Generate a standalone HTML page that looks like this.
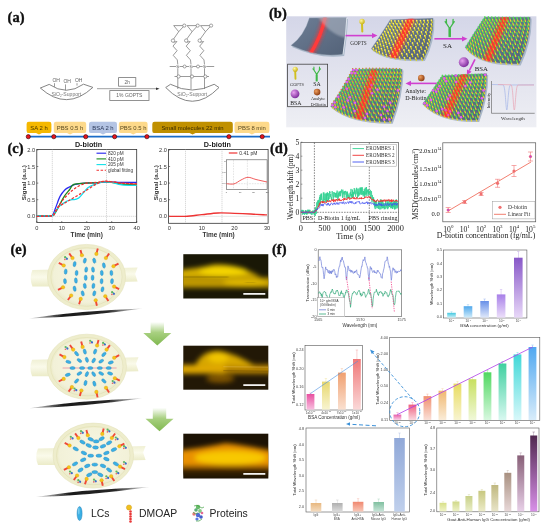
<!DOCTYPE html>
<html><head><meta charset="utf-8"><style>html,body{margin:0;padding:0;background:#fff;width:550px;height:532px;overflow:hidden}svg{display:block;filter:blur(0.4px)}</style></head>
<body><svg width="550" height="532" viewBox="0 0 550 532"><defs>
<linearGradient id="slate" x1="0" y1="0" x2="1" y2="1"><stop offset="0" stop-color="#6e7e96"/><stop offset="1" stop-color="#536278"/></linearGradient>
<linearGradient id="bgb" x1="0" y1="0" x2="0" y2="1"><stop offset="0" stop-color="#d4d6e8"/><stop offset="0.6" stop-color="#e4e5ef"/><stop offset="1" stop-color="#eeeff4"/></linearGradient>
<radialGradient id="ballp" cx="0.35" cy="0.35" r="0.7"><stop offset="0" stop-color="#e8a0f0"/><stop offset="1" stop-color="#7a2a9a"/></radialGradient>
<radialGradient id="ballo" cx="0.35" cy="0.35" r="0.7"><stop offset="0" stop-color="#f0a060"/><stop offset="1" stop-color="#8a3a10"/></radialGradient>
<radialGradient id="bub" cx="0.5" cy="0.45" r="0.6"><stop offset="0" stop-color="#f8f7e4"/><stop offset="0.8" stop-color="#f2f1d8"/><stop offset="1" stop-color="#e4e3c0"/></radialGradient>
<linearGradient id="stem" x1="0" y1="0" x2="0" y2="1"><stop offset="0" stop-color="#f0f0d4"/><stop offset="0.45" stop-color="#fafaea"/><stop offset="1" stop-color="#ebebc8"/></linearGradient>
<linearGradient id="garr" x1="0" y1="0" x2="0" y2="1"><stop offset="0" stop-color="#ffffff"/><stop offset="0.45" stop-color="#a8d080"/><stop offset="1" stop-color="#80b850"/></linearGradient>
<radialGradient id="bally" cx="0.35" cy="0.35" r="0.7"><stop offset="0" stop-color="#fff8a0"/><stop offset="1" stop-color="#c8b010"/></radialGradient>
<filter id="blur1b" x="-50%" y="-50%" width="200%" height="200%"><feGaussianBlur stdDeviation="1"/></filter>
<filter id="blur05" x="-20%" y="-200%" width="140%" height="500%"><feGaussianBlur stdDeviation="0.5"/></filter>
<filter id="blurM" x="-50%" y="-50%" width="200%" height="200%"><feGaussianBlur stdDeviation="2.6"/></filter>
<filter id="blur05b" x="-10%" y="-100%" width="120%" height="300%"><feGaussianBlur stdDeviation="0.55"/></filter>
<linearGradient id="shad" x1="0" y1="0" x2="1" y2="0"><stop offset="0" stop-color="#222" stop-opacity="0.15"/><stop offset="0.3" stop-color="#111" stop-opacity="0.95"/><stop offset="0.7" stop-color="#111" stop-opacity="0.9"/><stop offset="1" stop-color="#444" stop-opacity="0.2"/></linearGradient>
<filter id="blur05c" x="-50%" y="-20%" width="200%" height="140%"><feGaussianBlur stdDeviation="0.7"/></filter>
<filter id="blur1" x="-20%" y="-200%" width="140%" height="500%"><feGaussianBlur stdDeviation="0.8"/></filter>
<filter id="blur2" x="-30%" y="-30%" width="160%" height="160%"><feGaussianBlur stdDeviation="1.5"/></filter>
<filter id="blur3" x="-30%" y="-50%" width="160%" height="200%"><feGaussianBlur stdDeviation="2.5"/></filter>
</defs><rect width="550" height="532" fill="#fff"/><text x="7.6" y="21.6" font-size="14.5" font-family="Liberation Serif" text-anchor="start" font-weight="bold" fill="#111" stroke="#111" stroke-width="0.35">(a)</text>
<path d="M40.3,88 Q66.6,111.6 92.9,87.4 L83.5,84.2 Q66.4,96.2 49.2,84.4 Z" fill="#fff" stroke="#777" stroke-width="0.9"/>
<text x="66.3" y="95.6" font-size="5.1" font-family="Liberation Sans" text-anchor="middle" font-weight="normal" fill="#777" >SiO<tspan font-size="3.2" dy="1">2</tspan><tspan dy="-1">-Support</tspan></text>
<line x1="54.5" y1="83.2" x2="54.5" y2="86.8" stroke="#707070" stroke-width="0.7" fill="none"/>
<line x1="65.5" y1="84.4" x2="65.5" y2="90.3" stroke="#707070" stroke-width="0.7" fill="none"/>
<line x1="77" y1="83.2" x2="77" y2="85.6" stroke="#707070" stroke-width="0.7" fill="none"/>
<text x="56.2" y="82.2" font-size="5" font-family="Liberation Sans" text-anchor="middle" font-weight="normal" fill="#666" >OH</text>
<text x="67.2" y="83.4" font-size="5" font-family="Liberation Sans" text-anchor="middle" font-weight="normal" fill="#666" >OH</text>
<text x="78.7" y="82.4" font-size="5" font-family="Liberation Sans" text-anchor="middle" font-weight="normal" fill="#666" >OH</text>
<line x1="97" y1="88.7" x2="157.5" y2="88.7" stroke="#888" stroke-width="0.8"/>
<path d="M156,87.4 L159.6,88.7 L156,90 Z" fill="#333"/>
<rect x="118.6" y="77.6" width="17.2" height="8.6" fill="#fff" stroke="#777" stroke-width="0.8"/>
<text x="127.2" y="83.8" font-size="4.8" font-family="Liberation Sans" text-anchor="middle" font-weight="normal" fill="#666" >2h</text>
<rect x="109.8" y="90.6" width="39.2" height="9.8" fill="#fff" stroke="#777" stroke-width="0.8"/>
<text x="129.4" y="97.4" font-size="5" font-family="Liberation Sans" text-anchor="middle" font-weight="normal" fill="#666" >1% GOPTS</text>
<path d="M165.7,87.5 Q192.3,115 219,87.5 L214.2,84.3 Q192.3,95.7 170.5,84.3 Z" fill="#fff" stroke="#777" stroke-width="0.9"/>
<text x="192.2" y="96" font-size="5.1" font-family="Liberation Sans" text-anchor="middle" font-weight="normal" fill="#777" >SiO<tspan font-size="3.2" dy="1">2</tspan><tspan dy="-1">-Support</tspan></text>
<line x1="177.8" y1="66.5" x2="177.8" y2="89" stroke="#707070" stroke-width="0.7" fill="none"/>
<line x1="191" y1="66.5" x2="191" y2="89" stroke="#707070" stroke-width="0.7" fill="none"/>
<line x1="204.5" y1="66.5" x2="204.5" y2="89" stroke="#707070" stroke-width="0.7" fill="none"/>
<line x1="169.7" y1="66.5" x2="214.2" y2="66.5" stroke="#707070" stroke-width="0.7" fill="none"/>
<line x1="174.5" y1="76.5" x2="209" y2="76.5" stroke="#707070" stroke-width="0.7" fill="none"/>
<circle cx="178.6" cy="76.5" r="1.6" fill="#fff" stroke="#666" stroke-width="0.6"/>
<circle cx="192" cy="76.5" r="1.6" fill="#fff" stroke="#666" stroke-width="0.6"/>
<circle cx="205.3" cy="76.5" r="1.6" fill="#fff" stroke="#666" stroke-width="0.6"/>
<circle cx="184.6" cy="66.5" r="1.5" fill="#fff" stroke="#666" stroke-width="0.6"/>
<circle cx="198" cy="66.5" r="1.5" fill="#fff" stroke="#666" stroke-width="0.6"/>
<rect x="176.0" y="64.6" width="3.6" height="3.6" fill="#fff"/>
<text x="177.8" y="68" font-size="3.6" font-family="Liberation Sans" text-anchor="middle" font-weight="normal" fill="#555" >Si</text>
<rect x="189.2" y="64.6" width="3.6" height="3.6" fill="#fff"/>
<text x="191" y="68" font-size="3.6" font-family="Liberation Sans" text-anchor="middle" font-weight="normal" fill="#555" >Si</text>
<rect x="202.7" y="64.6" width="3.6" height="3.6" fill="#fff"/>
<text x="204.5" y="68" font-size="3.6" font-family="Liberation Sans" text-anchor="middle" font-weight="normal" fill="#555" >Si</text>
<path d="M177.8,64.5 L177.3,59.9 L173.2,55.3 L177.1,50.7 L173.0,46.1 L176.9,41.5 L173.5,42.2" stroke="#707070" stroke-width="0.7" fill="none"/>
<circle cx="173.0" cy="40.6" r="1.7" fill="#fff" stroke="#666" stroke-width="0.6"/>
<path d="M173.6,39 L178.7,31.7" stroke="#707070" stroke-width="0.7" fill="none"/>
<path d="M173.7,25.6 L184.29999999999998,25.6 L178.7,31.7 Z" stroke="#707070" stroke-width="0.7" fill="none"/>
<circle cx="184.29999999999998" cy="25.6" r="1.6" fill="#fff" stroke="#666" stroke-width="0.6"/>
<path d="M191.0,64.5 L190.5,59.9 L186.4,55.3 L190.3,50.7 L186.2,46.1 L190.1,41.5 L186.7,42.2" stroke="#707070" stroke-width="0.7" fill="none"/>
<circle cx="186.2" cy="40.6" r="1.7" fill="#fff" stroke="#666" stroke-width="0.6"/>
<path d="M186.79999999999998,39 L192.1,31.7" stroke="#707070" stroke-width="0.7" fill="none"/>
<path d="M187.1,25.6 L197.7,25.6 L192.1,31.7 Z" stroke="#707070" stroke-width="0.7" fill="none"/>
<circle cx="197.7" cy="25.6" r="1.6" fill="#fff" stroke="#666" stroke-width="0.6"/>
<path d="M204.5,64.5 L204.0,59.9 L199.9,55.3 L203.8,50.7 L199.7,46.1 L203.6,41.5 L200.2,42.2" stroke="#707070" stroke-width="0.7" fill="none"/>
<circle cx="199.7" cy="40.6" r="1.7" fill="#fff" stroke="#666" stroke-width="0.6"/>
<path d="M200.29999999999998,39 L205.5,31.7" stroke="#707070" stroke-width="0.7" fill="none"/>
<path d="M200.5,25.6 L211.1,25.6 L205.5,31.7 Z" stroke="#707070" stroke-width="0.7" fill="none"/>
<circle cx="211.1" cy="25.6" r="1.6" fill="#fff" stroke="#666" stroke-width="0.6"/>
<rect x="26.6" y="121.8" width="24.8" height="11.3" rx="2.2" fill="#f5b800"/>
<path d="M35.5,132.8 L39.0,134.6 L42.5,132.8 Z" fill="#f5b800"/>
<text x="39.0" y="129.8" font-size="5.9" font-family="Liberation Sans" text-anchor="middle" font-weight="normal" fill="#4a3800" >SA 2 h</text>
<rect x="53.8" y="121.8" width="32.4" height="11.3" rx="2.2" fill="#fdd98a"/>
<path d="M66.5,132.8 L70.0,134.6 L73.5,132.8 Z" fill="#fdd98a"/>
<text x="70.0" y="129.8" font-size="5.9" font-family="Liberation Sans" text-anchor="middle" font-weight="normal" fill="#5a4a20" >PBS 0.5 h</text>
<rect x="89" y="121.8" width="28.0" height="11.3" rx="2.2" fill="#b4c4e4"/>
<path d="M99.5,132.8 L103.0,134.6 L106.5,132.8 Z" fill="#b4c4e4"/>
<text x="103.0" y="129.8" font-size="5.9" font-family="Liberation Sans" text-anchor="middle" font-weight="normal" fill="#2a3858" >BSA 2 h</text>
<rect x="118.8" y="121.8" width="28.8" height="11.3" rx="2.2" fill="#fdd98a"/>
<path d="M129.7,132.8 L133.2,134.6 L136.7,132.8 Z" fill="#fdd98a"/>
<text x="133.2" y="129.8" font-size="5.9" font-family="Liberation Sans" text-anchor="middle" font-weight="normal" fill="#5a4a20" >PBS 0.5 h</text>
<rect x="152.3" y="121.8" width="80.5" height="11.3" rx="2.2" fill="#c09000"/>
<path d="M189.05,132.8 L192.55,134.6 L196.05,132.8 Z" fill="#c09000"/>
<text x="192.55" y="129.8" font-size="5.9" font-family="Liberation Sans" text-anchor="middle" font-weight="normal" fill="#3a2c00" >Small molecules 22 min</text>
<rect x="234.5" y="121.8" width="34.9" height="11.3" rx="2.2" fill="#fdd98a"/>
<path d="M248.45,132.8 L251.95,134.6 L255.45,132.8 Z" fill="#fdd98a"/>
<text x="251.95" y="129.8" font-size="5.9" font-family="Liberation Sans" text-anchor="middle" font-weight="normal" fill="#5a4a20" >PBS 8 min</text>
<line x1="27" y1="136.7" x2="270" y2="136.7" stroke="#1a6cc8" stroke-width="1.8"/>
<circle cx="28.3" cy="136.7" r="2.1" fill="#e8141e" stroke="#2a0000" stroke-width="0.6"/>
<circle cx="53.8" cy="136.7" r="2.1" fill="#e8141e" stroke="#2a0000" stroke-width="0.6"/>
<circle cx="85.7" cy="136.7" r="2.1" fill="#e8141e" stroke="#2a0000" stroke-width="0.6"/>
<circle cx="114.6" cy="136.7" r="2.1" fill="#e8141e" stroke="#2a0000" stroke-width="0.6"/>
<circle cx="146.9" cy="136.7" r="2.1" fill="#e8141e" stroke="#2a0000" stroke-width="0.6"/>
<circle cx="228.9" cy="136.7" r="2.1" fill="#e8141e" stroke="#2a0000" stroke-width="0.6"/>
<circle cx="262.2" cy="136.7" r="2.1" fill="#e8141e" stroke="#2a0000" stroke-width="0.6"/>
<text x="7.5" y="153.1" font-size="14.5" font-family="Liberation Serif" text-anchor="start" font-weight="bold" fill="#111" stroke="#111" stroke-width="0.35">(c)</text>
<rect x="36.8" y="149.4" width="99.89999999999999" height="73.1" fill="#fff" stroke="#333" stroke-width="0.8"/>
<line x1="36.8" y1="216.3" x2="38.3" y2="216.3" stroke="#333" stroke-width="0.6"/>
<text x="35.0" y="218.3" font-size="5.6" font-family="Liberation Sans" text-anchor="end" font-weight="normal" fill="#333" >0.0</text>
<line x1="36.8" y1="199.70000000000002" x2="38.3" y2="199.70000000000002" stroke="#333" stroke-width="0.6"/>
<text x="35.0" y="201.70000000000002" font-size="5.6" font-family="Liberation Sans" text-anchor="end" font-weight="normal" fill="#333" >0.5</text>
<line x1="36.8" y1="183.10000000000002" x2="38.3" y2="183.10000000000002" stroke="#333" stroke-width="0.6"/>
<text x="35.0" y="185.10000000000002" font-size="5.6" font-family="Liberation Sans" text-anchor="end" font-weight="normal" fill="#333" >1.0</text>
<line x1="36.8" y1="166.5" x2="38.3" y2="166.5" stroke="#333" stroke-width="0.6"/>
<text x="35.0" y="168.5" font-size="5.6" font-family="Liberation Sans" text-anchor="end" font-weight="normal" fill="#333" >1.5</text>
<line x1="36.8" y1="149.9" x2="38.3" y2="149.9" stroke="#333" stroke-width="0.6"/>
<text x="35.0" y="151.9" font-size="5.6" font-family="Liberation Sans" text-anchor="end" font-weight="normal" fill="#333" >2.0</text>
<line x1="36.8" y1="222.5" x2="36.8" y2="221.0" stroke="#333" stroke-width="0.6"/>
<text x="36.8" y="229.8" font-size="5.6" font-family="Liberation Sans" text-anchor="middle" font-weight="normal" fill="#333" >0</text>
<line x1="61.77499999999999" y1="222.5" x2="61.77499999999999" y2="221.0" stroke="#333" stroke-width="0.6"/>
<text x="61.77499999999999" y="229.8" font-size="5.6" font-family="Liberation Sans" text-anchor="middle" font-weight="normal" fill="#333" >10</text>
<line x1="86.75" y1="222.5" x2="86.75" y2="221.0" stroke="#333" stroke-width="0.6"/>
<text x="86.75" y="229.8" font-size="5.6" font-family="Liberation Sans" text-anchor="middle" font-weight="normal" fill="#333" >20</text>
<line x1="111.72499999999998" y1="222.5" x2="111.72499999999998" y2="221.0" stroke="#333" stroke-width="0.6"/>
<text x="111.72499999999998" y="229.8" font-size="5.6" font-family="Liberation Sans" text-anchor="middle" font-weight="normal" fill="#333" >30</text>
<line x1="136.7" y1="222.5" x2="136.7" y2="221.0" stroke="#333" stroke-width="0.6"/>
<text x="136.7" y="229.8" font-size="5.6" font-family="Liberation Sans" text-anchor="middle" font-weight="normal" fill="#333" >40</text>
<text x="86.7" y="236.6" font-size="6.4" font-family="Liberation Sans" text-anchor="middle" font-weight="bold" fill="#333" >Time (min)</text>
<text x="0" y="0" font-size="6.2" font-family="Liberation Sans" text-anchor="middle" font-weight="bold" fill="#333" transform="translate(26.2,182.6) rotate(-90)">Signal (a.u.)</text>
<text x="88.5" y="147.3" font-size="7.2" font-family="Liberation Sans" text-anchor="middle" font-weight="bold" fill="#222" >D-biotin</text>
<line x1="36.8" y1="216.3" x2="136.7" y2="216.3" stroke="#999" stroke-width="0.6" stroke-dasharray="0.8,1.2"/>
<line x1="52.3" y1="149.4" x2="52.3" y2="222.5" stroke="#999" stroke-width="0.6" stroke-dasharray="0.8,1.2"/>
<line x1="106.5" y1="149.4" x2="106.5" y2="222.5" stroke="#999" stroke-width="0.6" stroke-dasharray="0.8,1.2"/>
<path d="M36.80,215.64 C38.05,215.75 41.75,216.30 44.29,216.30 C46.83,216.30 50.16,217.02 52.03,215.64 C53.91,214.25 54.20,211.21 55.53,208.00 C56.86,204.79 58.44,199.42 60.03,196.38 C61.61,193.34 63.48,191.29 65.02,189.74 C66.56,188.19 67.56,187.97 69.27,187.08 C70.97,186.20 72.56,185.09 75.26,184.43 C77.97,183.76 81.92,183.38 85.50,183.10 C89.08,182.82 93.20,182.99 96.74,182.77 C100.28,182.55 102.57,181.83 106.73,181.77 C110.89,181.72 116.72,182.33 121.71,182.44 C126.71,182.55 134.20,182.44 136.70,182.44" fill="none" stroke="#2a2af0" stroke-width="1.25" />
<path d="M36.80,215.64 C39.34,215.64 48.91,216.19 52.03,215.64 C55.16,215.08 54.20,214.25 55.53,212.32 C56.86,210.38 58.57,206.67 60.03,204.02 C61.48,201.36 62.69,198.76 64.27,196.38 C65.85,194.00 67.94,191.73 69.52,189.74 C71.10,187.75 71.31,185.53 73.76,184.43 C76.22,183.32 80.42,183.38 84.25,183.10 C88.08,182.82 92.99,182.99 96.74,182.77 C100.49,182.55 102.57,181.55 106.73,181.77 C110.89,181.99 116.72,183.60 121.71,184.10 C126.71,184.59 134.20,184.65 136.70,184.76" fill="none" stroke="#1a8a1a" stroke-width="1.25" />
<path d="M36.80,215.64 C39.34,215.64 48.91,216.36 52.03,215.64 C55.16,214.92 54.32,212.87 55.53,211.32 C56.74,209.77 57.45,208.00 59.28,206.34 C61.11,204.68 64.44,202.47 66.52,201.36 C68.60,200.25 69.81,200.20 71.76,199.70 C73.72,199.20 75.51,200.42 78.26,198.37 C81.01,196.32 85.17,189.85 88.25,187.42 C91.33,184.98 94.08,184.70 96.74,183.76 C99.40,182.82 101.73,181.99 104.23,181.77 C106.73,181.55 108.81,181.94 111.72,182.44 C114.64,182.93 117.55,184.26 121.71,184.76 C125.88,185.26 134.20,185.31 136.70,185.42" fill="none" stroke="#10e0f0" stroke-width="1.25" />
<path d="M36.80,216.30 C39.34,216.19 49.00,216.36 52.03,215.64 C55.07,214.92 53.41,214.36 55.03,211.98 C56.66,209.60 58.90,204.96 61.77,201.36 C64.65,197.76 68.56,193.34 72.26,190.40 C75.97,187.47 79.92,185.09 84.00,183.76 C88.08,182.44 92.95,182.82 96.74,182.44 C100.53,182.05 102.57,181.33 106.73,181.44 C110.89,181.55 116.72,182.66 121.71,183.10 C126.71,183.54 134.20,183.93 136.70,184.10" fill="none" stroke="#f03030" stroke-width="1.25" stroke-dasharray="2.6,1.6"/>
<path d="M36.80,216.30 C39.34,216.19 49.00,216.36 52.03,215.64 C55.07,214.92 53.82,213.53 55.03,211.98 C56.24,210.43 57.36,208.00 59.28,206.34 C61.19,204.68 64.02,203.52 66.52,202.02 C69.02,200.53 71.35,199.09 74.26,197.38 C77.18,195.66 80.21,194.00 84.00,191.73 C87.79,189.46 93.37,185.53 96.99,183.76 C100.61,181.99 101.61,181.22 105.73,181.11 C109.85,181.00 116.55,182.66 121.71,183.10 C126.88,183.54 134.20,183.65 136.70,183.76" fill="none" stroke="#f03030" stroke-width="1.25" stroke-dasharray="2.6,1.6"/>
<line x1="96.5" y1="153.2" x2="106" y2="153.2" stroke="#2222ee" stroke-width="1.1" />
<text x="108" y="154.89999999999998" font-size="4.7" font-family="Liberation Sans" text-anchor="start" font-weight="normal" fill="#333" >820 pM</text>
<line x1="96.5" y1="158.89999999999998" x2="106" y2="158.89999999999998" stroke="#1a8a1a" stroke-width="1.1" />
<text x="108" y="160.59999999999997" font-size="4.7" font-family="Liberation Sans" text-anchor="start" font-weight="normal" fill="#333" >410 pM</text>
<line x1="96.5" y1="164.6" x2="106" y2="164.6" stroke="#10e0e8" stroke-width="1.1" />
<text x="108" y="166.29999999999998" font-size="4.7" font-family="Liberation Sans" text-anchor="start" font-weight="normal" fill="#333" >205 pM</text>
<line x1="96.5" y1="170.29999999999998" x2="106" y2="170.29999999999998" stroke="#ee3333" stroke-width="1.1" stroke-dasharray="2.5,1.6"/>
<text x="108" y="171.99999999999997" font-size="4.7" font-family="Liberation Sans" text-anchor="start" font-weight="normal" fill="#333" >global fitting</text>
<rect x="168.6" y="149.4" width="99.50000000000003" height="73.9" fill="#fff" stroke="#333" stroke-width="0.8"/>
<line x1="168.6" y1="216.3" x2="170.1" y2="216.3" stroke="#333" stroke-width="0.6"/>
<text x="166.79999999999998" y="218.3" font-size="5.6" font-family="Liberation Sans" text-anchor="end" font-weight="normal" fill="#333" >0.0</text>
<line x1="168.6" y1="199.70000000000002" x2="170.1" y2="199.70000000000002" stroke="#333" stroke-width="0.6"/>
<text x="166.79999999999998" y="201.70000000000002" font-size="5.6" font-family="Liberation Sans" text-anchor="end" font-weight="normal" fill="#333" >0.5</text>
<line x1="168.6" y1="183.10000000000002" x2="170.1" y2="183.10000000000002" stroke="#333" stroke-width="0.6"/>
<text x="166.79999999999998" y="185.10000000000002" font-size="5.6" font-family="Liberation Sans" text-anchor="end" font-weight="normal" fill="#333" >1.0</text>
<line x1="168.6" y1="166.5" x2="170.1" y2="166.5" stroke="#333" stroke-width="0.6"/>
<text x="166.79999999999998" y="168.5" font-size="5.6" font-family="Liberation Sans" text-anchor="end" font-weight="normal" fill="#333" >1.5</text>
<line x1="168.6" y1="149.9" x2="170.1" y2="149.9" stroke="#333" stroke-width="0.6"/>
<text x="166.79999999999998" y="151.9" font-size="5.6" font-family="Liberation Sans" text-anchor="end" font-weight="normal" fill="#333" >2.0</text>
<text x="169.2" y="229.8" font-size="5.6" font-family="Liberation Sans" text-anchor="middle" font-weight="normal" fill="#333" >0</text>
<text x="201.79999999999998" y="229.8" font-size="5.6" font-family="Liberation Sans" text-anchor="middle" font-weight="normal" fill="#333" >10</text>
<text x="234.39999999999998" y="229.8" font-size="5.6" font-family="Liberation Sans" text-anchor="middle" font-weight="normal" fill="#333" >20</text>
<text x="267.0" y="229.8" font-size="5.6" font-family="Liberation Sans" text-anchor="middle" font-weight="normal" fill="#333" >30</text>
<text x="218.6" y="236.6" font-size="6.4" font-family="Liberation Sans" text-anchor="middle" font-weight="bold" fill="#333" >Time (min)</text>
<text x="0" y="0" font-size="6.2" font-family="Liberation Sans" text-anchor="middle" font-weight="bold" fill="#333" transform="translate(158.4,182.6) rotate(-90)">Signal (a.u.)</text>
<text x="217.4" y="147.3" font-size="7.2" font-family="Liberation Sans" text-anchor="middle" font-weight="bold" fill="#222" >D-biotin</text>
<line x1="168.6" y1="216.3" x2="268.1" y2="216.3" stroke="#999" stroke-width="0.6" stroke-dasharray="0.8,1.2"/>
<line x1="185.5" y1="149.4" x2="185.5" y2="223.3" stroke="#999" stroke-width="0.6" stroke-dasharray="0.8,1.2"/>
<line x1="222" y1="149.4" x2="222" y2="223.3" stroke="#999" stroke-width="0.6" stroke-dasharray="0.8,1.2"/>
<path d="M169.20,216.30 C171.92,216.30 180.07,216.58 185.50,216.30 C190.93,216.02 196.37,215.19 201.80,214.64 C207.23,214.09 212.67,213.20 218.10,212.98 C223.53,212.76 228.97,213.15 234.40,213.31 C239.83,213.48 245.27,213.70 250.70,213.98 C256.13,214.25 264.28,214.81 267.00,214.97" fill="none" stroke="#ee3333" stroke-width="1.3"/>
<line x1="228.8" y1="153" x2="237.4" y2="153" stroke="#ee3333" stroke-width="1.2"/>
<text x="239.3" y="154.8" font-size="5" font-family="Liberation Sans" text-anchor="start" font-weight="normal" fill="#333" >0.41 pM</text>
<rect x="226.5" y="159.8" width="40.6" height="29.8" fill="#fff" stroke="#555" stroke-width="0.6"/>
<line x1="233.5" y1="160" x2="233.5" y2="189.6" stroke="#aaa" stroke-width="0.5" stroke-dasharray="0.6,1"/>
<line x1="247.4" y1="160" x2="247.4" y2="189.6" stroke="#aaa" stroke-width="0.5" stroke-dasharray="0.6,1"/>
<text x="226.5" y="192.6" font-size="2.4" font-family="Liberation Sans" text-anchor="middle" font-weight="normal" fill="#444" >0</text>
<text x="240.0" y="192.6" font-size="2.4" font-family="Liberation Sans" text-anchor="middle" font-weight="normal" fill="#444" >10</text>
<text x="253.5" y="192.6" font-size="2.4" font-family="Liberation Sans" text-anchor="middle" font-weight="normal" fill="#444" >20</text>
<text x="267.0" y="192.6" font-size="2.4" font-family="Liberation Sans" text-anchor="middle" font-weight="normal" fill="#444" >30</text>
<line x1="226.5" y1="183.7" x2="267" y2="183.7" stroke="#aaa" stroke-width="0.5" stroke-dasharray="0.6,1"/>
<path d="M226.50,183.70 C227.75,183.73 231.58,184.52 234.00,183.90 C236.42,183.28 238.67,181.10 241.00,180.00 C243.33,178.90 245.50,177.38 248.00,177.30 C250.50,177.22 252.83,178.72 256.00,179.50 C259.17,180.28 265.17,181.58 267.00,182.00" fill="none" stroke="#ee3333" stroke-width="0.8"/>
<text x="225.5" y="161.5" font-size="2.4" font-family="Liberation Sans" text-anchor="end" font-weight="normal" fill="#444" >2</text>
<text x="225.5" y="172.5" font-size="2.4" font-family="Liberation Sans" text-anchor="end" font-weight="normal" fill="#444" >1.5</text>
<text x="225.5" y="184" font-size="2.4" font-family="Liberation Sans" text-anchor="end" font-weight="normal" fill="#444" >0.0</text>
<text x="269" y="17.8" font-size="14.5" font-family="Liberation Serif" text-anchor="start" font-weight="bold" fill="#111" stroke="#111" stroke-width="0.35">(b)</text>
<rect x="286.2" y="16.3" width="250.2" height="111" fill="url(#bgb)"/>
<path d="M309.3,17.8 Q328,17.5 346.8,17.6 Q346,36 343,54.5 Q318,58 290.8,45.5 Q304,36 309.3,17.8 Z" fill="#a8b6c8" transform="translate(1.2,1.4)"/>
<path d="M309.3,17.8 Q328,17.5 346.8,17.6 Q346,36 343,54.5 Q318,58 290.8,45.5 Q304,36 309.3,17.8 Z" fill="url(#slate)"/>
<clipPath id="cp1"><path d="M309.3,17.8 Q328,17.5 346.8,17.6 Q346,36 343,54.5 Q318,58 290.8,45.5 Q304,36 309.3,17.8 Z"/></clipPath>
<g clip-path="url(#cp1)">
<path d="M325.3,16 Q322,36 309,56" fill="none" stroke="#ff3030" stroke-width="7" opacity="0.55" filter="url(#blur2)"/><path d="M325.3,16 Q322,36 309,56" fill="none" stroke="#ff3a3a" stroke-width="3.4" filter="url(#blur05c)"/>
<path d="M316,14 L350,14 L348,38 Q330,36 316,14 Z" fill="#b4bcc8" opacity="0.55" filter="url(#blur1b)"/>
</g>
<path d="M309.3,17.8 Q328,17.5 346.8,17.6 Q346,36 343,54.5 Q318,58 290.8,45.5 Q304,36 309.3,17.8 Z" fill="none" stroke="#c0cad8" stroke-width="0.5" opacity="0.7"/>
<path d="M346.8,17.6 Q346,36 343,54.5" fill="none" stroke="#e8ecf4" stroke-width="0.9" opacity="0.9"/>
<path d="M362,23.5 L362.3,31.5" stroke="#d0c020" stroke-width="2.0" stroke-linecap="round"/>
<circle cx="362" cy="21.5" r="2.7" fill="url(#bally)"/>
<line x1="345.5" y1="35.6" x2="372.0" y2="35.6" stroke="#d040d0" stroke-width="1.6"/>
<path d="M377.5,35.6 L372.0,38.2 L372.0,33.0 Z" fill="#d040d0"/>
<text x="358.5" y="45.2" font-size="5.2" font-family="Liberation Serif" text-anchor="middle" font-weight="normal" fill="#333" >GOPTS</text>
<path d="M390.2,19.5 Q412,19 433.2,18.1 Q434,40 423.7,59.7 Q385,61 371.1,48.8 Q382,33 390.2,19.5 Z" fill="#a8b6c8" transform="translate(1.2,1.4)"/>
<path d="M390.2,19.5 Q412,19 433.2,18.1 Q434,40 423.7,59.7 Q385,61 371.1,48.8 Q382,33 390.2,19.5 Z" fill="url(#slate)"/>
<clipPath id="cp2"><path d="M390.2,19.5 Q412,19 433.2,18.1 Q434,40 423.7,59.7 Q385,61 371.1,48.8 Q382,33 390.2,19.5 Z"/></clipPath>
<g clip-path="url(#cp2)">
<line x1="411.4" y1="17" x2="391" y2="62" stroke="#ff3030" stroke-width="9" opacity="0.7" filter="url(#blur2)"/>
<line x1="411.4" y1="17" x2="391" y2="62" stroke="#ff3838" stroke-width="4.5" opacity="0.9" filter="url(#blur05c)"/>
</g>
<path d="M390.2,19.5 Q412,19 433.2,18.1 Q434,40 423.7,59.7 Q385,61 371.1,48.8 Q382,33 390.2,19.5 Z" fill="none" stroke="#c0cad8" stroke-width="0.5" opacity="0.7"/>
<line x1="391.3" y1="20.7" x2="392.3" y2="23.7" stroke="#e0d818" stroke-width="1.1"/>
<circle cx="391.3" cy="20.7" r="0.85" fill="#fff060"/>
<line x1="389.7" y1="23.3" x2="390.7" y2="26.3" stroke="#e0d818" stroke-width="1.1"/>
<circle cx="389.7" cy="23.3" r="0.85" fill="#fff060"/>
<line x1="388.1" y1="26.0" x2="389.1" y2="29.0" stroke="#e0d818" stroke-width="1.1"/>
<circle cx="388.1" cy="26.0" r="0.85" fill="#fff060"/>
<line x1="386.4" y1="28.7" x2="387.4" y2="31.7" stroke="#e0d818" stroke-width="1.1"/>
<circle cx="386.4" cy="28.7" r="0.85" fill="#fff060"/>
<line x1="384.7" y1="31.4" x2="385.7" y2="34.4" stroke="#e0d818" stroke-width="1.1"/>
<circle cx="384.7" cy="31.4" r="0.85" fill="#fff060"/>
<line x1="382.9" y1="34.1" x2="383.9" y2="37.1" stroke="#e0d818" stroke-width="1.1"/>
<circle cx="382.9" cy="34.1" r="0.85" fill="#fff060"/>
<line x1="381.1" y1="36.9" x2="382.1" y2="39.9" stroke="#e0d818" stroke-width="1.1"/>
<circle cx="381.1" cy="36.9" r="0.85" fill="#fff060"/>
<line x1="379.2" y1="39.7" x2="380.2" y2="42.7" stroke="#e0d818" stroke-width="1.1"/>
<circle cx="379.2" cy="39.7" r="0.85" fill="#fff060"/>
<line x1="377.3" y1="42.5" x2="378.3" y2="45.5" stroke="#e0d818" stroke-width="1.1"/>
<circle cx="377.3" cy="42.5" r="0.85" fill="#fff060"/>
<line x1="375.3" y1="45.4" x2="376.3" y2="48.4" stroke="#e0d818" stroke-width="1.1"/>
<circle cx="375.3" cy="45.4" r="0.85" fill="#fff060"/>
<line x1="373.3" y1="48.3" x2="374.3" y2="51.3" stroke="#e0d818" stroke-width="1.1"/>
<circle cx="373.3" cy="48.3" r="0.85" fill="#fff060"/>
<line x1="394.9" y1="20.8" x2="395.9" y2="23.8" stroke="#e0d818" stroke-width="1.1"/>
<circle cx="394.9" cy="20.8" r="0.85" fill="#fff060"/>
<line x1="393.3" y1="23.6" x2="394.3" y2="26.6" stroke="#e0d818" stroke-width="1.1"/>
<circle cx="393.3" cy="23.6" r="0.85" fill="#fff060"/>
<line x1="391.6" y1="26.4" x2="392.6" y2="29.4" stroke="#e0d818" stroke-width="1.1"/>
<circle cx="391.6" cy="26.4" r="0.85" fill="#fff060"/>
<line x1="389.9" y1="29.3" x2="390.9" y2="32.3" stroke="#e0d818" stroke-width="1.1"/>
<circle cx="389.9" cy="29.3" r="0.85" fill="#fff060"/>
<line x1="388.1" y1="32.2" x2="389.1" y2="35.2" stroke="#e0d818" stroke-width="1.1"/>
<circle cx="388.1" cy="32.2" r="0.85" fill="#fff060"/>
<line x1="386.2" y1="35.1" x2="387.2" y2="38.1" stroke="#e0d818" stroke-width="1.1"/>
<circle cx="386.2" cy="35.1" r="0.85" fill="#fff060"/>
<line x1="384.3" y1="38.0" x2="385.3" y2="41.0" stroke="#e0d818" stroke-width="1.1"/>
<circle cx="384.3" cy="38.0" r="0.85" fill="#fff060"/>
<line x1="382.4" y1="41.0" x2="383.4" y2="44.0" stroke="#e0d818" stroke-width="1.1"/>
<circle cx="382.4" cy="41.0" r="0.85" fill="#fff060"/>
<line x1="380.3" y1="44.0" x2="381.3" y2="47.0" stroke="#e0d818" stroke-width="1.1"/>
<circle cx="380.3" cy="44.0" r="0.85" fill="#fff060"/>
<line x1="378.2" y1="47.0" x2="379.2" y2="50.0" stroke="#e0d818" stroke-width="1.1"/>
<circle cx="378.2" cy="47.0" r="0.85" fill="#fff060"/>
<line x1="376.1" y1="50.1" x2="377.1" y2="53.1" stroke="#e0d818" stroke-width="1.1"/>
<circle cx="376.1" cy="50.1" r="0.85" fill="#fff060"/>
<line x1="398.5" y1="20.8" x2="399.5" y2="23.8" stroke="#e0d818" stroke-width="1.1"/>
<circle cx="398.5" cy="20.8" r="0.85" fill="#fff060"/>
<line x1="396.9" y1="23.8" x2="397.9" y2="26.8" stroke="#e0d818" stroke-width="1.1"/>
<circle cx="396.9" cy="23.8" r="0.85" fill="#fff060"/>
<line x1="395.2" y1="26.8" x2="396.2" y2="29.8" stroke="#e0d818" stroke-width="1.1"/>
<circle cx="395.2" cy="26.8" r="0.85" fill="#fff060"/>
<line x1="393.4" y1="29.8" x2="394.4" y2="32.8" stroke="#e0d818" stroke-width="1.1"/>
<circle cx="393.4" cy="29.8" r="0.85" fill="#fff060"/>
<line x1="391.6" y1="32.9" x2="392.6" y2="35.9" stroke="#e0d818" stroke-width="1.1"/>
<circle cx="391.6" cy="32.9" r="0.85" fill="#fff060"/>
<line x1="389.7" y1="35.9" x2="390.7" y2="38.9" stroke="#e0d818" stroke-width="1.1"/>
<circle cx="389.7" cy="35.9" r="0.85" fill="#fff060"/>
<line x1="387.8" y1="39.0" x2="388.8" y2="42.0" stroke="#e0d818" stroke-width="1.1"/>
<circle cx="387.8" cy="39.0" r="0.85" fill="#fff060"/>
<line x1="385.7" y1="42.2" x2="386.7" y2="45.2" stroke="#e0d818" stroke-width="1.1"/>
<circle cx="385.7" cy="42.2" r="0.85" fill="#fff060"/>
<line x1="383.6" y1="45.3" x2="384.6" y2="48.3" stroke="#e0d818" stroke-width="1.1"/>
<circle cx="383.6" cy="45.3" r="0.85" fill="#fff060"/>
<line x1="381.4" y1="48.5" x2="382.4" y2="51.5" stroke="#e0d818" stroke-width="1.1"/>
<circle cx="381.4" cy="48.5" r="0.85" fill="#fff060"/>
<line x1="379.1" y1="51.7" x2="380.1" y2="54.7" stroke="#e0d818" stroke-width="1.1"/>
<circle cx="379.1" cy="51.7" r="0.85" fill="#fff060"/>
<line x1="402.1" y1="20.7" x2="403.1" y2="23.7" stroke="#e0d818" stroke-width="1.1"/>
<circle cx="402.1" cy="20.7" r="0.85" fill="#fff060"/>
<line x1="400.5" y1="23.9" x2="401.5" y2="26.9" stroke="#e0d818" stroke-width="1.1"/>
<circle cx="400.5" cy="23.9" r="0.85" fill="#fff060"/>
<line x1="398.9" y1="27.1" x2="399.9" y2="30.1" stroke="#e0d818" stroke-width="1.1"/>
<circle cx="398.9" cy="27.1" r="0.85" fill="#fff060"/>
<line x1="397.1" y1="30.3" x2="398.1" y2="33.3" stroke="#e0d818" stroke-width="1.1"/>
<circle cx="397.1" cy="30.3" r="0.85" fill="#fff060"/>
<line x1="395.3" y1="33.5" x2="396.3" y2="36.5" stroke="#e0d818" stroke-width="1.1"/>
<circle cx="395.3" cy="33.5" r="0.85" fill="#fff060"/>
<line x1="393.4" y1="36.7" x2="394.4" y2="39.7" stroke="#e0d818" stroke-width="1.1"/>
<circle cx="393.4" cy="36.7" r="0.85" fill="#fff060"/>
<line x1="391.4" y1="40.0" x2="392.4" y2="43.0" stroke="#e0d818" stroke-width="1.1"/>
<circle cx="391.4" cy="40.0" r="0.85" fill="#fff060"/>
<line x1="389.3" y1="43.2" x2="390.3" y2="46.2" stroke="#e0d818" stroke-width="1.1"/>
<circle cx="389.3" cy="43.2" r="0.85" fill="#fff060"/>
<line x1="387.1" y1="46.5" x2="388.1" y2="49.5" stroke="#e0d818" stroke-width="1.1"/>
<circle cx="387.1" cy="46.5" r="0.85" fill="#fff060"/>
<line x1="384.9" y1="49.8" x2="385.9" y2="52.8" stroke="#e0d818" stroke-width="1.1"/>
<circle cx="384.9" cy="49.8" r="0.85" fill="#fff060"/>
<line x1="382.5" y1="53.1" x2="383.5" y2="56.1" stroke="#e0d818" stroke-width="1.1"/>
<circle cx="382.5" cy="53.1" r="0.85" fill="#fff060"/>
<line x1="405.7" y1="20.7" x2="406.7" y2="23.7" stroke="#e0d818" stroke-width="1.1"/>
<circle cx="405.7" cy="20.7" r="0.85" fill="#fff060"/>
<line x1="404.2" y1="24.0" x2="405.2" y2="27.0" stroke="#e0d818" stroke-width="1.1"/>
<circle cx="404.2" cy="24.0" r="0.85" fill="#fff060"/>
<line x1="402.6" y1="27.4" x2="403.6" y2="30.4" stroke="#e0d818" stroke-width="1.1"/>
<circle cx="402.6" cy="27.4" r="0.85" fill="#fff060"/>
<line x1="400.9" y1="30.7" x2="401.9" y2="33.7" stroke="#e0d818" stroke-width="1.1"/>
<circle cx="400.9" cy="30.7" r="0.85" fill="#fff060"/>
<line x1="399.1" y1="34.1" x2="400.1" y2="37.1" stroke="#e0d818" stroke-width="1.1"/>
<circle cx="399.1" cy="34.1" r="0.85" fill="#fff060"/>
<line x1="397.2" y1="37.4" x2="398.2" y2="40.4" stroke="#e0d818" stroke-width="1.1"/>
<circle cx="397.2" cy="37.4" r="0.85" fill="#fff060"/>
<line x1="395.2" y1="40.8" x2="396.2" y2="43.8" stroke="#e0d818" stroke-width="1.1"/>
<circle cx="395.2" cy="40.8" r="0.85" fill="#fff060"/>
<line x1="393.1" y1="44.2" x2="394.1" y2="47.2" stroke="#e0d818" stroke-width="1.1"/>
<circle cx="393.1" cy="44.2" r="0.85" fill="#fff060"/>
<line x1="390.9" y1="47.5" x2="391.9" y2="50.5" stroke="#e0d818" stroke-width="1.1"/>
<circle cx="390.9" cy="47.5" r="0.85" fill="#fff060"/>
<line x1="388.6" y1="50.9" x2="389.6" y2="53.9" stroke="#e0d818" stroke-width="1.1"/>
<circle cx="388.6" cy="50.9" r="0.85" fill="#fff060"/>
<line x1="386.2" y1="54.3" x2="387.2" y2="57.3" stroke="#e0d818" stroke-width="1.1"/>
<circle cx="386.2" cy="54.3" r="0.85" fill="#fff060"/>
<line x1="409.4" y1="20.7" x2="410.4" y2="23.7" stroke="#e0d818" stroke-width="1.1"/>
<circle cx="409.4" cy="20.7" r="0.85" fill="#fff060"/>
<line x1="408.0" y1="24.1" x2="409.0" y2="27.1" stroke="#e0d818" stroke-width="1.1"/>
<circle cx="408.0" cy="24.1" r="0.85" fill="#fff060"/>
<line x1="406.4" y1="27.6" x2="407.4" y2="30.6" stroke="#e0d818" stroke-width="1.1"/>
<circle cx="406.4" cy="27.6" r="0.85" fill="#fff060"/>
<line x1="404.8" y1="31.1" x2="405.8" y2="34.1" stroke="#e0d818" stroke-width="1.1"/>
<circle cx="404.8" cy="31.1" r="0.85" fill="#fff060"/>
<line x1="403.0" y1="34.5" x2="404.0" y2="37.5" stroke="#e0d818" stroke-width="1.1"/>
<circle cx="403.0" cy="34.5" r="0.85" fill="#fff060"/>
<line x1="401.2" y1="38.0" x2="402.2" y2="41.0" stroke="#e0d818" stroke-width="1.1"/>
<circle cx="401.2" cy="38.0" r="0.85" fill="#fff060"/>
<line x1="399.2" y1="41.5" x2="400.2" y2="44.5" stroke="#e0d818" stroke-width="1.1"/>
<circle cx="399.2" cy="41.5" r="0.85" fill="#fff060"/>
<line x1="397.2" y1="44.9" x2="398.2" y2="47.9" stroke="#e0d818" stroke-width="1.1"/>
<circle cx="397.2" cy="44.9" r="0.85" fill="#fff060"/>
<line x1="395.0" y1="48.4" x2="396.0" y2="51.4" stroke="#e0d818" stroke-width="1.1"/>
<circle cx="395.0" cy="48.4" r="0.85" fill="#fff060"/>
<line x1="392.7" y1="51.9" x2="393.7" y2="54.9" stroke="#e0d818" stroke-width="1.1"/>
<circle cx="392.7" cy="51.9" r="0.85" fill="#fff060"/>
<line x1="390.3" y1="55.4" x2="391.3" y2="58.4" stroke="#e0d818" stroke-width="1.1"/>
<circle cx="390.3" cy="55.4" r="0.85" fill="#fff060"/>
<line x1="413.0" y1="20.6" x2="414.0" y2="23.6" stroke="#e0d818" stroke-width="1.1"/>
<circle cx="413.0" cy="20.6" r="0.85" fill="#fff060"/>
<line x1="411.7" y1="24.2" x2="412.7" y2="27.2" stroke="#e0d818" stroke-width="1.1"/>
<circle cx="411.7" cy="24.2" r="0.85" fill="#fff060"/>
<line x1="410.3" y1="27.8" x2="411.3" y2="30.8" stroke="#e0d818" stroke-width="1.1"/>
<circle cx="410.3" cy="27.8" r="0.85" fill="#fff060"/>
<line x1="408.8" y1="31.3" x2="409.8" y2="34.3" stroke="#e0d818" stroke-width="1.1"/>
<circle cx="408.8" cy="31.3" r="0.85" fill="#fff060"/>
<line x1="407.1" y1="34.9" x2="408.1" y2="37.9" stroke="#e0d818" stroke-width="1.1"/>
<circle cx="407.1" cy="34.9" r="0.85" fill="#fff060"/>
<line x1="405.4" y1="38.5" x2="406.4" y2="41.5" stroke="#e0d818" stroke-width="1.1"/>
<circle cx="405.4" cy="38.5" r="0.85" fill="#fff060"/>
<line x1="403.5" y1="42.0" x2="404.5" y2="45.0" stroke="#e0d818" stroke-width="1.1"/>
<circle cx="403.5" cy="42.0" r="0.85" fill="#fff060"/>
<line x1="401.4" y1="45.6" x2="402.4" y2="48.6" stroke="#e0d818" stroke-width="1.1"/>
<circle cx="401.4" cy="45.6" r="0.85" fill="#fff060"/>
<line x1="399.3" y1="49.2" x2="400.3" y2="52.2" stroke="#e0d818" stroke-width="1.1"/>
<circle cx="399.3" cy="49.2" r="0.85" fill="#fff060"/>
<line x1="397.0" y1="52.7" x2="398.0" y2="55.7" stroke="#e0d818" stroke-width="1.1"/>
<circle cx="397.0" cy="52.7" r="0.85" fill="#fff060"/>
<line x1="394.7" y1="56.3" x2="395.7" y2="59.3" stroke="#e0d818" stroke-width="1.1"/>
<circle cx="394.7" cy="56.3" r="0.85" fill="#fff060"/>
<line x1="416.7" y1="20.6" x2="417.7" y2="23.6" stroke="#e0d818" stroke-width="1.1"/>
<circle cx="416.7" cy="20.6" r="0.85" fill="#fff060"/>
<line x1="415.6" y1="24.2" x2="416.6" y2="27.2" stroke="#e0d818" stroke-width="1.1"/>
<circle cx="415.6" cy="24.2" r="0.85" fill="#fff060"/>
<line x1="414.3" y1="27.9" x2="415.3" y2="30.9" stroke="#e0d818" stroke-width="1.1"/>
<circle cx="414.3" cy="27.9" r="0.85" fill="#fff060"/>
<line x1="412.9" y1="31.6" x2="413.9" y2="34.6" stroke="#e0d818" stroke-width="1.1"/>
<circle cx="412.9" cy="31.6" r="0.85" fill="#fff060"/>
<line x1="411.3" y1="35.2" x2="412.3" y2="38.2" stroke="#e0d818" stroke-width="1.1"/>
<circle cx="411.3" cy="35.2" r="0.85" fill="#fff060"/>
<line x1="409.7" y1="38.9" x2="410.7" y2="41.9" stroke="#e0d818" stroke-width="1.1"/>
<circle cx="409.7" cy="38.9" r="0.85" fill="#fff060"/>
<line x1="407.9" y1="42.5" x2="408.9" y2="45.5" stroke="#e0d818" stroke-width="1.1"/>
<circle cx="407.9" cy="42.5" r="0.85" fill="#fff060"/>
<line x1="405.9" y1="46.1" x2="406.9" y2="49.1" stroke="#e0d818" stroke-width="1.1"/>
<circle cx="405.9" cy="46.1" r="0.85" fill="#fff060"/>
<line x1="403.9" y1="49.8" x2="404.9" y2="52.8" stroke="#e0d818" stroke-width="1.1"/>
<circle cx="403.9" cy="49.8" r="0.85" fill="#fff060"/>
<line x1="401.7" y1="53.4" x2="402.7" y2="56.4" stroke="#e0d818" stroke-width="1.1"/>
<circle cx="401.7" cy="53.4" r="0.85" fill="#fff060"/>
<line x1="399.4" y1="57.0" x2="400.4" y2="60.0" stroke="#e0d818" stroke-width="1.1"/>
<circle cx="399.4" cy="57.0" r="0.85" fill="#fff060"/>
<line x1="420.4" y1="20.5" x2="421.4" y2="23.5" stroke="#e0d818" stroke-width="1.1"/>
<circle cx="420.4" cy="20.5" r="0.85" fill="#fff060"/>
<line x1="419.4" y1="24.2" x2="420.4" y2="27.2" stroke="#e0d818" stroke-width="1.1"/>
<circle cx="419.4" cy="24.2" r="0.85" fill="#fff060"/>
<line x1="418.3" y1="28.0" x2="419.3" y2="31.0" stroke="#e0d818" stroke-width="1.1"/>
<circle cx="418.3" cy="28.0" r="0.85" fill="#fff060"/>
<line x1="417.1" y1="31.7" x2="418.1" y2="34.7" stroke="#e0d818" stroke-width="1.1"/>
<circle cx="417.1" cy="31.7" r="0.85" fill="#fff060"/>
<line x1="415.7" y1="35.5" x2="416.7" y2="38.5" stroke="#e0d818" stroke-width="1.1"/>
<circle cx="415.7" cy="35.5" r="0.85" fill="#fff060"/>
<line x1="414.2" y1="39.2" x2="415.2" y2="42.2" stroke="#e0d818" stroke-width="1.1"/>
<circle cx="414.2" cy="39.2" r="0.85" fill="#fff060"/>
<line x1="412.5" y1="42.9" x2="413.5" y2="45.9" stroke="#e0d818" stroke-width="1.1"/>
<circle cx="412.5" cy="42.9" r="0.85" fill="#fff060"/>
<line x1="410.7" y1="46.5" x2="411.7" y2="49.5" stroke="#e0d818" stroke-width="1.1"/>
<circle cx="410.7" cy="46.5" r="0.85" fill="#fff060"/>
<line x1="408.7" y1="50.2" x2="409.7" y2="53.2" stroke="#e0d818" stroke-width="1.1"/>
<circle cx="408.7" cy="50.2" r="0.85" fill="#fff060"/>
<line x1="406.6" y1="53.9" x2="407.6" y2="56.9" stroke="#e0d818" stroke-width="1.1"/>
<circle cx="406.6" cy="53.9" r="0.85" fill="#fff060"/>
<line x1="404.4" y1="57.5" x2="405.4" y2="60.5" stroke="#e0d818" stroke-width="1.1"/>
<circle cx="404.4" cy="57.5" r="0.85" fill="#fff060"/>
<line x1="424.0" y1="20.4" x2="425.0" y2="23.4" stroke="#e0d818" stroke-width="1.1"/>
<circle cx="424.0" cy="20.4" r="0.85" fill="#fff060"/>
<line x1="423.3" y1="24.2" x2="424.3" y2="27.2" stroke="#e0d818" stroke-width="1.1"/>
<circle cx="423.3" cy="24.2" r="0.85" fill="#fff060"/>
<line x1="422.4" y1="28.0" x2="423.4" y2="31.0" stroke="#e0d818" stroke-width="1.1"/>
<circle cx="422.4" cy="28.0" r="0.85" fill="#fff060"/>
<line x1="421.4" y1="31.8" x2="422.4" y2="34.8" stroke="#e0d818" stroke-width="1.1"/>
<circle cx="421.4" cy="31.8" r="0.85" fill="#fff060"/>
<line x1="420.2" y1="35.6" x2="421.2" y2="38.6" stroke="#e0d818" stroke-width="1.1"/>
<circle cx="420.2" cy="35.6" r="0.85" fill="#fff060"/>
<line x1="418.8" y1="39.4" x2="419.8" y2="42.4" stroke="#e0d818" stroke-width="1.1"/>
<circle cx="418.8" cy="39.4" r="0.85" fill="#fff060"/>
<line x1="417.3" y1="43.1" x2="418.3" y2="46.1" stroke="#e0d818" stroke-width="1.1"/>
<circle cx="417.3" cy="43.1" r="0.85" fill="#fff060"/>
<line x1="415.7" y1="46.8" x2="416.7" y2="49.8" stroke="#e0d818" stroke-width="1.1"/>
<circle cx="415.7" cy="46.8" r="0.85" fill="#fff060"/>
<line x1="413.9" y1="50.5" x2="414.9" y2="53.5" stroke="#e0d818" stroke-width="1.1"/>
<circle cx="413.9" cy="50.5" r="0.85" fill="#fff060"/>
<line x1="411.9" y1="54.2" x2="412.9" y2="57.2" stroke="#e0d818" stroke-width="1.1"/>
<circle cx="411.9" cy="54.2" r="0.85" fill="#fff060"/>
<line x1="409.8" y1="57.8" x2="410.8" y2="60.8" stroke="#e0d818" stroke-width="1.1"/>
<circle cx="409.8" cy="57.8" r="0.85" fill="#fff060"/>
<line x1="427.7" y1="20.3" x2="428.7" y2="23.3" stroke="#e0d818" stroke-width="1.1"/>
<circle cx="427.7" cy="20.3" r="0.85" fill="#fff060"/>
<line x1="427.2" y1="24.2" x2="428.2" y2="27.2" stroke="#e0d818" stroke-width="1.1"/>
<circle cx="427.2" cy="24.2" r="0.85" fill="#fff060"/>
<line x1="426.6" y1="28.0" x2="427.6" y2="31.0" stroke="#e0d818" stroke-width="1.1"/>
<circle cx="426.6" cy="28.0" r="0.85" fill="#fff060"/>
<line x1="425.8" y1="31.9" x2="426.8" y2="34.9" stroke="#e0d818" stroke-width="1.1"/>
<circle cx="425.8" cy="31.9" r="0.85" fill="#fff060"/>
<line x1="424.8" y1="35.7" x2="425.8" y2="38.7" stroke="#e0d818" stroke-width="1.1"/>
<circle cx="424.8" cy="35.7" r="0.85" fill="#fff060"/>
<line x1="423.7" y1="39.5" x2="424.7" y2="42.5" stroke="#e0d818" stroke-width="1.1"/>
<circle cx="423.7" cy="39.5" r="0.85" fill="#fff060"/>
<line x1="422.4" y1="43.2" x2="423.4" y2="46.2" stroke="#e0d818" stroke-width="1.1"/>
<circle cx="422.4" cy="43.2" r="0.85" fill="#fff060"/>
<line x1="420.9" y1="47.0" x2="421.9" y2="50.0" stroke="#e0d818" stroke-width="1.1"/>
<circle cx="420.9" cy="47.0" r="0.85" fill="#fff060"/>
<line x1="419.2" y1="50.7" x2="420.2" y2="53.7" stroke="#e0d818" stroke-width="1.1"/>
<circle cx="419.2" cy="50.7" r="0.85" fill="#fff060"/>
<line x1="417.4" y1="54.3" x2="418.4" y2="57.3" stroke="#e0d818" stroke-width="1.1"/>
<circle cx="417.4" cy="54.3" r="0.85" fill="#fff060"/>
<line x1="415.5" y1="58.0" x2="416.5" y2="61.0" stroke="#e0d818" stroke-width="1.1"/>
<circle cx="415.5" cy="58.0" r="0.85" fill="#fff060"/>
<line x1="431.4" y1="20.2" x2="432.4" y2="23.2" stroke="#e0d818" stroke-width="1.1"/>
<circle cx="431.4" cy="20.2" r="0.85" fill="#fff060"/>
<line x1="431.2" y1="24.1" x2="432.2" y2="27.1" stroke="#e0d818" stroke-width="1.1"/>
<circle cx="431.2" cy="24.1" r="0.85" fill="#fff060"/>
<line x1="430.8" y1="28.0" x2="431.8" y2="31.0" stroke="#e0d818" stroke-width="1.1"/>
<circle cx="430.8" cy="28.0" r="0.85" fill="#fff060"/>
<line x1="430.3" y1="31.9" x2="431.3" y2="34.9" stroke="#e0d818" stroke-width="1.1"/>
<circle cx="430.3" cy="31.9" r="0.85" fill="#fff060"/>
<line x1="429.6" y1="35.7" x2="430.6" y2="38.7" stroke="#e0d818" stroke-width="1.1"/>
<circle cx="429.6" cy="35.7" r="0.85" fill="#fff060"/>
<line x1="428.7" y1="39.5" x2="429.7" y2="42.5" stroke="#e0d818" stroke-width="1.1"/>
<circle cx="428.7" cy="39.5" r="0.85" fill="#fff060"/>
<line x1="427.6" y1="43.2" x2="428.6" y2="46.2" stroke="#e0d818" stroke-width="1.1"/>
<circle cx="427.6" cy="43.2" r="0.85" fill="#fff060"/>
<line x1="426.3" y1="47.0" x2="427.3" y2="50.0" stroke="#e0d818" stroke-width="1.1"/>
<circle cx="426.3" cy="47.0" r="0.85" fill="#fff060"/>
<line x1="424.9" y1="50.7" x2="425.9" y2="53.7" stroke="#e0d818" stroke-width="1.1"/>
<circle cx="424.9" cy="50.7" r="0.85" fill="#fff060"/>
<line x1="423.3" y1="54.3" x2="424.3" y2="57.3" stroke="#e0d818" stroke-width="1.1"/>
<circle cx="423.3" cy="54.3" r="0.85" fill="#fff060"/>
<line x1="421.5" y1="58.0" x2="422.5" y2="61.0" stroke="#e0d818" stroke-width="1.1"/>
<circle cx="421.5" cy="58.0" r="0.85" fill="#fff060"/>
<g clip-path="url(#cp2)"><line x1="411.4" y1="17" x2="391" y2="62" stroke="#ff3020" stroke-width="5" opacity="0.45" filter="url(#blur1b)"/></g>
<path d="M449.09999999999997,28.5 L449.09999999999997,36.5 M450.3,28.5 L450.3,36.5 M449.7,28.5 L446.5,23.5 L446.3,19.5 M449.7,28.5 L452.9,23.5 L453.09999999999997,19.5 M446.5,23.5 L445.09999999999997,21.7 M452.9,23.5 L454.3,21.7" stroke="#40b848" stroke-width="1.3" fill="none" stroke-linecap="round"/>
<line x1="434.4" y1="38.8" x2="462.0" y2="38.8" stroke="#d040d0" stroke-width="1.6"/>
<path d="M467.5,38.8 L462.0,41.4 L462.0,36.2 Z" fill="#d040d0"/>
<text x="447.5" y="47.6" font-size="7" font-family="Liberation Serif" text-anchor="middle" font-weight="normal" fill="#222" >SA</text>
<path d="M484.5,17 Q507,17 530.4,17 Q531,40 519.5,64 Q478,65 465,47.5 Q475,31 484.5,17 Z" fill="#a8b6c8" transform="translate(1.2,1.4)"/>
<path d="M484.5,17 Q507,17 530.4,17 Q531,40 519.5,64 Q478,65 465,47.5 Q475,31 484.5,17 Z" fill="url(#slate)"/>
<clipPath id="cp3"><path d="M484.5,17 Q507,17 530.4,17 Q531,40 519.5,64 Q478,65 465,47.5 Q475,31 484.5,17 Z"/></clipPath>
<g clip-path="url(#cp3)">
<line x1="506" y1="15" x2="485" y2="66" stroke="#ff3030" stroke-width="9" opacity="0.7" filter="url(#blur2)"/>
<line x1="506" y1="15" x2="485" y2="66" stroke="#ff3838" stroke-width="4.5" opacity="0.9" filter="url(#blur05c)"/>
</g>
<path d="M484.5,17 Q507,17 530.4,17 Q531,40 519.5,64 Q478,65 465,47.5 Q475,31 484.5,17 Z" fill="none" stroke="#c0cad8" stroke-width="0.5" opacity="0.7"/>
<line x1="485.4" y1="18.7" x2="486.3" y2="21.2" stroke="#f0e020" stroke-width="1.1"/>
<line x1="484.6" y1="16.2" x2="485.4" y2="18.8" stroke="#50e050" stroke-width="1.3"/>
<line x1="483.8" y1="21.2" x2="484.7" y2="23.7" stroke="#f0e020" stroke-width="1.1"/>
<line x1="483.0" y1="18.7" x2="483.8" y2="21.3" stroke="#50e050" stroke-width="1.3"/>
<line x1="482.2" y1="23.7" x2="483.1" y2="26.2" stroke="#f0e020" stroke-width="1.1"/>
<line x1="481.4" y1="21.2" x2="482.2" y2="23.8" stroke="#50e050" stroke-width="1.3"/>
<line x1="480.5" y1="26.3" x2="481.4" y2="28.8" stroke="#f0e020" stroke-width="1.1"/>
<line x1="479.7" y1="23.8" x2="480.5" y2="26.4" stroke="#50e050" stroke-width="1.3"/>
<line x1="478.9" y1="28.9" x2="479.8" y2="31.4" stroke="#f0e020" stroke-width="1.1"/>
<line x1="478.1" y1="26.4" x2="478.9" y2="29.0" stroke="#50e050" stroke-width="1.3"/>
<line x1="477.2" y1="31.5" x2="478.1" y2="34.0" stroke="#f0e020" stroke-width="1.1"/>
<line x1="476.4" y1="29.0" x2="477.2" y2="31.6" stroke="#50e050" stroke-width="1.3"/>
<line x1="475.5" y1="34.1" x2="476.4" y2="36.6" stroke="#f0e020" stroke-width="1.1"/>
<line x1="474.7" y1="31.6" x2="475.5" y2="34.2" stroke="#50e050" stroke-width="1.3"/>
<line x1="473.8" y1="36.8" x2="474.7" y2="39.3" stroke="#f0e020" stroke-width="1.1"/>
<line x1="473.0" y1="34.3" x2="473.8" y2="36.9" stroke="#50e050" stroke-width="1.3"/>
<line x1="472.1" y1="39.5" x2="473.0" y2="42.0" stroke="#f0e020" stroke-width="1.1"/>
<line x1="471.3" y1="37.0" x2="472.1" y2="39.6" stroke="#50e050" stroke-width="1.3"/>
<line x1="470.4" y1="42.3" x2="471.3" y2="44.8" stroke="#f0e020" stroke-width="1.1"/>
<line x1="469.6" y1="39.8" x2="470.4" y2="42.4" stroke="#50e050" stroke-width="1.3"/>
<line x1="468.7" y1="45.1" x2="469.6" y2="47.6" stroke="#f0e020" stroke-width="1.1"/>
<line x1="467.9" y1="42.6" x2="468.7" y2="45.2" stroke="#50e050" stroke-width="1.3"/>
<line x1="466.9" y1="47.9" x2="467.8" y2="50.4" stroke="#f0e020" stroke-width="1.1"/>
<line x1="466.1" y1="45.4" x2="466.9" y2="48.0" stroke="#50e050" stroke-width="1.3"/>
<line x1="488.9" y1="18.8" x2="489.8" y2="21.3" stroke="#f0e020" stroke-width="1.1"/>
<line x1="488.1" y1="16.3" x2="488.9" y2="18.9" stroke="#50e050" stroke-width="1.3"/>
<line x1="487.2" y1="21.5" x2="488.1" y2="24.0" stroke="#f0e020" stroke-width="1.1"/>
<line x1="486.4" y1="19.0" x2="487.2" y2="21.6" stroke="#50e050" stroke-width="1.3"/>
<line x1="485.6" y1="24.3" x2="486.5" y2="26.8" stroke="#f0e020" stroke-width="1.1"/>
<line x1="484.8" y1="21.8" x2="485.6" y2="24.4" stroke="#50e050" stroke-width="1.3"/>
<line x1="483.9" y1="27.0" x2="484.8" y2="29.5" stroke="#f0e020" stroke-width="1.1"/>
<line x1="483.1" y1="24.5" x2="483.9" y2="27.1" stroke="#50e050" stroke-width="1.3"/>
<line x1="482.1" y1="29.8" x2="483.0" y2="32.3" stroke="#f0e020" stroke-width="1.1"/>
<line x1="481.3" y1="27.3" x2="482.1" y2="29.9" stroke="#50e050" stroke-width="1.3"/>
<line x1="480.4" y1="32.6" x2="481.3" y2="35.1" stroke="#f0e020" stroke-width="1.1"/>
<line x1="479.6" y1="30.1" x2="480.4" y2="32.7" stroke="#50e050" stroke-width="1.3"/>
<line x1="478.6" y1="35.5" x2="479.5" y2="38.0" stroke="#f0e020" stroke-width="1.1"/>
<line x1="477.8" y1="33.0" x2="478.6" y2="35.6" stroke="#50e050" stroke-width="1.3"/>
<line x1="476.8" y1="38.4" x2="477.7" y2="40.9" stroke="#f0e020" stroke-width="1.1"/>
<line x1="476.0" y1="35.9" x2="476.8" y2="38.5" stroke="#50e050" stroke-width="1.3"/>
<line x1="475.0" y1="41.3" x2="475.9" y2="43.8" stroke="#f0e020" stroke-width="1.1"/>
<line x1="474.2" y1="38.8" x2="475.0" y2="41.4" stroke="#50e050" stroke-width="1.3"/>
<line x1="473.1" y1="44.3" x2="474.0" y2="46.8" stroke="#f0e020" stroke-width="1.1"/>
<line x1="472.3" y1="41.8" x2="473.1" y2="44.4" stroke="#50e050" stroke-width="1.3"/>
<line x1="471.2" y1="47.3" x2="472.1" y2="49.8" stroke="#f0e020" stroke-width="1.1"/>
<line x1="470.4" y1="44.8" x2="471.2" y2="47.4" stroke="#50e050" stroke-width="1.3"/>
<line x1="469.3" y1="50.3" x2="470.2" y2="52.8" stroke="#f0e020" stroke-width="1.1"/>
<line x1="468.5" y1="47.8" x2="469.3" y2="50.4" stroke="#50e050" stroke-width="1.3"/>
<line x1="492.4" y1="18.9" x2="493.3" y2="21.4" stroke="#f0e020" stroke-width="1.1"/>
<line x1="491.6" y1="16.4" x2="492.4" y2="19.0" stroke="#50e050" stroke-width="1.3"/>
<line x1="490.7" y1="21.8" x2="491.6" y2="24.3" stroke="#f0e020" stroke-width="1.1"/>
<line x1="489.9" y1="19.3" x2="490.7" y2="21.9" stroke="#50e050" stroke-width="1.3"/>
<line x1="489.0" y1="24.7" x2="489.9" y2="27.2" stroke="#f0e020" stroke-width="1.1"/>
<line x1="488.2" y1="22.2" x2="489.0" y2="24.8" stroke="#50e050" stroke-width="1.3"/>
<line x1="487.3" y1="27.7" x2="488.2" y2="30.2" stroke="#f0e020" stroke-width="1.1"/>
<line x1="486.5" y1="25.2" x2="487.3" y2="27.8" stroke="#50e050" stroke-width="1.3"/>
<line x1="485.5" y1="30.7" x2="486.4" y2="33.2" stroke="#f0e020" stroke-width="1.1"/>
<line x1="484.7" y1="28.2" x2="485.5" y2="30.8" stroke="#50e050" stroke-width="1.3"/>
<line x1="483.7" y1="33.7" x2="484.6" y2="36.2" stroke="#f0e020" stroke-width="1.1"/>
<line x1="482.9" y1="31.2" x2="483.7" y2="33.8" stroke="#50e050" stroke-width="1.3"/>
<line x1="481.9" y1="36.7" x2="482.8" y2="39.2" stroke="#f0e020" stroke-width="1.1"/>
<line x1="481.1" y1="34.2" x2="481.9" y2="36.8" stroke="#50e050" stroke-width="1.3"/>
<line x1="480.0" y1="39.8" x2="480.9" y2="42.3" stroke="#f0e020" stroke-width="1.1"/>
<line x1="479.2" y1="37.3" x2="480.0" y2="39.9" stroke="#50e050" stroke-width="1.3"/>
<line x1="478.1" y1="42.9" x2="479.0" y2="45.4" stroke="#f0e020" stroke-width="1.1"/>
<line x1="477.3" y1="40.4" x2="478.1" y2="43.0" stroke="#50e050" stroke-width="1.3"/>
<line x1="476.1" y1="46.1" x2="477.0" y2="48.6" stroke="#f0e020" stroke-width="1.1"/>
<line x1="475.3" y1="43.6" x2="476.1" y2="46.2" stroke="#50e050" stroke-width="1.3"/>
<line x1="474.1" y1="49.2" x2="475.0" y2="51.7" stroke="#f0e020" stroke-width="1.1"/>
<line x1="473.3" y1="46.7" x2="474.1" y2="49.3" stroke="#50e050" stroke-width="1.3"/>
<line x1="472.1" y1="52.4" x2="473.0" y2="54.9" stroke="#f0e020" stroke-width="1.1"/>
<line x1="471.3" y1="49.9" x2="472.1" y2="52.5" stroke="#50e050" stroke-width="1.3"/>
<line x1="495.9" y1="19.0" x2="496.8" y2="21.5" stroke="#f0e020" stroke-width="1.1"/>
<line x1="495.1" y1="16.5" x2="495.9" y2="19.1" stroke="#50e050" stroke-width="1.3"/>
<line x1="494.3" y1="22.1" x2="495.2" y2="24.6" stroke="#f0e020" stroke-width="1.1"/>
<line x1="493.5" y1="19.6" x2="494.3" y2="22.2" stroke="#50e050" stroke-width="1.3"/>
<line x1="492.6" y1="25.2" x2="493.5" y2="27.7" stroke="#f0e020" stroke-width="1.1"/>
<line x1="491.8" y1="22.7" x2="492.6" y2="25.3" stroke="#50e050" stroke-width="1.3"/>
<line x1="490.8" y1="28.3" x2="491.7" y2="30.8" stroke="#f0e020" stroke-width="1.1"/>
<line x1="490.0" y1="25.8" x2="490.8" y2="28.4" stroke="#50e050" stroke-width="1.3"/>
<line x1="489.0" y1="31.5" x2="489.9" y2="34.0" stroke="#f0e020" stroke-width="1.1"/>
<line x1="488.2" y1="29.0" x2="489.0" y2="31.6" stroke="#50e050" stroke-width="1.3"/>
<line x1="487.2" y1="34.7" x2="488.1" y2="37.2" stroke="#f0e020" stroke-width="1.1"/>
<line x1="486.4" y1="32.2" x2="487.2" y2="34.8" stroke="#50e050" stroke-width="1.3"/>
<line x1="485.3" y1="37.9" x2="486.2" y2="40.4" stroke="#f0e020" stroke-width="1.1"/>
<line x1="484.5" y1="35.4" x2="485.3" y2="38.0" stroke="#50e050" stroke-width="1.3"/>
<line x1="483.4" y1="41.1" x2="484.3" y2="43.6" stroke="#f0e020" stroke-width="1.1"/>
<line x1="482.6" y1="38.6" x2="483.4" y2="41.2" stroke="#50e050" stroke-width="1.3"/>
<line x1="481.4" y1="44.4" x2="482.3" y2="46.9" stroke="#f0e020" stroke-width="1.1"/>
<line x1="480.6" y1="41.9" x2="481.4" y2="44.5" stroke="#50e050" stroke-width="1.3"/>
<line x1="479.4" y1="47.7" x2="480.3" y2="50.2" stroke="#f0e020" stroke-width="1.1"/>
<line x1="478.6" y1="45.2" x2="479.4" y2="47.8" stroke="#50e050" stroke-width="1.3"/>
<line x1="477.3" y1="51.0" x2="478.2" y2="53.5" stroke="#f0e020" stroke-width="1.1"/>
<line x1="476.5" y1="48.5" x2="477.3" y2="51.1" stroke="#50e050" stroke-width="1.3"/>
<line x1="475.2" y1="54.4" x2="476.1" y2="56.9" stroke="#f0e020" stroke-width="1.1"/>
<line x1="474.4" y1="51.9" x2="475.2" y2="54.5" stroke="#50e050" stroke-width="1.3"/>
<line x1="499.4" y1="19.1" x2="500.3" y2="21.6" stroke="#f0e020" stroke-width="1.1"/>
<line x1="498.6" y1="16.6" x2="499.4" y2="19.2" stroke="#50e050" stroke-width="1.3"/>
<line x1="497.8" y1="22.3" x2="498.7" y2="24.8" stroke="#f0e020" stroke-width="1.1"/>
<line x1="497.0" y1="19.8" x2="497.8" y2="22.4" stroke="#50e050" stroke-width="1.3"/>
<line x1="496.2" y1="25.6" x2="497.1" y2="28.1" stroke="#f0e020" stroke-width="1.1"/>
<line x1="495.4" y1="23.1" x2="496.2" y2="25.7" stroke="#50e050" stroke-width="1.3"/>
<line x1="494.5" y1="28.9" x2="495.4" y2="31.4" stroke="#f0e020" stroke-width="1.1"/>
<line x1="493.7" y1="26.4" x2="494.5" y2="29.0" stroke="#50e050" stroke-width="1.3"/>
<line x1="492.7" y1="32.2" x2="493.6" y2="34.7" stroke="#f0e020" stroke-width="1.1"/>
<line x1="491.9" y1="29.7" x2="492.7" y2="32.3" stroke="#50e050" stroke-width="1.3"/>
<line x1="490.9" y1="35.5" x2="491.8" y2="38.0" stroke="#f0e020" stroke-width="1.1"/>
<line x1="490.1" y1="33.0" x2="490.9" y2="35.6" stroke="#50e050" stroke-width="1.3"/>
<line x1="489.0" y1="38.9" x2="489.9" y2="41.4" stroke="#f0e020" stroke-width="1.1"/>
<line x1="488.2" y1="36.4" x2="489.0" y2="39.0" stroke="#50e050" stroke-width="1.3"/>
<line x1="487.0" y1="42.3" x2="487.9" y2="44.8" stroke="#f0e020" stroke-width="1.1"/>
<line x1="486.2" y1="39.8" x2="487.0" y2="42.4" stroke="#50e050" stroke-width="1.3"/>
<line x1="485.0" y1="45.7" x2="485.9" y2="48.2" stroke="#f0e020" stroke-width="1.1"/>
<line x1="484.2" y1="43.2" x2="485.0" y2="45.8" stroke="#50e050" stroke-width="1.3"/>
<line x1="482.9" y1="49.2" x2="483.8" y2="51.7" stroke="#f0e020" stroke-width="1.1"/>
<line x1="482.1" y1="46.7" x2="482.9" y2="49.3" stroke="#50e050" stroke-width="1.3"/>
<line x1="480.8" y1="52.6" x2="481.7" y2="55.1" stroke="#f0e020" stroke-width="1.1"/>
<line x1="480.0" y1="50.1" x2="480.8" y2="52.7" stroke="#50e050" stroke-width="1.3"/>
<line x1="478.5" y1="56.1" x2="479.4" y2="58.6" stroke="#f0e020" stroke-width="1.1"/>
<line x1="477.7" y1="53.6" x2="478.5" y2="56.2" stroke="#50e050" stroke-width="1.3"/>
<line x1="503.0" y1="19.2" x2="503.9" y2="21.7" stroke="#f0e020" stroke-width="1.1"/>
<line x1="502.2" y1="16.7" x2="503.0" y2="19.3" stroke="#50e050" stroke-width="1.3"/>
<line x1="501.5" y1="22.5" x2="502.4" y2="25.0" stroke="#f0e020" stroke-width="1.1"/>
<line x1="500.7" y1="20.0" x2="501.5" y2="22.6" stroke="#50e050" stroke-width="1.3"/>
<line x1="499.9" y1="25.9" x2="500.8" y2="28.4" stroke="#f0e020" stroke-width="1.1"/>
<line x1="499.1" y1="23.4" x2="499.9" y2="26.0" stroke="#50e050" stroke-width="1.3"/>
<line x1="498.2" y1="29.4" x2="499.1" y2="31.9" stroke="#f0e020" stroke-width="1.1"/>
<line x1="497.4" y1="26.9" x2="498.2" y2="29.5" stroke="#50e050" stroke-width="1.3"/>
<line x1="496.5" y1="32.8" x2="497.4" y2="35.3" stroke="#f0e020" stroke-width="1.1"/>
<line x1="495.7" y1="30.3" x2="496.5" y2="32.9" stroke="#50e050" stroke-width="1.3"/>
<line x1="494.7" y1="36.3" x2="495.6" y2="38.8" stroke="#f0e020" stroke-width="1.1"/>
<line x1="493.9" y1="33.8" x2="494.7" y2="36.4" stroke="#50e050" stroke-width="1.3"/>
<line x1="492.8" y1="39.8" x2="493.7" y2="42.3" stroke="#f0e020" stroke-width="1.1"/>
<line x1="492.0" y1="37.3" x2="492.8" y2="39.9" stroke="#50e050" stroke-width="1.3"/>
<line x1="490.8" y1="43.3" x2="491.7" y2="45.8" stroke="#f0e020" stroke-width="1.1"/>
<line x1="490.0" y1="40.8" x2="490.8" y2="43.4" stroke="#50e050" stroke-width="1.3"/>
<line x1="488.8" y1="46.9" x2="489.7" y2="49.4" stroke="#f0e020" stroke-width="1.1"/>
<line x1="488.0" y1="44.4" x2="488.8" y2="47.0" stroke="#50e050" stroke-width="1.3"/>
<line x1="486.7" y1="50.4" x2="487.6" y2="52.9" stroke="#f0e020" stroke-width="1.1"/>
<line x1="485.9" y1="47.9" x2="486.7" y2="50.5" stroke="#50e050" stroke-width="1.3"/>
<line x1="484.5" y1="54.0" x2="485.4" y2="56.5" stroke="#f0e020" stroke-width="1.1"/>
<line x1="483.7" y1="51.5" x2="484.5" y2="54.1" stroke="#50e050" stroke-width="1.3"/>
<line x1="482.3" y1="57.7" x2="483.2" y2="60.2" stroke="#f0e020" stroke-width="1.1"/>
<line x1="481.5" y1="55.2" x2="482.3" y2="57.8" stroke="#50e050" stroke-width="1.3"/>
<line x1="506.6" y1="19.2" x2="507.5" y2="21.7" stroke="#f0e020" stroke-width="1.1"/>
<line x1="505.8" y1="16.7" x2="506.6" y2="19.3" stroke="#50e050" stroke-width="1.3"/>
<line x1="505.2" y1="22.7" x2="506.1" y2="25.2" stroke="#f0e020" stroke-width="1.1"/>
<line x1="504.4" y1="20.2" x2="505.2" y2="22.8" stroke="#50e050" stroke-width="1.3"/>
<line x1="503.7" y1="26.2" x2="504.6" y2="28.7" stroke="#f0e020" stroke-width="1.1"/>
<line x1="502.9" y1="23.7" x2="503.7" y2="26.3" stroke="#50e050" stroke-width="1.3"/>
<line x1="502.1" y1="29.8" x2="503.0" y2="32.3" stroke="#f0e020" stroke-width="1.1"/>
<line x1="501.3" y1="27.3" x2="502.1" y2="29.9" stroke="#50e050" stroke-width="1.3"/>
<line x1="500.4" y1="33.4" x2="501.3" y2="35.9" stroke="#f0e020" stroke-width="1.1"/>
<line x1="499.6" y1="30.9" x2="500.4" y2="33.5" stroke="#50e050" stroke-width="1.3"/>
<line x1="498.7" y1="36.9" x2="499.6" y2="39.4" stroke="#f0e020" stroke-width="1.1"/>
<line x1="497.9" y1="34.4" x2="498.7" y2="37.0" stroke="#50e050" stroke-width="1.3"/>
<line x1="496.8" y1="40.6" x2="497.7" y2="43.1" stroke="#f0e020" stroke-width="1.1"/>
<line x1="496.0" y1="38.1" x2="496.8" y2="40.7" stroke="#50e050" stroke-width="1.3"/>
<line x1="494.9" y1="44.2" x2="495.8" y2="46.7" stroke="#f0e020" stroke-width="1.1"/>
<line x1="494.1" y1="41.7" x2="494.9" y2="44.3" stroke="#50e050" stroke-width="1.3"/>
<line x1="492.9" y1="47.9" x2="493.8" y2="50.4" stroke="#f0e020" stroke-width="1.1"/>
<line x1="492.1" y1="45.4" x2="492.9" y2="48.0" stroke="#50e050" stroke-width="1.3"/>
<line x1="490.8" y1="51.5" x2="491.7" y2="54.0" stroke="#f0e020" stroke-width="1.1"/>
<line x1="490.0" y1="49.0" x2="490.8" y2="51.6" stroke="#50e050" stroke-width="1.3"/>
<line x1="488.6" y1="55.3" x2="489.5" y2="57.8" stroke="#f0e020" stroke-width="1.1"/>
<line x1="487.8" y1="52.8" x2="488.6" y2="55.4" stroke="#50e050" stroke-width="1.3"/>
<line x1="486.3" y1="59.0" x2="487.2" y2="61.5" stroke="#f0e020" stroke-width="1.1"/>
<line x1="485.5" y1="56.5" x2="486.3" y2="59.1" stroke="#50e050" stroke-width="1.3"/>
<line x1="510.2" y1="19.3" x2="511.1" y2="21.8" stroke="#f0e020" stroke-width="1.1"/>
<line x1="509.4" y1="16.8" x2="510.2" y2="19.4" stroke="#50e050" stroke-width="1.3"/>
<line x1="508.9" y1="22.9" x2="509.8" y2="25.4" stroke="#f0e020" stroke-width="1.1"/>
<line x1="508.1" y1="20.4" x2="508.9" y2="23.0" stroke="#50e050" stroke-width="1.3"/>
<line x1="507.5" y1="26.5" x2="508.4" y2="29.0" stroke="#f0e020" stroke-width="1.1"/>
<line x1="506.7" y1="24.0" x2="507.5" y2="26.6" stroke="#50e050" stroke-width="1.3"/>
<line x1="506.0" y1="30.2" x2="506.9" y2="32.7" stroke="#f0e020" stroke-width="1.1"/>
<line x1="505.2" y1="27.7" x2="506.0" y2="30.3" stroke="#50e050" stroke-width="1.3"/>
<line x1="504.5" y1="33.8" x2="505.4" y2="36.3" stroke="#f0e020" stroke-width="1.1"/>
<line x1="503.7" y1="31.3" x2="504.5" y2="33.9" stroke="#50e050" stroke-width="1.3"/>
<line x1="502.8" y1="37.5" x2="503.7" y2="40.0" stroke="#f0e020" stroke-width="1.1"/>
<line x1="502.0" y1="35.0" x2="502.8" y2="37.6" stroke="#50e050" stroke-width="1.3"/>
<line x1="501.0" y1="41.2" x2="501.9" y2="43.7" stroke="#f0e020" stroke-width="1.1"/>
<line x1="500.2" y1="38.7" x2="501.0" y2="41.3" stroke="#50e050" stroke-width="1.3"/>
<line x1="499.1" y1="45.0" x2="500.0" y2="47.5" stroke="#f0e020" stroke-width="1.1"/>
<line x1="498.3" y1="42.5" x2="499.1" y2="45.1" stroke="#50e050" stroke-width="1.3"/>
<line x1="497.2" y1="48.7" x2="498.1" y2="51.2" stroke="#f0e020" stroke-width="1.1"/>
<line x1="496.4" y1="46.2" x2="497.2" y2="48.8" stroke="#50e050" stroke-width="1.3"/>
<line x1="495.1" y1="52.5" x2="496.0" y2="55.0" stroke="#f0e020" stroke-width="1.1"/>
<line x1="494.3" y1="50.0" x2="495.1" y2="52.6" stroke="#50e050" stroke-width="1.3"/>
<line x1="492.9" y1="56.3" x2="493.8" y2="58.8" stroke="#f0e020" stroke-width="1.1"/>
<line x1="492.1" y1="53.8" x2="492.9" y2="56.4" stroke="#50e050" stroke-width="1.3"/>
<line x1="490.7" y1="60.1" x2="491.6" y2="62.6" stroke="#f0e020" stroke-width="1.1"/>
<line x1="489.9" y1="57.6" x2="490.7" y2="60.2" stroke="#50e050" stroke-width="1.3"/>
<line x1="513.8" y1="19.3" x2="514.7" y2="21.8" stroke="#f0e020" stroke-width="1.1"/>
<line x1="513.0" y1="16.8" x2="513.8" y2="19.4" stroke="#50e050" stroke-width="1.3"/>
<line x1="512.7" y1="23.0" x2="513.6" y2="25.5" stroke="#f0e020" stroke-width="1.1"/>
<line x1="511.9" y1="20.5" x2="512.7" y2="23.1" stroke="#50e050" stroke-width="1.3"/>
<line x1="511.4" y1="26.7" x2="512.3" y2="29.2" stroke="#f0e020" stroke-width="1.1"/>
<line x1="510.6" y1="24.2" x2="511.4" y2="26.8" stroke="#50e050" stroke-width="1.3"/>
<line x1="510.1" y1="30.4" x2="511.0" y2="32.9" stroke="#f0e020" stroke-width="1.1"/>
<line x1="509.3" y1="27.9" x2="510.1" y2="30.5" stroke="#50e050" stroke-width="1.3"/>
<line x1="508.7" y1="34.2" x2="509.6" y2="36.7" stroke="#f0e020" stroke-width="1.1"/>
<line x1="507.9" y1="31.7" x2="508.7" y2="34.3" stroke="#50e050" stroke-width="1.3"/>
<line x1="507.1" y1="38.0" x2="508.0" y2="40.5" stroke="#f0e020" stroke-width="1.1"/>
<line x1="506.3" y1="35.5" x2="507.1" y2="38.1" stroke="#50e050" stroke-width="1.3"/>
<line x1="505.4" y1="41.8" x2="506.3" y2="44.3" stroke="#f0e020" stroke-width="1.1"/>
<line x1="504.6" y1="39.3" x2="505.4" y2="41.9" stroke="#50e050" stroke-width="1.3"/>
<line x1="503.6" y1="45.6" x2="504.5" y2="48.1" stroke="#f0e020" stroke-width="1.1"/>
<line x1="502.8" y1="43.1" x2="503.6" y2="45.7" stroke="#50e050" stroke-width="1.3"/>
<line x1="501.7" y1="49.4" x2="502.6" y2="51.9" stroke="#f0e020" stroke-width="1.1"/>
<line x1="500.9" y1="46.9" x2="501.7" y2="49.5" stroke="#50e050" stroke-width="1.3"/>
<line x1="499.7" y1="53.3" x2="500.6" y2="55.8" stroke="#f0e020" stroke-width="1.1"/>
<line x1="498.9" y1="50.8" x2="499.7" y2="53.4" stroke="#50e050" stroke-width="1.3"/>
<line x1="497.6" y1="57.1" x2="498.5" y2="59.6" stroke="#f0e020" stroke-width="1.1"/>
<line x1="496.8" y1="54.6" x2="497.6" y2="57.2" stroke="#50e050" stroke-width="1.3"/>
<line x1="495.3" y1="61.0" x2="496.2" y2="63.5" stroke="#f0e020" stroke-width="1.1"/>
<line x1="494.5" y1="58.5" x2="495.3" y2="61.1" stroke="#50e050" stroke-width="1.3"/>
<line x1="517.4" y1="19.4" x2="518.3" y2="21.9" stroke="#f0e020" stroke-width="1.1"/>
<line x1="516.6" y1="16.9" x2="517.4" y2="19.5" stroke="#50e050" stroke-width="1.3"/>
<line x1="516.5" y1="23.1" x2="517.4" y2="25.6" stroke="#f0e020" stroke-width="1.1"/>
<line x1="515.7" y1="20.6" x2="516.5" y2="23.2" stroke="#50e050" stroke-width="1.3"/>
<line x1="515.5" y1="26.9" x2="516.4" y2="29.4" stroke="#f0e020" stroke-width="1.1"/>
<line x1="514.7" y1="24.4" x2="515.5" y2="27.0" stroke="#50e050" stroke-width="1.3"/>
<line x1="514.3" y1="30.7" x2="515.2" y2="33.2" stroke="#f0e020" stroke-width="1.1"/>
<line x1="513.5" y1="28.2" x2="514.3" y2="30.8" stroke="#50e050" stroke-width="1.3"/>
<line x1="513.0" y1="34.5" x2="513.9" y2="37.0" stroke="#f0e020" stroke-width="1.1"/>
<line x1="512.2" y1="32.0" x2="513.0" y2="34.6" stroke="#50e050" stroke-width="1.3"/>
<line x1="511.5" y1="38.3" x2="512.4" y2="40.8" stroke="#f0e020" stroke-width="1.1"/>
<line x1="510.7" y1="35.8" x2="511.5" y2="38.4" stroke="#50e050" stroke-width="1.3"/>
<line x1="510.0" y1="42.2" x2="510.9" y2="44.7" stroke="#f0e020" stroke-width="1.1"/>
<line x1="509.2" y1="39.7" x2="510.0" y2="42.3" stroke="#50e050" stroke-width="1.3"/>
<line x1="508.3" y1="46.0" x2="509.2" y2="48.5" stroke="#f0e020" stroke-width="1.1"/>
<line x1="507.5" y1="43.5" x2="508.3" y2="46.1" stroke="#50e050" stroke-width="1.3"/>
<line x1="506.5" y1="49.9" x2="507.4" y2="52.4" stroke="#f0e020" stroke-width="1.1"/>
<line x1="505.7" y1="47.4" x2="506.5" y2="50.0" stroke="#50e050" stroke-width="1.3"/>
<line x1="504.6" y1="53.8" x2="505.5" y2="56.3" stroke="#f0e020" stroke-width="1.1"/>
<line x1="503.8" y1="51.3" x2="504.6" y2="53.9" stroke="#50e050" stroke-width="1.3"/>
<line x1="502.5" y1="57.8" x2="503.4" y2="60.3" stroke="#f0e020" stroke-width="1.1"/>
<line x1="501.7" y1="55.3" x2="502.5" y2="57.9" stroke="#50e050" stroke-width="1.3"/>
<line x1="500.4" y1="61.7" x2="501.3" y2="64.2" stroke="#f0e020" stroke-width="1.1"/>
<line x1="499.6" y1="59.2" x2="500.4" y2="61.8" stroke="#50e050" stroke-width="1.3"/>
<line x1="521.1" y1="19.4" x2="522.0" y2="21.9" stroke="#f0e020" stroke-width="1.1"/>
<line x1="520.3" y1="16.9" x2="521.1" y2="19.5" stroke="#50e050" stroke-width="1.3"/>
<line x1="520.4" y1="23.2" x2="521.3" y2="25.7" stroke="#f0e020" stroke-width="1.1"/>
<line x1="519.6" y1="20.7" x2="520.4" y2="23.3" stroke="#50e050" stroke-width="1.3"/>
<line x1="519.6" y1="27.0" x2="520.5" y2="29.5" stroke="#f0e020" stroke-width="1.1"/>
<line x1="518.8" y1="24.5" x2="519.6" y2="27.1" stroke="#50e050" stroke-width="1.3"/>
<line x1="518.6" y1="30.9" x2="519.5" y2="33.4" stroke="#f0e020" stroke-width="1.1"/>
<line x1="517.8" y1="28.4" x2="518.6" y2="31.0" stroke="#50e050" stroke-width="1.3"/>
<line x1="517.4" y1="34.7" x2="518.3" y2="37.2" stroke="#f0e020" stroke-width="1.1"/>
<line x1="516.6" y1="32.2" x2="517.4" y2="34.8" stroke="#50e050" stroke-width="1.3"/>
<line x1="516.2" y1="38.6" x2="517.1" y2="41.1" stroke="#f0e020" stroke-width="1.1"/>
<line x1="515.4" y1="36.1" x2="516.2" y2="38.7" stroke="#50e050" stroke-width="1.3"/>
<line x1="514.8" y1="42.5" x2="515.7" y2="45.0" stroke="#f0e020" stroke-width="1.1"/>
<line x1="514.0" y1="40.0" x2="514.8" y2="42.6" stroke="#50e050" stroke-width="1.3"/>
<line x1="513.2" y1="46.4" x2="514.1" y2="48.9" stroke="#f0e020" stroke-width="1.1"/>
<line x1="512.4" y1="43.9" x2="513.2" y2="46.5" stroke="#50e050" stroke-width="1.3"/>
<line x1="511.5" y1="50.3" x2="512.4" y2="52.8" stroke="#f0e020" stroke-width="1.1"/>
<line x1="510.7" y1="47.8" x2="511.5" y2="50.4" stroke="#50e050" stroke-width="1.3"/>
<line x1="509.7" y1="54.3" x2="510.6" y2="56.8" stroke="#f0e020" stroke-width="1.1"/>
<line x1="508.9" y1="51.8" x2="509.7" y2="54.4" stroke="#50e050" stroke-width="1.3"/>
<line x1="507.8" y1="58.2" x2="508.7" y2="60.7" stroke="#f0e020" stroke-width="1.1"/>
<line x1="507.0" y1="55.7" x2="507.8" y2="58.3" stroke="#50e050" stroke-width="1.3"/>
<line x1="505.7" y1="62.2" x2="506.6" y2="64.7" stroke="#f0e020" stroke-width="1.1"/>
<line x1="504.9" y1="59.7" x2="505.7" y2="62.3" stroke="#50e050" stroke-width="1.3"/>
<line x1="524.8" y1="19.4" x2="525.7" y2="21.9" stroke="#f0e020" stroke-width="1.1"/>
<line x1="524.0" y1="16.9" x2="524.8" y2="19.5" stroke="#50e050" stroke-width="1.3"/>
<line x1="524.4" y1="23.2" x2="525.3" y2="25.7" stroke="#f0e020" stroke-width="1.1"/>
<line x1="523.6" y1="20.7" x2="524.4" y2="23.3" stroke="#50e050" stroke-width="1.3"/>
<line x1="523.7" y1="27.1" x2="524.6" y2="29.6" stroke="#f0e020" stroke-width="1.1"/>
<line x1="522.9" y1="24.6" x2="523.7" y2="27.2" stroke="#50e050" stroke-width="1.3"/>
<line x1="522.9" y1="31.0" x2="523.8" y2="33.5" stroke="#f0e020" stroke-width="1.1"/>
<line x1="522.1" y1="28.5" x2="522.9" y2="31.1" stroke="#50e050" stroke-width="1.3"/>
<line x1="522.0" y1="34.8" x2="522.9" y2="37.3" stroke="#f0e020" stroke-width="1.1"/>
<line x1="521.2" y1="32.3" x2="522.0" y2="34.9" stroke="#50e050" stroke-width="1.3"/>
<line x1="520.9" y1="38.7" x2="521.8" y2="41.2" stroke="#f0e020" stroke-width="1.1"/>
<line x1="520.1" y1="36.2" x2="520.9" y2="38.8" stroke="#50e050" stroke-width="1.3"/>
<line x1="519.7" y1="42.7" x2="520.6" y2="45.2" stroke="#f0e020" stroke-width="1.1"/>
<line x1="518.9" y1="40.2" x2="519.7" y2="42.8" stroke="#50e050" stroke-width="1.3"/>
<line x1="518.3" y1="46.6" x2="519.2" y2="49.1" stroke="#f0e020" stroke-width="1.1"/>
<line x1="517.5" y1="44.1" x2="518.3" y2="46.7" stroke="#50e050" stroke-width="1.3"/>
<line x1="516.8" y1="50.5" x2="517.7" y2="53.0" stroke="#f0e020" stroke-width="1.1"/>
<line x1="516.0" y1="48.0" x2="516.8" y2="50.6" stroke="#50e050" stroke-width="1.3"/>
<line x1="515.1" y1="54.5" x2="516.0" y2="57.0" stroke="#f0e020" stroke-width="1.1"/>
<line x1="514.3" y1="52.0" x2="515.1" y2="54.6" stroke="#50e050" stroke-width="1.3"/>
<line x1="513.3" y1="58.5" x2="514.2" y2="61.0" stroke="#f0e020" stroke-width="1.1"/>
<line x1="512.5" y1="56.0" x2="513.3" y2="58.6" stroke="#50e050" stroke-width="1.3"/>
<line x1="511.3" y1="62.5" x2="512.2" y2="65.0" stroke="#f0e020" stroke-width="1.1"/>
<line x1="510.5" y1="60.0" x2="511.3" y2="62.6" stroke="#50e050" stroke-width="1.3"/>
<line x1="528.6" y1="19.4" x2="529.5" y2="21.9" stroke="#f0e020" stroke-width="1.1"/>
<line x1="527.8" y1="16.9" x2="528.6" y2="19.5" stroke="#50e050" stroke-width="1.3"/>
<line x1="528.3" y1="23.3" x2="529.2" y2="25.8" stroke="#f0e020" stroke-width="1.1"/>
<line x1="527.5" y1="20.8" x2="528.3" y2="23.4" stroke="#50e050" stroke-width="1.3"/>
<line x1="528.0" y1="27.1" x2="528.9" y2="29.6" stroke="#f0e020" stroke-width="1.1"/>
<line x1="527.2" y1="24.6" x2="528.0" y2="27.2" stroke="#50e050" stroke-width="1.3"/>
<line x1="527.4" y1="31.0" x2="528.3" y2="33.5" stroke="#f0e020" stroke-width="1.1"/>
<line x1="526.6" y1="28.5" x2="527.4" y2="31.1" stroke="#50e050" stroke-width="1.3"/>
<line x1="526.7" y1="34.9" x2="527.6" y2="37.4" stroke="#f0e020" stroke-width="1.1"/>
<line x1="525.9" y1="32.4" x2="526.7" y2="35.0" stroke="#50e050" stroke-width="1.3"/>
<line x1="525.9" y1="38.8" x2="526.8" y2="41.3" stroke="#f0e020" stroke-width="1.1"/>
<line x1="525.1" y1="36.3" x2="525.9" y2="38.9" stroke="#50e050" stroke-width="1.3"/>
<line x1="524.9" y1="42.7" x2="525.8" y2="45.2" stroke="#f0e020" stroke-width="1.1"/>
<line x1="524.1" y1="40.2" x2="524.9" y2="42.8" stroke="#50e050" stroke-width="1.3"/>
<line x1="523.7" y1="46.7" x2="524.6" y2="49.2" stroke="#f0e020" stroke-width="1.1"/>
<line x1="522.9" y1="44.2" x2="523.7" y2="46.8" stroke="#50e050" stroke-width="1.3"/>
<line x1="522.3" y1="50.6" x2="523.2" y2="53.1" stroke="#f0e020" stroke-width="1.1"/>
<line x1="521.5" y1="48.1" x2="522.3" y2="50.7" stroke="#50e050" stroke-width="1.3"/>
<line x1="520.8" y1="54.6" x2="521.7" y2="57.1" stroke="#f0e020" stroke-width="1.1"/>
<line x1="520.0" y1="52.1" x2="520.8" y2="54.7" stroke="#50e050" stroke-width="1.3"/>
<line x1="519.2" y1="58.6" x2="520.1" y2="61.1" stroke="#f0e020" stroke-width="1.1"/>
<line x1="518.4" y1="56.1" x2="519.2" y2="58.7" stroke="#50e050" stroke-width="1.3"/>
<line x1="517.3" y1="62.5" x2="518.2" y2="65.0" stroke="#f0e020" stroke-width="1.1"/>
<line x1="516.5" y1="60.0" x2="517.3" y2="62.6" stroke="#50e050" stroke-width="1.3"/>
<g clip-path="url(#cp3)"><line x1="506" y1="15" x2="485" y2="66" stroke="#ff3020" stroke-width="5" opacity="0.45" filter="url(#blur1b)"/></g>
<circle cx="463.8" cy="62.3" r="5" fill="url(#ballp)"/>
<line x1="475" y1="59.3" x2="469.3" y2="70.6" stroke="#d040d0" stroke-width="1.6"/>
<path d="M466.8,75.5 L467.0,69.4 L471.6,71.8 Z" fill="#d040d0"/>
<text x="481.3" y="70.6" font-size="6.8" font-family="Liberation Serif" text-anchor="middle" font-weight="normal" fill="#222" >BSA</text>
<rect x="287.6" y="64.2" width="40" height="42.5" fill="none" stroke="#444" stroke-width="0.8"/>
<path d="M295.2,71.10000000000001 L295.485,78.7" stroke="#d0c020" stroke-width="1.9" stroke-linecap="round"/>
<circle cx="295.2" cy="69.2" r="2.565" fill="url(#bally)"/>
<text x="297" y="86" font-size="4.4" font-family="Liberation Serif" text-anchor="middle" font-weight="normal" fill="#333" >GOPTS</text>
<path d="M316.20799999999997,74.38 L316.20799999999997,80.94 M317.192,74.38 L317.192,80.94 M316.7,74.38 L314.07599999999996,70.28 L313.912,67 M316.7,74.38 L319.324,70.28 L319.488,67 M314.07599999999996,70.28 L312.928,68.804 M319.324,70.28 L320.472,68.804" stroke="#40b848" stroke-width="1.066" fill="none" stroke-linecap="round"/>
<text x="317" y="86" font-size="5.8" font-family="Liberation Serif" text-anchor="middle" font-weight="normal" fill="#222" >SA</text>
<circle cx="295" cy="93.8" r="4.4" fill="url(#ballp)"/>
<text x="295.8" y="104.5" font-size="5.8" font-family="Liberation Serif" text-anchor="middle" font-weight="normal" fill="#222" >BSA</text>
<circle cx="317.1" cy="92.1" r="3.3" fill="url(#ballo)"/>
<text x="318.3" y="100.4" font-size="4.2" font-family="Liberation Serif" text-anchor="middle" font-weight="normal" fill="#222" >Analyte:</text>
<text x="318.3" y="105.6" font-size="4.2" font-family="Liberation Serif" text-anchor="middle" font-weight="normal" fill="#222" >D-Biotin</text>
<path d="M352.5,69.5 Q378,68 402.3,69 Q402,95 391.5,122.3 Q350,123 330.4,106.5 Q343,88.5 352.5,69.5 Z" fill="#a8b6c8" transform="translate(1.2,1.4)"/>
<path d="M352.5,69.5 Q378,68 402.3,69 Q402,95 391.5,122.3 Q350,123 330.4,106.5 Q343,88.5 352.5,69.5 Z" fill="url(#slate)"/>
<clipPath id="cp4"><path d="M352.5,69.5 Q378,68 402.3,69 Q402,95 391.5,122.3 Q350,123 330.4,106.5 Q343,88.5 352.5,69.5 Z"/></clipPath>
<g clip-path="url(#cp4)">
<line x1="374.5" y1="70" x2="357.5" y2="121" stroke="#ff3030" stroke-width="9" opacity="0.7" filter="url(#blur2)"/>
<line x1="374.5" y1="70" x2="357.5" y2="121" stroke="#ff3838" stroke-width="4.5" opacity="0.9" filter="url(#blur05c)"/>
</g>
<path d="M352.5,69.5 Q378,68 402.3,69 Q402,95 391.5,122.3 Q350,123 330.4,106.5 Q343,88.5 352.5,69.5 Z" fill="none" stroke="#c0cad8" stroke-width="0.5" opacity="0.7"/>
<line x1="353.5" y1="71.4" x2="354.4" y2="73.9" stroke="#f0e020" stroke-width="1.1"/>
<line x1="352.7" y1="68.9" x2="353.5" y2="71.5" stroke="#50e050" stroke-width="1.3"/>
<circle cx="352.6" cy="68.6" r="0.7" fill="#d08030"/>
<circle cx="353.3" cy="70.1" r="1.3" fill="#e858f0"/>
<line x1="351.9" y1="74.4" x2="352.8" y2="76.9" stroke="#f0e020" stroke-width="1.1"/>
<line x1="351.1" y1="71.9" x2="351.9" y2="74.5" stroke="#50e050" stroke-width="1.3"/>
<circle cx="351.0" cy="71.6" r="0.7" fill="#d08030"/>
<circle cx="351.7" cy="73.1" r="1.3" fill="#e858f0"/>
<line x1="350.4" y1="77.4" x2="351.3" y2="79.9" stroke="#f0e020" stroke-width="1.1"/>
<line x1="349.6" y1="74.9" x2="350.4" y2="77.5" stroke="#50e050" stroke-width="1.3"/>
<circle cx="349.5" cy="74.6" r="0.7" fill="#d08030"/>
<line x1="348.8" y1="80.4" x2="349.7" y2="82.9" stroke="#f0e020" stroke-width="1.1"/>
<line x1="348.0" y1="77.9" x2="348.8" y2="80.5" stroke="#50e050" stroke-width="1.3"/>
<circle cx="347.9" cy="77.6" r="0.7" fill="#d08030"/>
<circle cx="348.6" cy="79.1" r="1.3" fill="#e858f0"/>
<line x1="347.2" y1="83.3" x2="348.1" y2="85.8" stroke="#f0e020" stroke-width="1.1"/>
<line x1="346.4" y1="80.8" x2="347.2" y2="83.4" stroke="#50e050" stroke-width="1.3"/>
<circle cx="346.3" cy="80.5" r="0.7" fill="#d08030"/>
<circle cx="347.0" cy="82.0" r="1.3" fill="#e858f0"/>
<line x1="345.5" y1="86.3" x2="346.4" y2="88.8" stroke="#f0e020" stroke-width="1.1"/>
<line x1="344.7" y1="83.8" x2="345.5" y2="86.4" stroke="#50e050" stroke-width="1.3"/>
<circle cx="344.6" cy="83.5" r="0.7" fill="#d08030"/>
<line x1="343.8" y1="89.2" x2="344.7" y2="91.7" stroke="#f0e020" stroke-width="1.1"/>
<line x1="343.0" y1="86.7" x2="343.8" y2="89.3" stroke="#50e050" stroke-width="1.3"/>
<circle cx="342.9" cy="86.4" r="0.7" fill="#d08030"/>
<line x1="342.1" y1="92.2" x2="343.0" y2="94.7" stroke="#f0e020" stroke-width="1.1"/>
<line x1="341.3" y1="89.7" x2="342.1" y2="92.3" stroke="#50e050" stroke-width="1.3"/>
<circle cx="341.2" cy="89.4" r="0.7" fill="#d08030"/>
<line x1="340.3" y1="95.1" x2="341.2" y2="97.6" stroke="#f0e020" stroke-width="1.1"/>
<line x1="339.5" y1="92.6" x2="340.3" y2="95.2" stroke="#50e050" stroke-width="1.3"/>
<circle cx="339.4" cy="92.3" r="0.7" fill="#d08030"/>
<line x1="338.4" y1="98.0" x2="339.3" y2="100.5" stroke="#f0e020" stroke-width="1.1"/>
<line x1="337.6" y1="95.5" x2="338.4" y2="98.1" stroke="#50e050" stroke-width="1.3"/>
<circle cx="337.5" cy="95.2" r="0.7" fill="#d08030"/>
<circle cx="338.2" cy="96.7" r="1.3" fill="#e858f0"/>
<line x1="336.6" y1="100.9" x2="337.5" y2="103.4" stroke="#f0e020" stroke-width="1.1"/>
<line x1="335.8" y1="98.4" x2="336.6" y2="101.0" stroke="#50e050" stroke-width="1.3"/>
<circle cx="335.7" cy="98.1" r="0.7" fill="#d08030"/>
<line x1="334.7" y1="103.8" x2="335.6" y2="106.3" stroke="#f0e020" stroke-width="1.1"/>
<line x1="333.9" y1="101.3" x2="334.7" y2="103.9" stroke="#50e050" stroke-width="1.3"/>
<circle cx="333.8" cy="101.0" r="0.7" fill="#d08030"/>
<circle cx="334.5" cy="102.5" r="1.3" fill="#e858f0"/>
<line x1="332.7" y1="106.6" x2="333.6" y2="109.1" stroke="#f0e020" stroke-width="1.1"/>
<line x1="331.9" y1="104.1" x2="332.7" y2="106.7" stroke="#50e050" stroke-width="1.3"/>
<circle cx="331.8" cy="103.8" r="0.7" fill="#d08030"/>
<circle cx="332.5" cy="105.3" r="1.3" fill="#e858f0"/>
<line x1="356.8" y1="71.3" x2="357.7" y2="73.8" stroke="#f0e020" stroke-width="1.1"/>
<line x1="356.0" y1="68.8" x2="356.8" y2="71.4" stroke="#50e050" stroke-width="1.3"/>
<circle cx="355.9" cy="68.5" r="0.7" fill="#d08030"/>
<circle cx="356.6" cy="70.0" r="1.3" fill="#e858f0"/>
<line x1="355.3" y1="74.5" x2="356.2" y2="77.0" stroke="#f0e020" stroke-width="1.1"/>
<line x1="354.5" y1="72.0" x2="355.3" y2="74.6" stroke="#50e050" stroke-width="1.3"/>
<circle cx="354.4" cy="71.7" r="0.7" fill="#d08030"/>
<circle cx="355.1" cy="73.2" r="1.3" fill="#e858f0"/>
<line x1="353.7" y1="77.6" x2="354.6" y2="80.1" stroke="#f0e020" stroke-width="1.1"/>
<line x1="352.9" y1="75.1" x2="353.7" y2="77.7" stroke="#50e050" stroke-width="1.3"/>
<circle cx="352.8" cy="74.8" r="0.7" fill="#d08030"/>
<line x1="352.1" y1="80.8" x2="353.0" y2="83.3" stroke="#f0e020" stroke-width="1.1"/>
<line x1="351.3" y1="78.3" x2="352.1" y2="80.9" stroke="#50e050" stroke-width="1.3"/>
<circle cx="351.2" cy="78.0" r="0.7" fill="#d08030"/>
<line x1="350.5" y1="83.9" x2="351.4" y2="86.4" stroke="#f0e020" stroke-width="1.1"/>
<line x1="349.7" y1="81.4" x2="350.5" y2="84.0" stroke="#50e050" stroke-width="1.3"/>
<circle cx="349.6" cy="81.1" r="0.7" fill="#d08030"/>
<line x1="348.8" y1="87.0" x2="349.7" y2="89.5" stroke="#f0e020" stroke-width="1.1"/>
<line x1="348.0" y1="84.5" x2="348.8" y2="87.1" stroke="#50e050" stroke-width="1.3"/>
<circle cx="347.9" cy="84.2" r="0.7" fill="#d08030"/>
<line x1="347.0" y1="90.1" x2="347.9" y2="92.6" stroke="#f0e020" stroke-width="1.1"/>
<line x1="346.2" y1="87.6" x2="347.0" y2="90.2" stroke="#50e050" stroke-width="1.3"/>
<circle cx="346.1" cy="87.3" r="0.7" fill="#d08030"/>
<circle cx="346.8" cy="88.8" r="1.3" fill="#e858f0"/>
<line x1="345.2" y1="93.2" x2="346.1" y2="95.7" stroke="#f0e020" stroke-width="1.1"/>
<line x1="344.4" y1="90.7" x2="345.2" y2="93.3" stroke="#50e050" stroke-width="1.3"/>
<circle cx="344.3" cy="90.4" r="0.7" fill="#d08030"/>
<line x1="343.4" y1="96.3" x2="344.3" y2="98.8" stroke="#f0e020" stroke-width="1.1"/>
<line x1="342.6" y1="93.8" x2="343.4" y2="96.4" stroke="#50e050" stroke-width="1.3"/>
<circle cx="342.5" cy="93.5" r="0.7" fill="#d08030"/>
<line x1="341.5" y1="99.4" x2="342.4" y2="101.9" stroke="#f0e020" stroke-width="1.1"/>
<line x1="340.7" y1="96.9" x2="341.5" y2="99.5" stroke="#50e050" stroke-width="1.3"/>
<circle cx="340.6" cy="96.6" r="0.7" fill="#d08030"/>
<line x1="339.6" y1="102.5" x2="340.5" y2="105.0" stroke="#f0e020" stroke-width="1.1"/>
<line x1="338.8" y1="100.0" x2="339.6" y2="102.6" stroke="#50e050" stroke-width="1.3"/>
<circle cx="338.7" cy="99.7" r="0.7" fill="#d08030"/>
<line x1="337.6" y1="105.5" x2="338.5" y2="108.0" stroke="#f0e020" stroke-width="1.1"/>
<line x1="336.8" y1="103.0" x2="337.6" y2="105.6" stroke="#50e050" stroke-width="1.3"/>
<circle cx="336.7" cy="102.7" r="0.7" fill="#d08030"/>
<line x1="335.6" y1="108.6" x2="336.5" y2="111.1" stroke="#f0e020" stroke-width="1.1"/>
<line x1="334.8" y1="106.1" x2="335.6" y2="108.7" stroke="#50e050" stroke-width="1.3"/>
<circle cx="334.7" cy="105.8" r="0.7" fill="#d08030"/>
<circle cx="335.4" cy="107.3" r="1.3" fill="#e858f0"/>
<line x1="360.2" y1="71.2" x2="361.1" y2="73.7" stroke="#f0e020" stroke-width="1.1"/>
<line x1="359.4" y1="68.7" x2="360.2" y2="71.3" stroke="#50e050" stroke-width="1.3"/>
<circle cx="359.3" cy="68.4" r="0.7" fill="#d08030"/>
<line x1="358.7" y1="74.5" x2="359.6" y2="77.0" stroke="#f0e020" stroke-width="1.1"/>
<line x1="357.9" y1="72.0" x2="358.7" y2="74.6" stroke="#50e050" stroke-width="1.3"/>
<circle cx="357.8" cy="71.7" r="0.7" fill="#d08030"/>
<line x1="357.1" y1="77.8" x2="358.0" y2="80.3" stroke="#f0e020" stroke-width="1.1"/>
<line x1="356.3" y1="75.3" x2="357.1" y2="77.9" stroke="#50e050" stroke-width="1.3"/>
<circle cx="356.2" cy="75.0" r="0.7" fill="#d08030"/>
<line x1="355.5" y1="81.1" x2="356.4" y2="83.6" stroke="#f0e020" stroke-width="1.1"/>
<line x1="354.7" y1="78.6" x2="355.5" y2="81.2" stroke="#50e050" stroke-width="1.3"/>
<circle cx="354.6" cy="78.3" r="0.7" fill="#d08030"/>
<line x1="353.8" y1="84.4" x2="354.7" y2="86.9" stroke="#f0e020" stroke-width="1.1"/>
<line x1="353.0" y1="81.9" x2="353.8" y2="84.5" stroke="#50e050" stroke-width="1.3"/>
<circle cx="352.9" cy="81.6" r="0.7" fill="#d08030"/>
<line x1="352.1" y1="87.7" x2="353.0" y2="90.2" stroke="#f0e020" stroke-width="1.1"/>
<line x1="351.3" y1="85.2" x2="352.1" y2="87.8" stroke="#50e050" stroke-width="1.3"/>
<circle cx="351.2" cy="84.9" r="0.7" fill="#d08030"/>
<line x1="350.3" y1="91.0" x2="351.2" y2="93.5" stroke="#f0e020" stroke-width="1.1"/>
<line x1="349.5" y1="88.5" x2="350.3" y2="91.1" stroke="#50e050" stroke-width="1.3"/>
<circle cx="349.4" cy="88.2" r="0.7" fill="#d08030"/>
<line x1="348.5" y1="94.2" x2="349.4" y2="96.7" stroke="#f0e020" stroke-width="1.1"/>
<line x1="347.7" y1="91.7" x2="348.5" y2="94.3" stroke="#50e050" stroke-width="1.3"/>
<circle cx="347.6" cy="91.4" r="0.7" fill="#d08030"/>
<line x1="346.6" y1="97.5" x2="347.5" y2="100.0" stroke="#f0e020" stroke-width="1.1"/>
<line x1="345.8" y1="95.0" x2="346.6" y2="97.6" stroke="#50e050" stroke-width="1.3"/>
<circle cx="345.7" cy="94.7" r="0.7" fill="#d08030"/>
<line x1="344.7" y1="100.7" x2="345.6" y2="103.2" stroke="#f0e020" stroke-width="1.1"/>
<line x1="343.9" y1="98.2" x2="344.7" y2="100.8" stroke="#50e050" stroke-width="1.3"/>
<circle cx="343.8" cy="97.9" r="0.7" fill="#d08030"/>
<line x1="342.7" y1="104.0" x2="343.6" y2="106.5" stroke="#f0e020" stroke-width="1.1"/>
<line x1="341.9" y1="101.5" x2="342.7" y2="104.1" stroke="#50e050" stroke-width="1.3"/>
<circle cx="341.8" cy="101.2" r="0.7" fill="#d08030"/>
<line x1="340.7" y1="107.2" x2="341.6" y2="109.7" stroke="#f0e020" stroke-width="1.1"/>
<line x1="339.9" y1="104.7" x2="340.7" y2="107.3" stroke="#50e050" stroke-width="1.3"/>
<circle cx="339.8" cy="104.4" r="0.7" fill="#d08030"/>
<line x1="338.6" y1="110.4" x2="339.5" y2="112.9" stroke="#f0e020" stroke-width="1.1"/>
<line x1="337.8" y1="107.9" x2="338.6" y2="110.5" stroke="#50e050" stroke-width="1.3"/>
<circle cx="337.7" cy="107.6" r="0.7" fill="#d08030"/>
<line x1="363.6" y1="71.2" x2="364.5" y2="73.7" stroke="#f0e020" stroke-width="1.1"/>
<line x1="362.8" y1="68.7" x2="363.6" y2="71.3" stroke="#50e050" stroke-width="1.3"/>
<circle cx="362.7" cy="68.4" r="0.7" fill="#d08030"/>
<line x1="362.1" y1="74.6" x2="363.0" y2="77.1" stroke="#f0e020" stroke-width="1.1"/>
<line x1="361.3" y1="72.1" x2="362.1" y2="74.7" stroke="#50e050" stroke-width="1.3"/>
<circle cx="361.2" cy="71.8" r="0.7" fill="#d08030"/>
<line x1="360.5" y1="78.0" x2="361.4" y2="80.5" stroke="#f0e020" stroke-width="1.1"/>
<line x1="359.7" y1="75.5" x2="360.5" y2="78.1" stroke="#50e050" stroke-width="1.3"/>
<circle cx="359.6" cy="75.2" r="0.7" fill="#d08030"/>
<line x1="358.9" y1="81.5" x2="359.8" y2="84.0" stroke="#f0e020" stroke-width="1.1"/>
<line x1="358.1" y1="79.0" x2="358.9" y2="81.6" stroke="#50e050" stroke-width="1.3"/>
<circle cx="358.0" cy="78.7" r="0.7" fill="#d08030"/>
<line x1="357.2" y1="84.9" x2="358.1" y2="87.4" stroke="#f0e020" stroke-width="1.1"/>
<line x1="356.4" y1="82.4" x2="357.2" y2="85.0" stroke="#50e050" stroke-width="1.3"/>
<circle cx="356.3" cy="82.1" r="0.7" fill="#d08030"/>
<line x1="355.5" y1="88.3" x2="356.4" y2="90.8" stroke="#f0e020" stroke-width="1.1"/>
<line x1="354.7" y1="85.8" x2="355.5" y2="88.4" stroke="#50e050" stroke-width="1.3"/>
<circle cx="354.6" cy="85.5" r="0.7" fill="#d08030"/>
<line x1="353.7" y1="91.7" x2="354.6" y2="94.2" stroke="#f0e020" stroke-width="1.1"/>
<line x1="352.9" y1="89.2" x2="353.7" y2="91.8" stroke="#50e050" stroke-width="1.3"/>
<circle cx="352.8" cy="88.9" r="0.7" fill="#d08030"/>
<line x1="351.9" y1="95.1" x2="352.8" y2="97.6" stroke="#f0e020" stroke-width="1.1"/>
<line x1="351.1" y1="92.6" x2="351.9" y2="95.2" stroke="#50e050" stroke-width="1.3"/>
<circle cx="351.0" cy="92.3" r="0.7" fill="#d08030"/>
<line x1="350.0" y1="98.5" x2="350.9" y2="101.0" stroke="#f0e020" stroke-width="1.1"/>
<line x1="349.2" y1="96.0" x2="350.0" y2="98.6" stroke="#50e050" stroke-width="1.3"/>
<circle cx="349.1" cy="95.7" r="0.7" fill="#d08030"/>
<circle cx="349.8" cy="97.2" r="1.3" fill="#e858f0"/>
<line x1="348.0" y1="101.9" x2="348.9" y2="104.4" stroke="#f0e020" stroke-width="1.1"/>
<line x1="347.2" y1="99.4" x2="348.0" y2="102.0" stroke="#50e050" stroke-width="1.3"/>
<circle cx="347.1" cy="99.1" r="0.7" fill="#d08030"/>
<circle cx="347.8" cy="100.6" r="1.3" fill="#e858f0"/>
<line x1="346.0" y1="105.3" x2="346.9" y2="107.8" stroke="#f0e020" stroke-width="1.1"/>
<line x1="345.2" y1="102.8" x2="346.0" y2="105.4" stroke="#50e050" stroke-width="1.3"/>
<circle cx="345.1" cy="102.5" r="0.7" fill="#d08030"/>
<line x1="343.9" y1="108.7" x2="344.8" y2="111.2" stroke="#f0e020" stroke-width="1.1"/>
<line x1="343.1" y1="106.2" x2="343.9" y2="108.8" stroke="#50e050" stroke-width="1.3"/>
<circle cx="343.0" cy="105.9" r="0.7" fill="#d08030"/>
<circle cx="343.7" cy="107.4" r="1.3" fill="#e858f0"/>
<line x1="341.8" y1="112.1" x2="342.7" y2="114.6" stroke="#f0e020" stroke-width="1.1"/>
<line x1="341.0" y1="109.6" x2="341.8" y2="112.2" stroke="#50e050" stroke-width="1.3"/>
<circle cx="340.9" cy="109.3" r="0.7" fill="#d08030"/>
<line x1="367.0" y1="71.1" x2="367.9" y2="73.6" stroke="#f0e020" stroke-width="1.1"/>
<line x1="366.2" y1="68.6" x2="367.0" y2="71.2" stroke="#50e050" stroke-width="1.3"/>
<circle cx="366.1" cy="68.3" r="0.7" fill="#d08030"/>
<line x1="365.5" y1="74.7" x2="366.4" y2="77.2" stroke="#f0e020" stroke-width="1.1"/>
<line x1="364.7" y1="72.2" x2="365.5" y2="74.8" stroke="#50e050" stroke-width="1.3"/>
<circle cx="364.6" cy="71.9" r="0.7" fill="#d08030"/>
<line x1="364.0" y1="78.2" x2="364.9" y2="80.7" stroke="#f0e020" stroke-width="1.1"/>
<line x1="363.2" y1="75.7" x2="364.0" y2="78.3" stroke="#50e050" stroke-width="1.3"/>
<circle cx="363.1" cy="75.4" r="0.7" fill="#d08030"/>
<line x1="362.4" y1="81.8" x2="363.3" y2="84.3" stroke="#f0e020" stroke-width="1.1"/>
<line x1="361.6" y1="79.3" x2="362.4" y2="81.9" stroke="#50e050" stroke-width="1.3"/>
<circle cx="361.5" cy="79.0" r="0.7" fill="#d08030"/>
<line x1="360.7" y1="85.3" x2="361.6" y2="87.8" stroke="#f0e020" stroke-width="1.1"/>
<line x1="359.9" y1="82.8" x2="360.7" y2="85.4" stroke="#50e050" stroke-width="1.3"/>
<circle cx="359.8" cy="82.5" r="0.7" fill="#d08030"/>
<line x1="359.0" y1="88.9" x2="359.9" y2="91.4" stroke="#f0e020" stroke-width="1.1"/>
<line x1="358.2" y1="86.4" x2="359.0" y2="89.0" stroke="#50e050" stroke-width="1.3"/>
<circle cx="358.1" cy="86.1" r="0.7" fill="#d08030"/>
<line x1="357.2" y1="92.4" x2="358.1" y2="94.9" stroke="#f0e020" stroke-width="1.1"/>
<line x1="356.4" y1="89.9" x2="357.2" y2="92.5" stroke="#50e050" stroke-width="1.3"/>
<circle cx="356.3" cy="89.6" r="0.7" fill="#d08030"/>
<line x1="355.4" y1="96.0" x2="356.3" y2="98.5" stroke="#f0e020" stroke-width="1.1"/>
<line x1="354.6" y1="93.5" x2="355.4" y2="96.1" stroke="#50e050" stroke-width="1.3"/>
<circle cx="354.5" cy="93.2" r="0.7" fill="#d08030"/>
<line x1="353.5" y1="99.5" x2="354.4" y2="102.0" stroke="#f0e020" stroke-width="1.1"/>
<line x1="352.7" y1="97.0" x2="353.5" y2="99.6" stroke="#50e050" stroke-width="1.3"/>
<circle cx="352.6" cy="96.7" r="0.7" fill="#d08030"/>
<line x1="351.5" y1="103.0" x2="352.4" y2="105.5" stroke="#f0e020" stroke-width="1.1"/>
<line x1="350.7" y1="100.5" x2="351.5" y2="103.1" stroke="#50e050" stroke-width="1.3"/>
<circle cx="350.6" cy="100.2" r="0.7" fill="#d08030"/>
<line x1="349.5" y1="106.5" x2="350.4" y2="109.0" stroke="#f0e020" stroke-width="1.1"/>
<line x1="348.7" y1="104.0" x2="349.5" y2="106.6" stroke="#50e050" stroke-width="1.3"/>
<circle cx="348.6" cy="103.7" r="0.7" fill="#d08030"/>
<line x1="347.4" y1="110.1" x2="348.3" y2="112.6" stroke="#f0e020" stroke-width="1.1"/>
<line x1="346.6" y1="107.6" x2="347.4" y2="110.2" stroke="#50e050" stroke-width="1.3"/>
<circle cx="346.5" cy="107.3" r="0.7" fill="#d08030"/>
<line x1="345.2" y1="113.6" x2="346.1" y2="116.1" stroke="#f0e020" stroke-width="1.1"/>
<line x1="344.4" y1="111.1" x2="345.2" y2="113.7" stroke="#50e050" stroke-width="1.3"/>
<circle cx="344.3" cy="110.8" r="0.7" fill="#d08030"/>
<line x1="370.4" y1="71.1" x2="371.3" y2="73.6" stroke="#f0e020" stroke-width="1.1"/>
<line x1="369.6" y1="68.6" x2="370.4" y2="71.2" stroke="#50e050" stroke-width="1.3"/>
<circle cx="369.5" cy="68.3" r="0.7" fill="#d08030"/>
<line x1="368.9" y1="74.7" x2="369.8" y2="77.2" stroke="#f0e020" stroke-width="1.1"/>
<line x1="368.1" y1="72.2" x2="368.9" y2="74.8" stroke="#50e050" stroke-width="1.3"/>
<circle cx="368.0" cy="71.9" r="0.7" fill="#d08030"/>
<line x1="367.4" y1="78.4" x2="368.3" y2="80.9" stroke="#f0e020" stroke-width="1.1"/>
<line x1="366.6" y1="75.9" x2="367.4" y2="78.5" stroke="#50e050" stroke-width="1.3"/>
<circle cx="366.5" cy="75.6" r="0.7" fill="#d08030"/>
<line x1="365.9" y1="82.1" x2="366.8" y2="84.6" stroke="#f0e020" stroke-width="1.1"/>
<line x1="365.1" y1="79.6" x2="365.9" y2="82.2" stroke="#50e050" stroke-width="1.3"/>
<circle cx="365.0" cy="79.3" r="0.7" fill="#d08030"/>
<line x1="364.3" y1="85.7" x2="365.2" y2="88.2" stroke="#f0e020" stroke-width="1.1"/>
<line x1="363.5" y1="83.2" x2="364.3" y2="85.8" stroke="#50e050" stroke-width="1.3"/>
<circle cx="363.4" cy="82.9" r="0.7" fill="#d08030"/>
<line x1="362.6" y1="89.4" x2="363.5" y2="91.9" stroke="#f0e020" stroke-width="1.1"/>
<line x1="361.8" y1="86.9" x2="362.6" y2="89.5" stroke="#50e050" stroke-width="1.3"/>
<circle cx="361.7" cy="86.6" r="0.7" fill="#d08030"/>
<line x1="360.8" y1="93.1" x2="361.7" y2="95.6" stroke="#f0e020" stroke-width="1.1"/>
<line x1="360.0" y1="90.6" x2="360.8" y2="93.2" stroke="#50e050" stroke-width="1.3"/>
<circle cx="359.9" cy="90.3" r="0.7" fill="#d08030"/>
<line x1="359.0" y1="96.7" x2="359.9" y2="99.2" stroke="#f0e020" stroke-width="1.1"/>
<line x1="358.2" y1="94.2" x2="359.0" y2="96.8" stroke="#50e050" stroke-width="1.3"/>
<circle cx="358.1" cy="93.9" r="0.7" fill="#d08030"/>
<line x1="357.1" y1="100.4" x2="358.0" y2="102.9" stroke="#f0e020" stroke-width="1.1"/>
<line x1="356.3" y1="97.9" x2="357.1" y2="100.5" stroke="#50e050" stroke-width="1.3"/>
<circle cx="356.2" cy="97.6" r="0.7" fill="#d08030"/>
<line x1="355.1" y1="104.0" x2="356.0" y2="106.5" stroke="#f0e020" stroke-width="1.1"/>
<line x1="354.3" y1="101.5" x2="355.1" y2="104.1" stroke="#50e050" stroke-width="1.3"/>
<circle cx="354.2" cy="101.2" r="0.7" fill="#d08030"/>
<circle cx="354.9" cy="102.7" r="1.3" fill="#e858f0"/>
<line x1="353.1" y1="107.7" x2="354.0" y2="110.2" stroke="#f0e020" stroke-width="1.1"/>
<line x1="352.3" y1="105.2" x2="353.1" y2="107.8" stroke="#50e050" stroke-width="1.3"/>
<circle cx="352.2" cy="104.9" r="0.7" fill="#d08030"/>
<line x1="351.0" y1="111.3" x2="351.9" y2="113.8" stroke="#f0e020" stroke-width="1.1"/>
<line x1="350.2" y1="108.8" x2="351.0" y2="111.4" stroke="#50e050" stroke-width="1.3"/>
<circle cx="350.1" cy="108.5" r="0.7" fill="#d08030"/>
<line x1="348.8" y1="115.0" x2="349.7" y2="117.5" stroke="#f0e020" stroke-width="1.1"/>
<line x1="348.0" y1="112.5" x2="348.8" y2="115.1" stroke="#50e050" stroke-width="1.3"/>
<circle cx="347.9" cy="112.2" r="0.7" fill="#d08030"/>
<line x1="373.7" y1="71.1" x2="374.6" y2="73.6" stroke="#f0e020" stroke-width="1.1"/>
<line x1="372.9" y1="68.6" x2="373.7" y2="71.2" stroke="#50e050" stroke-width="1.3"/>
<circle cx="372.8" cy="68.3" r="0.7" fill="#d08030"/>
<line x1="372.4" y1="74.8" x2="373.3" y2="77.3" stroke="#f0e020" stroke-width="1.1"/>
<line x1="371.6" y1="72.3" x2="372.4" y2="74.9" stroke="#50e050" stroke-width="1.3"/>
<circle cx="371.5" cy="72.0" r="0.7" fill="#d08030"/>
<line x1="370.9" y1="78.6" x2="371.8" y2="81.1" stroke="#f0e020" stroke-width="1.1"/>
<line x1="370.1" y1="76.1" x2="370.9" y2="78.7" stroke="#50e050" stroke-width="1.3"/>
<circle cx="370.0" cy="75.8" r="0.7" fill="#d08030"/>
<circle cx="370.7" cy="77.3" r="1.3" fill="#e858f0"/>
<line x1="369.4" y1="82.3" x2="370.3" y2="84.8" stroke="#f0e020" stroke-width="1.1"/>
<line x1="368.6" y1="79.8" x2="369.4" y2="82.4" stroke="#50e050" stroke-width="1.3"/>
<circle cx="368.5" cy="79.5" r="0.7" fill="#d08030"/>
<line x1="367.9" y1="86.1" x2="368.8" y2="88.6" stroke="#f0e020" stroke-width="1.1"/>
<line x1="367.1" y1="83.6" x2="367.9" y2="86.2" stroke="#50e050" stroke-width="1.3"/>
<circle cx="367.0" cy="83.3" r="0.7" fill="#d08030"/>
<line x1="366.2" y1="89.9" x2="367.1" y2="92.4" stroke="#f0e020" stroke-width="1.1"/>
<line x1="365.4" y1="87.4" x2="366.2" y2="90.0" stroke="#50e050" stroke-width="1.3"/>
<circle cx="365.3" cy="87.1" r="0.7" fill="#d08030"/>
<line x1="364.5" y1="93.6" x2="365.4" y2="96.1" stroke="#f0e020" stroke-width="1.1"/>
<line x1="363.7" y1="91.1" x2="364.5" y2="93.7" stroke="#50e050" stroke-width="1.3"/>
<circle cx="363.6" cy="90.8" r="0.7" fill="#d08030"/>
<line x1="362.7" y1="97.4" x2="363.6" y2="99.9" stroke="#f0e020" stroke-width="1.1"/>
<line x1="361.9" y1="94.9" x2="362.7" y2="97.5" stroke="#50e050" stroke-width="1.3"/>
<circle cx="361.8" cy="94.6" r="0.7" fill="#d08030"/>
<line x1="360.8" y1="101.1" x2="361.7" y2="103.6" stroke="#f0e020" stroke-width="1.1"/>
<line x1="360.0" y1="98.6" x2="360.8" y2="101.2" stroke="#50e050" stroke-width="1.3"/>
<circle cx="359.9" cy="98.3" r="0.7" fill="#d08030"/>
<line x1="358.9" y1="104.9" x2="359.8" y2="107.4" stroke="#f0e020" stroke-width="1.1"/>
<line x1="358.1" y1="102.4" x2="358.9" y2="105.0" stroke="#50e050" stroke-width="1.3"/>
<circle cx="358.0" cy="102.1" r="0.7" fill="#d08030"/>
<line x1="356.9" y1="108.7" x2="357.8" y2="111.2" stroke="#f0e020" stroke-width="1.1"/>
<line x1="356.1" y1="106.2" x2="356.9" y2="108.8" stroke="#50e050" stroke-width="1.3"/>
<circle cx="356.0" cy="105.9" r="0.7" fill="#d08030"/>
<line x1="354.8" y1="112.4" x2="355.7" y2="114.9" stroke="#f0e020" stroke-width="1.1"/>
<line x1="354.0" y1="109.9" x2="354.8" y2="112.5" stroke="#50e050" stroke-width="1.3"/>
<circle cx="353.9" cy="109.6" r="0.7" fill="#d08030"/>
<circle cx="354.6" cy="111.1" r="1.3" fill="#e858f0"/>
<line x1="352.6" y1="116.2" x2="353.5" y2="118.7" stroke="#f0e020" stroke-width="1.1"/>
<line x1="351.8" y1="113.7" x2="352.6" y2="116.3" stroke="#50e050" stroke-width="1.3"/>
<circle cx="351.7" cy="113.4" r="0.7" fill="#d08030"/>
<line x1="377.1" y1="71.0" x2="378.0" y2="73.5" stroke="#f0e020" stroke-width="1.1"/>
<line x1="376.3" y1="68.5" x2="377.1" y2="71.1" stroke="#50e050" stroke-width="1.3"/>
<circle cx="376.2" cy="68.2" r="0.7" fill="#d08030"/>
<line x1="375.8" y1="74.9" x2="376.7" y2="77.4" stroke="#f0e020" stroke-width="1.1"/>
<line x1="375.0" y1="72.4" x2="375.8" y2="75.0" stroke="#50e050" stroke-width="1.3"/>
<circle cx="374.9" cy="72.1" r="0.7" fill="#d08030"/>
<line x1="374.5" y1="78.7" x2="375.4" y2="81.2" stroke="#f0e020" stroke-width="1.1"/>
<line x1="373.7" y1="76.2" x2="374.5" y2="78.8" stroke="#50e050" stroke-width="1.3"/>
<circle cx="373.6" cy="75.9" r="0.7" fill="#d08030"/>
<line x1="373.0" y1="82.6" x2="373.9" y2="85.1" stroke="#f0e020" stroke-width="1.1"/>
<line x1="372.2" y1="80.1" x2="373.0" y2="82.7" stroke="#50e050" stroke-width="1.3"/>
<circle cx="372.1" cy="79.8" r="0.7" fill="#d08030"/>
<line x1="371.5" y1="86.4" x2="372.4" y2="88.9" stroke="#f0e020" stroke-width="1.1"/>
<line x1="370.7" y1="83.9" x2="371.5" y2="86.5" stroke="#50e050" stroke-width="1.3"/>
<circle cx="370.6" cy="83.6" r="0.7" fill="#d08030"/>
<circle cx="371.3" cy="85.1" r="1.3" fill="#e858f0"/>
<line x1="369.9" y1="90.3" x2="370.8" y2="92.8" stroke="#f0e020" stroke-width="1.1"/>
<line x1="369.1" y1="87.8" x2="369.9" y2="90.4" stroke="#50e050" stroke-width="1.3"/>
<circle cx="369.0" cy="87.5" r="0.7" fill="#d08030"/>
<circle cx="369.7" cy="89.0" r="1.3" fill="#e858f0"/>
<line x1="368.3" y1="94.1" x2="369.2" y2="96.6" stroke="#f0e020" stroke-width="1.1"/>
<line x1="367.5" y1="91.6" x2="368.3" y2="94.2" stroke="#50e050" stroke-width="1.3"/>
<circle cx="367.4" cy="91.3" r="0.7" fill="#d08030"/>
<line x1="366.5" y1="98.0" x2="367.4" y2="100.5" stroke="#f0e020" stroke-width="1.1"/>
<line x1="365.7" y1="95.5" x2="366.5" y2="98.1" stroke="#50e050" stroke-width="1.3"/>
<circle cx="365.6" cy="95.2" r="0.7" fill="#d08030"/>
<line x1="364.7" y1="101.8" x2="365.6" y2="104.3" stroke="#f0e020" stroke-width="1.1"/>
<line x1="363.9" y1="99.3" x2="364.7" y2="101.9" stroke="#50e050" stroke-width="1.3"/>
<circle cx="363.8" cy="99.0" r="0.7" fill="#d08030"/>
<line x1="362.8" y1="105.7" x2="363.7" y2="108.2" stroke="#f0e020" stroke-width="1.1"/>
<line x1="362.0" y1="103.2" x2="362.8" y2="105.8" stroke="#50e050" stroke-width="1.3"/>
<circle cx="361.9" cy="102.9" r="0.7" fill="#d08030"/>
<line x1="360.8" y1="109.5" x2="361.7" y2="112.0" stroke="#f0e020" stroke-width="1.1"/>
<line x1="360.0" y1="107.0" x2="360.8" y2="109.6" stroke="#50e050" stroke-width="1.3"/>
<circle cx="359.9" cy="106.7" r="0.7" fill="#d08030"/>
<line x1="358.7" y1="113.4" x2="359.6" y2="115.9" stroke="#f0e020" stroke-width="1.1"/>
<line x1="357.9" y1="110.9" x2="358.7" y2="113.5" stroke="#50e050" stroke-width="1.3"/>
<circle cx="357.8" cy="110.6" r="0.7" fill="#d08030"/>
<line x1="356.6" y1="117.3" x2="357.5" y2="119.8" stroke="#f0e020" stroke-width="1.1"/>
<line x1="355.8" y1="114.8" x2="356.6" y2="117.4" stroke="#50e050" stroke-width="1.3"/>
<circle cx="355.7" cy="114.5" r="0.7" fill="#d08030"/>
<line x1="380.5" y1="71.1" x2="381.4" y2="73.6" stroke="#f0e020" stroke-width="1.1"/>
<line x1="379.7" y1="68.6" x2="380.5" y2="71.2" stroke="#50e050" stroke-width="1.3"/>
<circle cx="379.6" cy="68.3" r="0.7" fill="#d08030"/>
<line x1="379.3" y1="75.0" x2="380.2" y2="77.5" stroke="#f0e020" stroke-width="1.1"/>
<line x1="378.5" y1="72.5" x2="379.3" y2="75.1" stroke="#50e050" stroke-width="1.3"/>
<circle cx="378.4" cy="72.2" r="0.7" fill="#d08030"/>
<line x1="378.0" y1="78.9" x2="378.9" y2="81.4" stroke="#f0e020" stroke-width="1.1"/>
<line x1="377.2" y1="76.4" x2="378.0" y2="79.0" stroke="#50e050" stroke-width="1.3"/>
<circle cx="377.1" cy="76.1" r="0.7" fill="#d08030"/>
<line x1="376.7" y1="82.8" x2="377.6" y2="85.3" stroke="#f0e020" stroke-width="1.1"/>
<line x1="375.9" y1="80.3" x2="376.7" y2="82.9" stroke="#50e050" stroke-width="1.3"/>
<circle cx="375.8" cy="80.0" r="0.7" fill="#d08030"/>
<line x1="375.2" y1="86.7" x2="376.1" y2="89.2" stroke="#f0e020" stroke-width="1.1"/>
<line x1="374.4" y1="84.2" x2="375.2" y2="86.8" stroke="#50e050" stroke-width="1.3"/>
<circle cx="374.3" cy="83.9" r="0.7" fill="#d08030"/>
<line x1="373.7" y1="90.6" x2="374.6" y2="93.1" stroke="#f0e020" stroke-width="1.1"/>
<line x1="372.9" y1="88.1" x2="373.7" y2="90.7" stroke="#50e050" stroke-width="1.3"/>
<circle cx="372.8" cy="87.8" r="0.7" fill="#d08030"/>
<line x1="372.1" y1="94.6" x2="373.0" y2="97.1" stroke="#f0e020" stroke-width="1.1"/>
<line x1="371.3" y1="92.1" x2="372.1" y2="94.7" stroke="#50e050" stroke-width="1.3"/>
<circle cx="371.2" cy="91.8" r="0.7" fill="#d08030"/>
<circle cx="371.9" cy="93.3" r="1.3" fill="#e858f0"/>
<line x1="370.4" y1="98.5" x2="371.3" y2="101.0" stroke="#f0e020" stroke-width="1.1"/>
<line x1="369.6" y1="96.0" x2="370.4" y2="98.6" stroke="#50e050" stroke-width="1.3"/>
<circle cx="369.5" cy="95.7" r="0.7" fill="#d08030"/>
<line x1="368.7" y1="102.4" x2="369.6" y2="104.9" stroke="#f0e020" stroke-width="1.1"/>
<line x1="367.9" y1="99.9" x2="368.7" y2="102.5" stroke="#50e050" stroke-width="1.3"/>
<circle cx="367.8" cy="99.6" r="0.7" fill="#d08030"/>
<line x1="366.8" y1="106.4" x2="367.7" y2="108.9" stroke="#f0e020" stroke-width="1.1"/>
<line x1="366.0" y1="103.9" x2="366.8" y2="106.5" stroke="#50e050" stroke-width="1.3"/>
<circle cx="365.9" cy="103.6" r="0.7" fill="#d08030"/>
<line x1="364.9" y1="110.3" x2="365.8" y2="112.8" stroke="#f0e020" stroke-width="1.1"/>
<line x1="364.1" y1="107.8" x2="364.9" y2="110.4" stroke="#50e050" stroke-width="1.3"/>
<circle cx="364.0" cy="107.5" r="0.7" fill="#d08030"/>
<line x1="362.8" y1="114.3" x2="363.7" y2="116.8" stroke="#f0e020" stroke-width="1.1"/>
<line x1="362.0" y1="111.8" x2="362.8" y2="114.4" stroke="#50e050" stroke-width="1.3"/>
<circle cx="361.9" cy="111.5" r="0.7" fill="#d08030"/>
<line x1="360.7" y1="118.2" x2="361.6" y2="120.7" stroke="#f0e020" stroke-width="1.1"/>
<line x1="359.9" y1="115.7" x2="360.7" y2="118.3" stroke="#50e050" stroke-width="1.3"/>
<circle cx="359.8" cy="115.4" r="0.7" fill="#d08030"/>
<line x1="383.8" y1="71.1" x2="384.7" y2="73.6" stroke="#f0e020" stroke-width="1.1"/>
<line x1="383.0" y1="68.6" x2="383.8" y2="71.2" stroke="#50e050" stroke-width="1.3"/>
<circle cx="382.9" cy="68.3" r="0.7" fill="#d08030"/>
<line x1="382.8" y1="75.0" x2="383.7" y2="77.5" stroke="#f0e020" stroke-width="1.1"/>
<line x1="382.0" y1="72.5" x2="382.8" y2="75.1" stroke="#50e050" stroke-width="1.3"/>
<circle cx="381.9" cy="72.2" r="0.7" fill="#d08030"/>
<line x1="381.6" y1="79.0" x2="382.5" y2="81.5" stroke="#f0e020" stroke-width="1.1"/>
<line x1="380.8" y1="76.5" x2="381.6" y2="79.1" stroke="#50e050" stroke-width="1.3"/>
<circle cx="380.7" cy="76.2" r="0.7" fill="#d08030"/>
<line x1="380.3" y1="83.0" x2="381.2" y2="85.5" stroke="#f0e020" stroke-width="1.1"/>
<line x1="379.5" y1="80.5" x2="380.3" y2="83.1" stroke="#50e050" stroke-width="1.3"/>
<circle cx="379.4" cy="80.2" r="0.7" fill="#d08030"/>
<line x1="379.0" y1="87.0" x2="379.9" y2="89.5" stroke="#f0e020" stroke-width="1.1"/>
<line x1="378.2" y1="84.5" x2="379.0" y2="87.1" stroke="#50e050" stroke-width="1.3"/>
<circle cx="378.1" cy="84.2" r="0.7" fill="#d08030"/>
<line x1="377.6" y1="90.9" x2="378.5" y2="93.4" stroke="#f0e020" stroke-width="1.1"/>
<line x1="376.8" y1="88.4" x2="377.6" y2="91.0" stroke="#50e050" stroke-width="1.3"/>
<circle cx="376.7" cy="88.1" r="0.7" fill="#d08030"/>
<circle cx="377.4" cy="89.6" r="1.3" fill="#e858f0"/>
<line x1="376.1" y1="94.9" x2="377.0" y2="97.4" stroke="#f0e020" stroke-width="1.1"/>
<line x1="375.3" y1="92.4" x2="376.1" y2="95.0" stroke="#50e050" stroke-width="1.3"/>
<circle cx="375.2" cy="92.1" r="0.7" fill="#d08030"/>
<line x1="374.5" y1="98.9" x2="375.4" y2="101.4" stroke="#f0e020" stroke-width="1.1"/>
<line x1="373.7" y1="96.4" x2="374.5" y2="99.0" stroke="#50e050" stroke-width="1.3"/>
<circle cx="373.6" cy="96.1" r="0.7" fill="#d08030"/>
<line x1="372.8" y1="102.9" x2="373.7" y2="105.4" stroke="#f0e020" stroke-width="1.1"/>
<line x1="372.0" y1="100.4" x2="372.8" y2="103.0" stroke="#50e050" stroke-width="1.3"/>
<circle cx="371.9" cy="100.1" r="0.7" fill="#d08030"/>
<line x1="371.0" y1="106.9" x2="371.9" y2="109.4" stroke="#f0e020" stroke-width="1.1"/>
<line x1="370.2" y1="104.4" x2="371.0" y2="107.0" stroke="#50e050" stroke-width="1.3"/>
<circle cx="370.1" cy="104.1" r="0.7" fill="#d08030"/>
<line x1="369.1" y1="110.9" x2="370.0" y2="113.4" stroke="#f0e020" stroke-width="1.1"/>
<line x1="368.3" y1="108.4" x2="369.1" y2="111.0" stroke="#50e050" stroke-width="1.3"/>
<circle cx="368.2" cy="108.1" r="0.7" fill="#d08030"/>
<line x1="367.1" y1="115.0" x2="368.0" y2="117.5" stroke="#f0e020" stroke-width="1.1"/>
<line x1="366.3" y1="112.5" x2="367.1" y2="115.1" stroke="#50e050" stroke-width="1.3"/>
<circle cx="366.2" cy="112.2" r="0.7" fill="#d08030"/>
<circle cx="366.9" cy="113.7" r="1.3" fill="#e858f0"/>
<line x1="365.1" y1="119.0" x2="366.0" y2="121.5" stroke="#f0e020" stroke-width="1.1"/>
<line x1="364.3" y1="116.5" x2="365.1" y2="119.1" stroke="#50e050" stroke-width="1.3"/>
<circle cx="364.2" cy="116.2" r="0.7" fill="#d08030"/>
<circle cx="364.9" cy="117.7" r="1.3" fill="#e858f0"/>
<line x1="387.2" y1="71.1" x2="388.1" y2="73.6" stroke="#f0e020" stroke-width="1.1"/>
<line x1="386.4" y1="68.6" x2="387.2" y2="71.2" stroke="#50e050" stroke-width="1.3"/>
<circle cx="386.3" cy="68.3" r="0.7" fill="#d08030"/>
<line x1="386.2" y1="75.1" x2="387.1" y2="77.6" stroke="#f0e020" stroke-width="1.1"/>
<line x1="385.4" y1="72.6" x2="386.2" y2="75.2" stroke="#50e050" stroke-width="1.3"/>
<circle cx="385.3" cy="72.3" r="0.7" fill="#d08030"/>
<line x1="385.2" y1="79.1" x2="386.1" y2="81.6" stroke="#f0e020" stroke-width="1.1"/>
<line x1="384.4" y1="76.6" x2="385.2" y2="79.2" stroke="#50e050" stroke-width="1.3"/>
<circle cx="384.3" cy="76.3" r="0.7" fill="#d08030"/>
<line x1="384.1" y1="83.2" x2="385.0" y2="85.7" stroke="#f0e020" stroke-width="1.1"/>
<line x1="383.3" y1="80.7" x2="384.1" y2="83.3" stroke="#50e050" stroke-width="1.3"/>
<circle cx="383.2" cy="80.4" r="0.7" fill="#d08030"/>
<line x1="382.8" y1="87.2" x2="383.7" y2="89.7" stroke="#f0e020" stroke-width="1.1"/>
<line x1="382.0" y1="84.7" x2="382.8" y2="87.3" stroke="#50e050" stroke-width="1.3"/>
<circle cx="381.9" cy="84.4" r="0.7" fill="#d08030"/>
<line x1="381.5" y1="91.2" x2="382.4" y2="93.7" stroke="#f0e020" stroke-width="1.1"/>
<line x1="380.7" y1="88.7" x2="381.5" y2="91.3" stroke="#50e050" stroke-width="1.3"/>
<circle cx="380.6" cy="88.4" r="0.7" fill="#d08030"/>
<line x1="380.1" y1="95.2" x2="381.0" y2="97.7" stroke="#f0e020" stroke-width="1.1"/>
<line x1="379.3" y1="92.7" x2="380.1" y2="95.3" stroke="#50e050" stroke-width="1.3"/>
<circle cx="379.2" cy="92.4" r="0.7" fill="#d08030"/>
<line x1="378.6" y1="99.3" x2="379.5" y2="101.8" stroke="#f0e020" stroke-width="1.1"/>
<line x1="377.8" y1="96.8" x2="378.6" y2="99.4" stroke="#50e050" stroke-width="1.3"/>
<circle cx="377.7" cy="96.5" r="0.7" fill="#d08030"/>
<line x1="377.0" y1="103.3" x2="377.9" y2="105.8" stroke="#f0e020" stroke-width="1.1"/>
<line x1="376.2" y1="100.8" x2="377.0" y2="103.4" stroke="#50e050" stroke-width="1.3"/>
<circle cx="376.1" cy="100.5" r="0.7" fill="#d08030"/>
<line x1="375.3" y1="107.4" x2="376.2" y2="109.9" stroke="#f0e020" stroke-width="1.1"/>
<line x1="374.5" y1="104.9" x2="375.3" y2="107.5" stroke="#50e050" stroke-width="1.3"/>
<circle cx="374.4" cy="104.6" r="0.7" fill="#d08030"/>
<line x1="373.5" y1="111.5" x2="374.4" y2="114.0" stroke="#f0e020" stroke-width="1.1"/>
<line x1="372.7" y1="109.0" x2="373.5" y2="111.6" stroke="#50e050" stroke-width="1.3"/>
<circle cx="372.6" cy="108.7" r="0.7" fill="#d08030"/>
<line x1="371.6" y1="115.5" x2="372.5" y2="118.0" stroke="#f0e020" stroke-width="1.1"/>
<line x1="370.8" y1="113.0" x2="371.6" y2="115.6" stroke="#50e050" stroke-width="1.3"/>
<circle cx="370.7" cy="112.7" r="0.7" fill="#d08030"/>
<line x1="369.6" y1="119.6" x2="370.5" y2="122.1" stroke="#f0e020" stroke-width="1.1"/>
<line x1="368.8" y1="117.1" x2="369.6" y2="119.7" stroke="#50e050" stroke-width="1.3"/>
<circle cx="368.7" cy="116.8" r="0.7" fill="#d08030"/>
<line x1="390.5" y1="71.2" x2="391.4" y2="73.7" stroke="#f0e020" stroke-width="1.1"/>
<line x1="389.7" y1="68.7" x2="390.5" y2="71.3" stroke="#50e050" stroke-width="1.3"/>
<circle cx="389.6" cy="68.4" r="0.7" fill="#d08030"/>
<line x1="389.7" y1="75.2" x2="390.6" y2="77.7" stroke="#f0e020" stroke-width="1.1"/>
<line x1="388.9" y1="72.7" x2="389.7" y2="75.3" stroke="#50e050" stroke-width="1.3"/>
<circle cx="388.8" cy="72.4" r="0.7" fill="#d08030"/>
<line x1="388.8" y1="79.2" x2="389.7" y2="81.7" stroke="#f0e020" stroke-width="1.1"/>
<line x1="388.0" y1="76.7" x2="388.8" y2="79.3" stroke="#50e050" stroke-width="1.3"/>
<circle cx="387.9" cy="76.4" r="0.7" fill="#d08030"/>
<line x1="387.8" y1="83.3" x2="388.7" y2="85.8" stroke="#f0e020" stroke-width="1.1"/>
<line x1="387.0" y1="80.8" x2="387.8" y2="83.4" stroke="#50e050" stroke-width="1.3"/>
<circle cx="386.9" cy="80.5" r="0.7" fill="#d08030"/>
<line x1="386.7" y1="87.4" x2="387.6" y2="89.9" stroke="#f0e020" stroke-width="1.1"/>
<line x1="385.9" y1="84.9" x2="386.7" y2="87.5" stroke="#50e050" stroke-width="1.3"/>
<circle cx="385.8" cy="84.6" r="0.7" fill="#d08030"/>
<line x1="385.5" y1="91.4" x2="386.4" y2="93.9" stroke="#f0e020" stroke-width="1.1"/>
<line x1="384.7" y1="88.9" x2="385.5" y2="91.5" stroke="#50e050" stroke-width="1.3"/>
<circle cx="384.6" cy="88.6" r="0.7" fill="#d08030"/>
<line x1="384.2" y1="95.5" x2="385.1" y2="98.0" stroke="#f0e020" stroke-width="1.1"/>
<line x1="383.4" y1="93.0" x2="384.2" y2="95.6" stroke="#50e050" stroke-width="1.3"/>
<circle cx="383.3" cy="92.7" r="0.7" fill="#d08030"/>
<line x1="382.8" y1="99.6" x2="383.7" y2="102.1" stroke="#f0e020" stroke-width="1.1"/>
<line x1="382.0" y1="97.1" x2="382.8" y2="99.7" stroke="#50e050" stroke-width="1.3"/>
<circle cx="381.9" cy="96.8" r="0.7" fill="#d08030"/>
<line x1="381.3" y1="103.7" x2="382.2" y2="106.2" stroke="#f0e020" stroke-width="1.1"/>
<line x1="380.5" y1="101.2" x2="381.3" y2="103.8" stroke="#50e050" stroke-width="1.3"/>
<circle cx="380.4" cy="100.9" r="0.7" fill="#d08030"/>
<line x1="379.7" y1="107.8" x2="380.6" y2="110.3" stroke="#f0e020" stroke-width="1.1"/>
<line x1="378.9" y1="105.3" x2="379.7" y2="107.9" stroke="#50e050" stroke-width="1.3"/>
<circle cx="378.8" cy="105.0" r="0.7" fill="#d08030"/>
<line x1="378.0" y1="111.9" x2="378.9" y2="114.4" stroke="#f0e020" stroke-width="1.1"/>
<line x1="377.2" y1="109.4" x2="378.0" y2="112.0" stroke="#50e050" stroke-width="1.3"/>
<circle cx="377.1" cy="109.1" r="0.7" fill="#d08030"/>
<line x1="376.2" y1="116.0" x2="377.1" y2="118.5" stroke="#f0e020" stroke-width="1.1"/>
<line x1="375.4" y1="113.5" x2="376.2" y2="116.1" stroke="#50e050" stroke-width="1.3"/>
<circle cx="375.3" cy="113.2" r="0.7" fill="#d08030"/>
<line x1="374.3" y1="120.1" x2="375.2" y2="122.6" stroke="#f0e020" stroke-width="1.1"/>
<line x1="373.5" y1="117.6" x2="374.3" y2="120.2" stroke="#50e050" stroke-width="1.3"/>
<circle cx="373.4" cy="117.3" r="0.7" fill="#d08030"/>
<line x1="393.9" y1="71.3" x2="394.8" y2="73.8" stroke="#f0e020" stroke-width="1.1"/>
<line x1="393.1" y1="68.8" x2="393.9" y2="71.4" stroke="#50e050" stroke-width="1.3"/>
<circle cx="393.0" cy="68.5" r="0.7" fill="#d08030"/>
<line x1="393.3" y1="75.3" x2="394.2" y2="77.8" stroke="#f0e020" stroke-width="1.1"/>
<line x1="392.5" y1="72.8" x2="393.3" y2="75.4" stroke="#50e050" stroke-width="1.3"/>
<circle cx="392.4" cy="72.5" r="0.7" fill="#d08030"/>
<line x1="392.5" y1="79.3" x2="393.4" y2="81.8" stroke="#f0e020" stroke-width="1.1"/>
<line x1="391.7" y1="76.8" x2="392.5" y2="79.4" stroke="#50e050" stroke-width="1.3"/>
<circle cx="391.6" cy="76.5" r="0.7" fill="#d08030"/>
<line x1="391.7" y1="83.4" x2="392.6" y2="85.9" stroke="#f0e020" stroke-width="1.1"/>
<line x1="390.9" y1="80.9" x2="391.7" y2="83.5" stroke="#50e050" stroke-width="1.3"/>
<circle cx="390.8" cy="80.6" r="0.7" fill="#d08030"/>
<line x1="390.7" y1="87.5" x2="391.6" y2="90.0" stroke="#f0e020" stroke-width="1.1"/>
<line x1="389.9" y1="85.0" x2="390.7" y2="87.6" stroke="#50e050" stroke-width="1.3"/>
<circle cx="389.8" cy="84.7" r="0.7" fill="#d08030"/>
<line x1="389.6" y1="91.6" x2="390.5" y2="94.1" stroke="#f0e020" stroke-width="1.1"/>
<line x1="388.8" y1="89.1" x2="389.6" y2="91.7" stroke="#50e050" stroke-width="1.3"/>
<circle cx="388.7" cy="88.8" r="0.7" fill="#d08030"/>
<line x1="388.5" y1="95.7" x2="389.4" y2="98.2" stroke="#f0e020" stroke-width="1.1"/>
<line x1="387.7" y1="93.2" x2="388.5" y2="95.8" stroke="#50e050" stroke-width="1.3"/>
<circle cx="387.6" cy="92.9" r="0.7" fill="#d08030"/>
<line x1="387.2" y1="99.8" x2="388.1" y2="102.3" stroke="#f0e020" stroke-width="1.1"/>
<line x1="386.4" y1="97.3" x2="387.2" y2="99.9" stroke="#50e050" stroke-width="1.3"/>
<circle cx="386.3" cy="97.0" r="0.7" fill="#d08030"/>
<line x1="385.8" y1="103.9" x2="386.7" y2="106.4" stroke="#f0e020" stroke-width="1.1"/>
<line x1="385.0" y1="101.4" x2="385.8" y2="104.0" stroke="#50e050" stroke-width="1.3"/>
<circle cx="384.9" cy="101.1" r="0.7" fill="#d08030"/>
<line x1="384.3" y1="108.0" x2="385.2" y2="110.5" stroke="#f0e020" stroke-width="1.1"/>
<line x1="383.5" y1="105.5" x2="384.3" y2="108.1" stroke="#50e050" stroke-width="1.3"/>
<circle cx="383.4" cy="105.2" r="0.7" fill="#d08030"/>
<circle cx="384.1" cy="106.7" r="1.3" fill="#e858f0"/>
<line x1="382.7" y1="112.2" x2="383.6" y2="114.7" stroke="#f0e020" stroke-width="1.1"/>
<line x1="381.9" y1="109.7" x2="382.7" y2="112.3" stroke="#50e050" stroke-width="1.3"/>
<circle cx="381.8" cy="109.4" r="0.7" fill="#d08030"/>
<line x1="381.0" y1="116.3" x2="381.9" y2="118.8" stroke="#f0e020" stroke-width="1.1"/>
<line x1="380.2" y1="113.8" x2="381.0" y2="116.4" stroke="#50e050" stroke-width="1.3"/>
<circle cx="380.1" cy="113.5" r="0.7" fill="#d08030"/>
<circle cx="380.8" cy="115.0" r="1.3" fill="#e858f0"/>
<line x1="379.2" y1="120.5" x2="380.1" y2="123.0" stroke="#f0e020" stroke-width="1.1"/>
<line x1="378.4" y1="118.0" x2="379.2" y2="120.6" stroke="#50e050" stroke-width="1.3"/>
<circle cx="378.3" cy="117.7" r="0.7" fill="#d08030"/>
<line x1="397.2" y1="71.3" x2="398.1" y2="73.8" stroke="#f0e020" stroke-width="1.1"/>
<line x1="396.4" y1="68.8" x2="397.2" y2="71.4" stroke="#50e050" stroke-width="1.3"/>
<circle cx="396.3" cy="68.5" r="0.7" fill="#d08030"/>
<line x1="396.8" y1="75.4" x2="397.7" y2="77.9" stroke="#f0e020" stroke-width="1.1"/>
<line x1="396.0" y1="72.9" x2="396.8" y2="75.5" stroke="#50e050" stroke-width="1.3"/>
<circle cx="395.9" cy="72.6" r="0.7" fill="#d08030"/>
<line x1="396.2" y1="79.4" x2="397.1" y2="81.9" stroke="#f0e020" stroke-width="1.1"/>
<line x1="395.4" y1="76.9" x2="396.2" y2="79.5" stroke="#50e050" stroke-width="1.3"/>
<circle cx="395.3" cy="76.6" r="0.7" fill="#d08030"/>
<line x1="395.5" y1="83.5" x2="396.4" y2="86.0" stroke="#f0e020" stroke-width="1.1"/>
<line x1="394.7" y1="81.0" x2="395.5" y2="83.6" stroke="#50e050" stroke-width="1.3"/>
<circle cx="394.6" cy="80.7" r="0.7" fill="#d08030"/>
<line x1="394.7" y1="87.6" x2="395.6" y2="90.1" stroke="#f0e020" stroke-width="1.1"/>
<line x1="393.9" y1="85.1" x2="394.7" y2="87.7" stroke="#50e050" stroke-width="1.3"/>
<circle cx="393.8" cy="84.8" r="0.7" fill="#d08030"/>
<line x1="393.8" y1="91.7" x2="394.7" y2="94.2" stroke="#f0e020" stroke-width="1.1"/>
<line x1="393.0" y1="89.2" x2="393.8" y2="91.8" stroke="#50e050" stroke-width="1.3"/>
<circle cx="392.9" cy="88.9" r="0.7" fill="#d08030"/>
<line x1="392.8" y1="95.8" x2="393.7" y2="98.3" stroke="#f0e020" stroke-width="1.1"/>
<line x1="392.0" y1="93.3" x2="392.8" y2="95.9" stroke="#50e050" stroke-width="1.3"/>
<circle cx="391.9" cy="93.0" r="0.7" fill="#d08030"/>
<line x1="391.7" y1="99.9" x2="392.6" y2="102.4" stroke="#f0e020" stroke-width="1.1"/>
<line x1="390.9" y1="97.4" x2="391.7" y2="100.0" stroke="#50e050" stroke-width="1.3"/>
<circle cx="390.8" cy="97.1" r="0.7" fill="#d08030"/>
<line x1="390.4" y1="104.0" x2="391.3" y2="106.5" stroke="#f0e020" stroke-width="1.1"/>
<line x1="389.6" y1="101.5" x2="390.4" y2="104.1" stroke="#50e050" stroke-width="1.3"/>
<circle cx="389.5" cy="101.2" r="0.7" fill="#d08030"/>
<circle cx="390.2" cy="102.7" r="1.3" fill="#e858f0"/>
<line x1="389.1" y1="108.2" x2="390.0" y2="110.7" stroke="#f0e020" stroke-width="1.1"/>
<line x1="388.3" y1="105.7" x2="389.1" y2="108.3" stroke="#50e050" stroke-width="1.3"/>
<circle cx="388.2" cy="105.4" r="0.7" fill="#d08030"/>
<line x1="387.6" y1="112.3" x2="388.5" y2="114.8" stroke="#f0e020" stroke-width="1.1"/>
<line x1="386.8" y1="109.8" x2="387.6" y2="112.4" stroke="#50e050" stroke-width="1.3"/>
<circle cx="386.7" cy="109.5" r="0.7" fill="#d08030"/>
<circle cx="387.4" cy="111.0" r="1.3" fill="#e858f0"/>
<line x1="386.0" y1="116.5" x2="386.9" y2="119.0" stroke="#f0e020" stroke-width="1.1"/>
<line x1="385.2" y1="114.0" x2="386.0" y2="116.6" stroke="#50e050" stroke-width="1.3"/>
<circle cx="385.1" cy="113.7" r="0.7" fill="#d08030"/>
<line x1="384.3" y1="120.7" x2="385.2" y2="123.2" stroke="#f0e020" stroke-width="1.1"/>
<line x1="383.5" y1="118.2" x2="384.3" y2="120.8" stroke="#50e050" stroke-width="1.3"/>
<circle cx="383.4" cy="117.9" r="0.7" fill="#d08030"/>
<circle cx="384.1" cy="119.4" r="1.3" fill="#e858f0"/>
<line x1="400.6" y1="71.4" x2="401.5" y2="73.9" stroke="#f0e020" stroke-width="1.1"/>
<line x1="399.8" y1="68.9" x2="400.6" y2="71.5" stroke="#50e050" stroke-width="1.3"/>
<circle cx="399.7" cy="68.6" r="0.7" fill="#d08030"/>
<line x1="400.3" y1="75.5" x2="401.2" y2="78.0" stroke="#f0e020" stroke-width="1.1"/>
<line x1="399.5" y1="73.0" x2="400.3" y2="75.6" stroke="#50e050" stroke-width="1.3"/>
<circle cx="399.4" cy="72.7" r="0.7" fill="#d08030"/>
<line x1="399.9" y1="79.5" x2="400.8" y2="82.0" stroke="#f0e020" stroke-width="1.1"/>
<line x1="399.1" y1="77.0" x2="399.9" y2="79.6" stroke="#50e050" stroke-width="1.3"/>
<circle cx="399.0" cy="76.7" r="0.7" fill="#d08030"/>
<line x1="399.4" y1="83.6" x2="400.3" y2="86.1" stroke="#f0e020" stroke-width="1.1"/>
<line x1="398.6" y1="81.1" x2="399.4" y2="83.7" stroke="#50e050" stroke-width="1.3"/>
<circle cx="398.5" cy="80.8" r="0.7" fill="#d08030"/>
<line x1="398.8" y1="87.6" x2="399.7" y2="90.1" stroke="#f0e020" stroke-width="1.1"/>
<line x1="398.0" y1="85.1" x2="398.8" y2="87.7" stroke="#50e050" stroke-width="1.3"/>
<circle cx="397.9" cy="84.8" r="0.7" fill="#d08030"/>
<line x1="398.1" y1="91.7" x2="399.0" y2="94.2" stroke="#f0e020" stroke-width="1.1"/>
<line x1="397.3" y1="89.2" x2="398.1" y2="91.8" stroke="#50e050" stroke-width="1.3"/>
<circle cx="397.2" cy="88.9" r="0.7" fill="#d08030"/>
<circle cx="397.9" cy="90.4" r="1.3" fill="#e858f0"/>
<line x1="397.2" y1="95.8" x2="398.1" y2="98.3" stroke="#f0e020" stroke-width="1.1"/>
<line x1="396.4" y1="93.3" x2="397.2" y2="95.9" stroke="#50e050" stroke-width="1.3"/>
<circle cx="396.3" cy="93.0" r="0.7" fill="#d08030"/>
<line x1="396.2" y1="99.9" x2="397.1" y2="102.4" stroke="#f0e020" stroke-width="1.1"/>
<line x1="395.4" y1="97.4" x2="396.2" y2="100.0" stroke="#50e050" stroke-width="1.3"/>
<circle cx="395.3" cy="97.1" r="0.7" fill="#d08030"/>
<line x1="395.1" y1="104.1" x2="396.0" y2="106.6" stroke="#f0e020" stroke-width="1.1"/>
<line x1="394.3" y1="101.6" x2="395.1" y2="104.2" stroke="#50e050" stroke-width="1.3"/>
<circle cx="394.2" cy="101.3" r="0.7" fill="#d08030"/>
<line x1="393.9" y1="108.2" x2="394.8" y2="110.7" stroke="#f0e020" stroke-width="1.1"/>
<line x1="393.1" y1="105.7" x2="393.9" y2="108.3" stroke="#50e050" stroke-width="1.3"/>
<circle cx="393.0" cy="105.4" r="0.7" fill="#d08030"/>
<line x1="392.6" y1="112.4" x2="393.5" y2="114.9" stroke="#f0e020" stroke-width="1.1"/>
<line x1="391.8" y1="109.9" x2="392.6" y2="112.5" stroke="#50e050" stroke-width="1.3"/>
<circle cx="391.7" cy="109.6" r="0.7" fill="#d08030"/>
<line x1="391.2" y1="116.5" x2="392.1" y2="119.0" stroke="#f0e020" stroke-width="1.1"/>
<line x1="390.4" y1="114.0" x2="391.2" y2="116.6" stroke="#50e050" stroke-width="1.3"/>
<circle cx="390.3" cy="113.7" r="0.7" fill="#d08030"/>
<line x1="389.6" y1="120.7" x2="390.5" y2="123.2" stroke="#f0e020" stroke-width="1.1"/>
<line x1="388.8" y1="118.2" x2="389.6" y2="120.8" stroke="#50e050" stroke-width="1.3"/>
<circle cx="388.7" cy="117.9" r="0.7" fill="#d08030"/>
<circle cx="389.4" cy="119.4" r="1.3" fill="#e858f0"/>
<g clip-path="url(#cp4)"><line x1="374.5" y1="70" x2="357.5" y2="121" stroke="#ff3020" stroke-width="5" opacity="0.45" filter="url(#blur1b)"/></g>
<line x1="437" y1="83.4" x2="411.0" y2="83.4" stroke="#d040d0" stroke-width="1.6"/>
<path d="M405.5,83.4 L411.0,80.8 L411.0,86.0 Z" fill="#d040d0"/>
<circle cx="421.3" cy="78" r="3.3" fill="url(#ballo)"/>
<text x="415.5" y="93.2" font-size="6" font-family="Liberation Serif" text-anchor="middle" font-weight="normal" fill="#222" >Analyte:</text>
<text x="415.8" y="99.8" font-size="6" font-family="Liberation Serif" text-anchor="middle" font-weight="normal" fill="#222" >D-Biotin</text>
<path d="M442,75.7 Q465,74 487,73.5 Q487,97 478,120.5 Q440,122 422.5,104 Q433,89 442,75.7 Z" fill="#a8b6c8" transform="translate(1.2,1.4)"/>
<path d="M442,75.7 Q465,74 487,73.5 Q487,97 478,120.5 Q440,122 422.5,104 Q433,89 442,75.7 Z" fill="url(#slate)"/>
<clipPath id="cp5"><path d="M442,75.7 Q465,74 487,73.5 Q487,97 478,120.5 Q440,122 422.5,104 Q433,89 442,75.7 Z"/></clipPath>
<g clip-path="url(#cp5)">
<line x1="465" y1="73" x2="443" y2="122" stroke="#ff3030" stroke-width="9" opacity="0.7" filter="url(#blur2)"/>
<line x1="465" y1="73" x2="443" y2="122" stroke="#ff3838" stroke-width="4.5" opacity="0.9" filter="url(#blur05c)"/>
</g>
<path d="M442,75.7 Q465,74 487,73.5 Q487,97 478,120.5 Q440,122 422.5,104 Q433,89 442,75.7 Z" fill="none" stroke="#c0cad8" stroke-width="0.5" opacity="0.7"/>
<line x1="442.9" y1="77.3" x2="443.8" y2="79.8" stroke="#f0e020" stroke-width="1.1"/>
<line x1="442.1" y1="74.8" x2="442.9" y2="77.4" stroke="#50e050" stroke-width="1.3"/>
<line x1="441.4" y1="79.6" x2="442.3" y2="82.1" stroke="#f0e020" stroke-width="1.1"/>
<line x1="440.6" y1="77.1" x2="441.4" y2="79.7" stroke="#50e050" stroke-width="1.3"/>
<line x1="439.8" y1="82.0" x2="440.7" y2="84.5" stroke="#f0e020" stroke-width="1.1"/>
<line x1="439.0" y1="79.5" x2="439.8" y2="82.1" stroke="#50e050" stroke-width="1.3"/>
<line x1="438.2" y1="84.4" x2="439.1" y2="86.9" stroke="#f0e020" stroke-width="1.1"/>
<line x1="437.4" y1="81.9" x2="438.2" y2="84.5" stroke="#50e050" stroke-width="1.3"/>
<line x1="436.6" y1="86.8" x2="437.5" y2="89.3" stroke="#f0e020" stroke-width="1.1"/>
<line x1="435.8" y1="84.3" x2="436.6" y2="86.9" stroke="#50e050" stroke-width="1.3"/>
<line x1="435.0" y1="89.3" x2="435.9" y2="91.8" stroke="#f0e020" stroke-width="1.1"/>
<line x1="434.2" y1="86.8" x2="435.0" y2="89.4" stroke="#50e050" stroke-width="1.3"/>
<line x1="433.3" y1="91.8" x2="434.2" y2="94.3" stroke="#f0e020" stroke-width="1.1"/>
<line x1="432.5" y1="89.3" x2="433.3" y2="91.9" stroke="#50e050" stroke-width="1.3"/>
<circle cx="433.1" cy="90.5" r="1.3" fill="#e858f0"/>
<line x1="431.6" y1="94.2" x2="432.5" y2="96.7" stroke="#f0e020" stroke-width="1.1"/>
<line x1="430.8" y1="91.7" x2="431.6" y2="94.3" stroke="#50e050" stroke-width="1.3"/>
<line x1="429.9" y1="96.8" x2="430.8" y2="99.3" stroke="#f0e020" stroke-width="1.1"/>
<line x1="429.1" y1="94.3" x2="429.9" y2="96.9" stroke="#50e050" stroke-width="1.3"/>
<line x1="428.2" y1="99.3" x2="429.1" y2="101.8" stroke="#f0e020" stroke-width="1.1"/>
<line x1="427.4" y1="96.8" x2="428.2" y2="99.4" stroke="#50e050" stroke-width="1.3"/>
<line x1="426.5" y1="101.9" x2="427.4" y2="104.4" stroke="#f0e020" stroke-width="1.1"/>
<line x1="425.7" y1="99.4" x2="426.5" y2="102.0" stroke="#50e050" stroke-width="1.3"/>
<line x1="424.7" y1="104.5" x2="425.6" y2="107.0" stroke="#f0e020" stroke-width="1.1"/>
<line x1="423.9" y1="102.0" x2="424.7" y2="104.6" stroke="#50e050" stroke-width="1.3"/>
<circle cx="424.5" cy="103.2" r="1.3" fill="#e858f0"/>
<line x1="446.2" y1="77.1" x2="447.1" y2="79.6" stroke="#f0e020" stroke-width="1.1"/>
<line x1="445.4" y1="74.6" x2="446.2" y2="77.2" stroke="#50e050" stroke-width="1.3"/>
<line x1="444.6" y1="79.7" x2="445.5" y2="82.2" stroke="#f0e020" stroke-width="1.1"/>
<line x1="443.8" y1="77.2" x2="444.6" y2="79.8" stroke="#50e050" stroke-width="1.3"/>
<circle cx="444.4" cy="78.4" r="1.3" fill="#e858f0"/>
<line x1="443.0" y1="82.3" x2="443.9" y2="84.8" stroke="#f0e020" stroke-width="1.1"/>
<line x1="442.2" y1="79.8" x2="443.0" y2="82.4" stroke="#50e050" stroke-width="1.3"/>
<line x1="441.4" y1="85.0" x2="442.3" y2="87.5" stroke="#f0e020" stroke-width="1.1"/>
<line x1="440.6" y1="82.5" x2="441.4" y2="85.1" stroke="#50e050" stroke-width="1.3"/>
<line x1="439.8" y1="87.6" x2="440.7" y2="90.1" stroke="#f0e020" stroke-width="1.1"/>
<line x1="439.0" y1="85.1" x2="439.8" y2="87.7" stroke="#50e050" stroke-width="1.3"/>
<circle cx="439.6" cy="86.3" r="1.3" fill="#e858f0"/>
<line x1="438.1" y1="90.3" x2="439.0" y2="92.8" stroke="#f0e020" stroke-width="1.1"/>
<line x1="437.3" y1="87.8" x2="438.1" y2="90.4" stroke="#50e050" stroke-width="1.3"/>
<circle cx="437.9" cy="89.0" r="1.3" fill="#e858f0"/>
<line x1="436.4" y1="93.0" x2="437.3" y2="95.5" stroke="#f0e020" stroke-width="1.1"/>
<line x1="435.6" y1="90.5" x2="436.4" y2="93.1" stroke="#50e050" stroke-width="1.3"/>
<circle cx="436.2" cy="91.7" r="1.3" fill="#e858f0"/>
<line x1="434.7" y1="95.7" x2="435.6" y2="98.2" stroke="#f0e020" stroke-width="1.1"/>
<line x1="433.9" y1="93.2" x2="434.7" y2="95.8" stroke="#50e050" stroke-width="1.3"/>
<line x1="432.9" y1="98.4" x2="433.8" y2="100.9" stroke="#f0e020" stroke-width="1.1"/>
<line x1="432.1" y1="95.9" x2="432.9" y2="98.5" stroke="#50e050" stroke-width="1.3"/>
<line x1="431.1" y1="101.2" x2="432.0" y2="103.7" stroke="#f0e020" stroke-width="1.1"/>
<line x1="430.3" y1="98.7" x2="431.1" y2="101.3" stroke="#50e050" stroke-width="1.3"/>
<circle cx="430.9" cy="99.9" r="1.3" fill="#e858f0"/>
<line x1="429.3" y1="103.9" x2="430.2" y2="106.4" stroke="#f0e020" stroke-width="1.1"/>
<line x1="428.5" y1="101.4" x2="429.3" y2="104.0" stroke="#50e050" stroke-width="1.3"/>
<line x1="427.4" y1="106.7" x2="428.3" y2="109.2" stroke="#f0e020" stroke-width="1.1"/>
<line x1="426.6" y1="104.2" x2="427.4" y2="106.8" stroke="#50e050" stroke-width="1.3"/>
<circle cx="427.2" cy="105.4" r="1.3" fill="#e858f0"/>
<line x1="449.4" y1="77.0" x2="450.3" y2="79.5" stroke="#f0e020" stroke-width="1.1"/>
<line x1="448.6" y1="74.5" x2="449.4" y2="77.1" stroke="#50e050" stroke-width="1.3"/>
<line x1="447.9" y1="79.8" x2="448.8" y2="82.3" stroke="#f0e020" stroke-width="1.1"/>
<line x1="447.1" y1="77.3" x2="447.9" y2="79.9" stroke="#50e050" stroke-width="1.3"/>
<line x1="446.3" y1="82.6" x2="447.2" y2="85.1" stroke="#f0e020" stroke-width="1.1"/>
<line x1="445.5" y1="80.1" x2="446.3" y2="82.7" stroke="#50e050" stroke-width="1.3"/>
<circle cx="446.1" cy="81.3" r="1.3" fill="#e858f0"/>
<line x1="444.7" y1="85.5" x2="445.6" y2="88.0" stroke="#f0e020" stroke-width="1.1"/>
<line x1="443.9" y1="83.0" x2="444.7" y2="85.6" stroke="#50e050" stroke-width="1.3"/>
<line x1="443.1" y1="88.3" x2="444.0" y2="90.8" stroke="#f0e020" stroke-width="1.1"/>
<line x1="442.3" y1="85.8" x2="443.1" y2="88.4" stroke="#50e050" stroke-width="1.3"/>
<line x1="441.4" y1="91.2" x2="442.3" y2="93.7" stroke="#f0e020" stroke-width="1.1"/>
<line x1="440.6" y1="88.7" x2="441.4" y2="91.3" stroke="#50e050" stroke-width="1.3"/>
<line x1="439.6" y1="94.1" x2="440.5" y2="96.6" stroke="#f0e020" stroke-width="1.1"/>
<line x1="438.8" y1="91.6" x2="439.6" y2="94.2" stroke="#50e050" stroke-width="1.3"/>
<line x1="437.9" y1="97.0" x2="438.8" y2="99.5" stroke="#f0e020" stroke-width="1.1"/>
<line x1="437.1" y1="94.5" x2="437.9" y2="97.1" stroke="#50e050" stroke-width="1.3"/>
<line x1="436.1" y1="99.9" x2="437.0" y2="102.4" stroke="#f0e020" stroke-width="1.1"/>
<line x1="435.3" y1="97.4" x2="436.1" y2="100.0" stroke="#50e050" stroke-width="1.3"/>
<line x1="434.2" y1="102.9" x2="435.1" y2="105.4" stroke="#f0e020" stroke-width="1.1"/>
<line x1="433.4" y1="100.4" x2="434.2" y2="103.0" stroke="#50e050" stroke-width="1.3"/>
<line x1="432.3" y1="105.8" x2="433.2" y2="108.3" stroke="#f0e020" stroke-width="1.1"/>
<line x1="431.5" y1="103.3" x2="432.3" y2="105.9" stroke="#50e050" stroke-width="1.3"/>
<line x1="430.4" y1="108.8" x2="431.3" y2="111.3" stroke="#f0e020" stroke-width="1.1"/>
<line x1="429.6" y1="106.3" x2="430.4" y2="108.9" stroke="#50e050" stroke-width="1.3"/>
<line x1="452.7" y1="76.9" x2="453.6" y2="79.4" stroke="#f0e020" stroke-width="1.1"/>
<line x1="451.9" y1="74.4" x2="452.7" y2="77.0" stroke="#50e050" stroke-width="1.3"/>
<line x1="451.2" y1="79.9" x2="452.1" y2="82.4" stroke="#f0e020" stroke-width="1.1"/>
<line x1="450.4" y1="77.4" x2="451.2" y2="80.0" stroke="#50e050" stroke-width="1.3"/>
<line x1="449.6" y1="82.9" x2="450.5" y2="85.4" stroke="#f0e020" stroke-width="1.1"/>
<line x1="448.8" y1="80.4" x2="449.6" y2="83.0" stroke="#50e050" stroke-width="1.3"/>
<line x1="448.0" y1="85.9" x2="448.9" y2="88.4" stroke="#f0e020" stroke-width="1.1"/>
<line x1="447.2" y1="83.4" x2="448.0" y2="86.0" stroke="#50e050" stroke-width="1.3"/>
<line x1="446.4" y1="88.9" x2="447.3" y2="91.4" stroke="#f0e020" stroke-width="1.1"/>
<line x1="445.6" y1="86.4" x2="446.4" y2="89.0" stroke="#50e050" stroke-width="1.3"/>
<line x1="444.7" y1="92.0" x2="445.6" y2="94.5" stroke="#f0e020" stroke-width="1.1"/>
<line x1="443.9" y1="89.5" x2="444.7" y2="92.1" stroke="#50e050" stroke-width="1.3"/>
<line x1="443.0" y1="95.1" x2="443.9" y2="97.6" stroke="#f0e020" stroke-width="1.1"/>
<line x1="442.2" y1="92.6" x2="443.0" y2="95.2" stroke="#50e050" stroke-width="1.3"/>
<line x1="441.2" y1="98.2" x2="442.1" y2="100.7" stroke="#f0e020" stroke-width="1.1"/>
<line x1="440.4" y1="95.7" x2="441.2" y2="98.3" stroke="#50e050" stroke-width="1.3"/>
<line x1="439.3" y1="101.3" x2="440.2" y2="103.8" stroke="#f0e020" stroke-width="1.1"/>
<line x1="438.5" y1="98.8" x2="439.3" y2="101.4" stroke="#50e050" stroke-width="1.3"/>
<line x1="437.4" y1="104.4" x2="438.3" y2="106.9" stroke="#f0e020" stroke-width="1.1"/>
<line x1="436.6" y1="101.9" x2="437.4" y2="104.5" stroke="#50e050" stroke-width="1.3"/>
<line x1="435.5" y1="107.5" x2="436.4" y2="110.0" stroke="#f0e020" stroke-width="1.1"/>
<line x1="434.7" y1="105.0" x2="435.5" y2="107.6" stroke="#50e050" stroke-width="1.3"/>
<line x1="433.5" y1="110.7" x2="434.4" y2="113.2" stroke="#f0e020" stroke-width="1.1"/>
<line x1="432.7" y1="108.2" x2="433.5" y2="110.8" stroke="#50e050" stroke-width="1.3"/>
<line x1="456.0" y1="76.8" x2="456.9" y2="79.3" stroke="#f0e020" stroke-width="1.1"/>
<line x1="455.2" y1="74.3" x2="456.0" y2="76.9" stroke="#50e050" stroke-width="1.3"/>
<circle cx="455.8" cy="75.5" r="1.3" fill="#e858f0"/>
<line x1="454.5" y1="80.0" x2="455.4" y2="82.5" stroke="#f0e020" stroke-width="1.1"/>
<line x1="453.7" y1="77.5" x2="454.5" y2="80.1" stroke="#50e050" stroke-width="1.3"/>
<line x1="453.0" y1="83.1" x2="453.9" y2="85.6" stroke="#f0e020" stroke-width="1.1"/>
<line x1="452.2" y1="80.6" x2="453.0" y2="83.2" stroke="#50e050" stroke-width="1.3"/>
<line x1="451.4" y1="86.3" x2="452.3" y2="88.8" stroke="#f0e020" stroke-width="1.1"/>
<line x1="450.6" y1="83.8" x2="451.4" y2="86.4" stroke="#50e050" stroke-width="1.3"/>
<line x1="449.8" y1="89.5" x2="450.7" y2="92.0" stroke="#f0e020" stroke-width="1.1"/>
<line x1="449.0" y1="87.0" x2="449.8" y2="89.6" stroke="#50e050" stroke-width="1.3"/>
<line x1="448.1" y1="92.7" x2="449.0" y2="95.2" stroke="#f0e020" stroke-width="1.1"/>
<line x1="447.3" y1="90.2" x2="448.1" y2="92.8" stroke="#50e050" stroke-width="1.3"/>
<line x1="446.4" y1="96.0" x2="447.3" y2="98.5" stroke="#f0e020" stroke-width="1.1"/>
<line x1="445.6" y1="93.5" x2="446.4" y2="96.1" stroke="#50e050" stroke-width="1.3"/>
<line x1="444.6" y1="99.2" x2="445.5" y2="101.7" stroke="#f0e020" stroke-width="1.1"/>
<line x1="443.8" y1="96.7" x2="444.6" y2="99.3" stroke="#50e050" stroke-width="1.3"/>
<line x1="442.7" y1="102.5" x2="443.6" y2="105.0" stroke="#f0e020" stroke-width="1.1"/>
<line x1="441.9" y1="100.0" x2="442.7" y2="102.6" stroke="#50e050" stroke-width="1.3"/>
<line x1="440.8" y1="105.8" x2="441.7" y2="108.3" stroke="#f0e020" stroke-width="1.1"/>
<line x1="440.0" y1="103.3" x2="440.8" y2="105.9" stroke="#50e050" stroke-width="1.3"/>
<line x1="438.9" y1="109.1" x2="439.8" y2="111.6" stroke="#f0e020" stroke-width="1.1"/>
<line x1="438.1" y1="106.6" x2="438.9" y2="109.2" stroke="#50e050" stroke-width="1.3"/>
<line x1="436.9" y1="112.4" x2="437.8" y2="114.9" stroke="#f0e020" stroke-width="1.1"/>
<line x1="436.1" y1="109.9" x2="436.9" y2="112.5" stroke="#50e050" stroke-width="1.3"/>
<circle cx="436.7" cy="111.1" r="1.3" fill="#e858f0"/>
<line x1="459.2" y1="76.7" x2="460.1" y2="79.2" stroke="#f0e020" stroke-width="1.1"/>
<line x1="458.4" y1="74.2" x2="459.2" y2="76.8" stroke="#50e050" stroke-width="1.3"/>
<line x1="457.8" y1="80.0" x2="458.7" y2="82.5" stroke="#f0e020" stroke-width="1.1"/>
<line x1="457.0" y1="77.5" x2="457.8" y2="80.1" stroke="#50e050" stroke-width="1.3"/>
<line x1="456.4" y1="83.3" x2="457.3" y2="85.8" stroke="#f0e020" stroke-width="1.1"/>
<line x1="455.6" y1="80.8" x2="456.4" y2="83.4" stroke="#50e050" stroke-width="1.3"/>
<circle cx="456.2" cy="82.0" r="1.3" fill="#e858f0"/>
<line x1="454.9" y1="86.7" x2="455.8" y2="89.2" stroke="#f0e020" stroke-width="1.1"/>
<line x1="454.1" y1="84.2" x2="454.9" y2="86.8" stroke="#50e050" stroke-width="1.3"/>
<line x1="453.3" y1="90.0" x2="454.2" y2="92.5" stroke="#f0e020" stroke-width="1.1"/>
<line x1="452.5" y1="87.5" x2="453.3" y2="90.1" stroke="#50e050" stroke-width="1.3"/>
<line x1="451.6" y1="93.4" x2="452.5" y2="95.9" stroke="#f0e020" stroke-width="1.1"/>
<line x1="450.8" y1="90.9" x2="451.6" y2="93.5" stroke="#50e050" stroke-width="1.3"/>
<line x1="449.9" y1="96.8" x2="450.8" y2="99.3" stroke="#f0e020" stroke-width="1.1"/>
<line x1="449.1" y1="94.3" x2="449.9" y2="96.9" stroke="#50e050" stroke-width="1.3"/>
<circle cx="449.7" cy="95.5" r="1.3" fill="#e858f0"/>
<line x1="448.1" y1="100.2" x2="449.0" y2="102.7" stroke="#f0e020" stroke-width="1.1"/>
<line x1="447.3" y1="97.7" x2="448.1" y2="100.3" stroke="#50e050" stroke-width="1.3"/>
<circle cx="447.9" cy="98.9" r="1.3" fill="#e858f0"/>
<line x1="446.3" y1="103.6" x2="447.2" y2="106.1" stroke="#f0e020" stroke-width="1.1"/>
<line x1="445.5" y1="101.1" x2="446.3" y2="103.7" stroke="#50e050" stroke-width="1.3"/>
<line x1="444.4" y1="107.0" x2="445.3" y2="109.5" stroke="#f0e020" stroke-width="1.1"/>
<line x1="443.6" y1="104.5" x2="444.4" y2="107.1" stroke="#50e050" stroke-width="1.3"/>
<line x1="442.5" y1="110.4" x2="443.4" y2="112.9" stroke="#f0e020" stroke-width="1.1"/>
<line x1="441.7" y1="107.9" x2="442.5" y2="110.5" stroke="#50e050" stroke-width="1.3"/>
<circle cx="442.3" cy="109.1" r="1.3" fill="#e858f0"/>
<line x1="440.4" y1="113.9" x2="441.3" y2="116.4" stroke="#f0e020" stroke-width="1.1"/>
<line x1="439.6" y1="111.4" x2="440.4" y2="114.0" stroke="#50e050" stroke-width="1.3"/>
<line x1="462.5" y1="76.6" x2="463.4" y2="79.1" stroke="#f0e020" stroke-width="1.1"/>
<line x1="461.7" y1="74.1" x2="462.5" y2="76.7" stroke="#50e050" stroke-width="1.3"/>
<line x1="461.2" y1="80.0" x2="462.1" y2="82.5" stroke="#f0e020" stroke-width="1.1"/>
<line x1="460.4" y1="77.5" x2="461.2" y2="80.1" stroke="#50e050" stroke-width="1.3"/>
<line x1="459.8" y1="83.5" x2="460.7" y2="86.0" stroke="#f0e020" stroke-width="1.1"/>
<line x1="459.0" y1="81.0" x2="459.8" y2="83.6" stroke="#50e050" stroke-width="1.3"/>
<line x1="458.3" y1="87.0" x2="459.2" y2="89.5" stroke="#f0e020" stroke-width="1.1"/>
<line x1="457.5" y1="84.5" x2="458.3" y2="87.1" stroke="#50e050" stroke-width="1.3"/>
<line x1="456.8" y1="90.5" x2="457.7" y2="93.0" stroke="#f0e020" stroke-width="1.1"/>
<line x1="456.0" y1="88.0" x2="456.8" y2="90.6" stroke="#50e050" stroke-width="1.3"/>
<line x1="455.2" y1="94.0" x2="456.1" y2="96.5" stroke="#f0e020" stroke-width="1.1"/>
<line x1="454.4" y1="91.5" x2="455.2" y2="94.1" stroke="#50e050" stroke-width="1.3"/>
<line x1="453.6" y1="97.5" x2="454.5" y2="100.0" stroke="#f0e020" stroke-width="1.1"/>
<line x1="452.8" y1="95.0" x2="453.6" y2="97.6" stroke="#50e050" stroke-width="1.3"/>
<line x1="451.8" y1="101.0" x2="452.7" y2="103.5" stroke="#f0e020" stroke-width="1.1"/>
<line x1="451.0" y1="98.5" x2="451.8" y2="101.1" stroke="#50e050" stroke-width="1.3"/>
<line x1="450.0" y1="104.5" x2="450.9" y2="107.0" stroke="#f0e020" stroke-width="1.1"/>
<line x1="449.2" y1="102.0" x2="450.0" y2="104.6" stroke="#50e050" stroke-width="1.3"/>
<line x1="448.2" y1="108.1" x2="449.1" y2="110.6" stroke="#f0e020" stroke-width="1.1"/>
<line x1="447.4" y1="105.6" x2="448.2" y2="108.2" stroke="#50e050" stroke-width="1.3"/>
<line x1="446.2" y1="111.6" x2="447.1" y2="114.1" stroke="#f0e020" stroke-width="1.1"/>
<line x1="445.4" y1="109.1" x2="446.2" y2="111.7" stroke="#50e050" stroke-width="1.3"/>
<circle cx="446.0" cy="110.3" r="1.3" fill="#e858f0"/>
<line x1="444.2" y1="115.2" x2="445.1" y2="117.7" stroke="#f0e020" stroke-width="1.1"/>
<line x1="443.4" y1="112.7" x2="444.2" y2="115.3" stroke="#50e050" stroke-width="1.3"/>
<line x1="465.8" y1="76.5" x2="466.7" y2="79.0" stroke="#f0e020" stroke-width="1.1"/>
<line x1="465.0" y1="74.0" x2="465.8" y2="76.6" stroke="#50e050" stroke-width="1.3"/>
<line x1="464.6" y1="80.1" x2="465.5" y2="82.6" stroke="#f0e020" stroke-width="1.1"/>
<line x1="463.8" y1="77.6" x2="464.6" y2="80.2" stroke="#50e050" stroke-width="1.3"/>
<line x1="463.3" y1="83.6" x2="464.2" y2="86.1" stroke="#f0e020" stroke-width="1.1"/>
<line x1="462.5" y1="81.1" x2="463.3" y2="83.7" stroke="#50e050" stroke-width="1.3"/>
<line x1="461.9" y1="87.2" x2="462.8" y2="89.7" stroke="#f0e020" stroke-width="1.1"/>
<line x1="461.1" y1="84.7" x2="461.9" y2="87.3" stroke="#50e050" stroke-width="1.3"/>
<line x1="460.4" y1="90.8" x2="461.3" y2="93.3" stroke="#f0e020" stroke-width="1.1"/>
<line x1="459.6" y1="88.3" x2="460.4" y2="90.9" stroke="#50e050" stroke-width="1.3"/>
<line x1="458.9" y1="94.4" x2="459.8" y2="96.9" stroke="#f0e020" stroke-width="1.1"/>
<line x1="458.1" y1="91.9" x2="458.9" y2="94.5" stroke="#50e050" stroke-width="1.3"/>
<line x1="457.3" y1="98.1" x2="458.2" y2="100.6" stroke="#f0e020" stroke-width="1.1"/>
<line x1="456.5" y1="95.6" x2="457.3" y2="98.2" stroke="#50e050" stroke-width="1.3"/>
<line x1="455.6" y1="101.7" x2="456.5" y2="104.2" stroke="#f0e020" stroke-width="1.1"/>
<line x1="454.8" y1="99.2" x2="455.6" y2="101.8" stroke="#50e050" stroke-width="1.3"/>
<line x1="453.9" y1="105.3" x2="454.8" y2="107.8" stroke="#f0e020" stroke-width="1.1"/>
<line x1="453.1" y1="102.8" x2="453.9" y2="105.4" stroke="#50e050" stroke-width="1.3"/>
<line x1="452.0" y1="109.0" x2="452.9" y2="111.5" stroke="#f0e020" stroke-width="1.1"/>
<line x1="451.2" y1="106.5" x2="452.0" y2="109.1" stroke="#50e050" stroke-width="1.3"/>
<line x1="450.1" y1="112.7" x2="451.0" y2="115.2" stroke="#f0e020" stroke-width="1.1"/>
<line x1="449.3" y1="110.2" x2="450.1" y2="112.8" stroke="#50e050" stroke-width="1.3"/>
<circle cx="449.9" cy="111.4" r="1.3" fill="#e858f0"/>
<line x1="448.2" y1="116.3" x2="449.1" y2="118.8" stroke="#f0e020" stroke-width="1.1"/>
<line x1="447.4" y1="113.8" x2="448.2" y2="116.4" stroke="#50e050" stroke-width="1.3"/>
<circle cx="448.0" cy="115.0" r="1.3" fill="#e858f0"/>
<line x1="469.0" y1="76.4" x2="469.9" y2="78.9" stroke="#f0e020" stroke-width="1.1"/>
<line x1="468.2" y1="73.9" x2="469.0" y2="76.5" stroke="#50e050" stroke-width="1.3"/>
<line x1="467.9" y1="80.1" x2="468.8" y2="82.6" stroke="#f0e020" stroke-width="1.1"/>
<line x1="467.1" y1="77.6" x2="467.9" y2="80.2" stroke="#50e050" stroke-width="1.3"/>
<line x1="466.8" y1="83.8" x2="467.7" y2="86.3" stroke="#f0e020" stroke-width="1.1"/>
<line x1="466.0" y1="81.3" x2="466.8" y2="83.9" stroke="#50e050" stroke-width="1.3"/>
<line x1="465.5" y1="87.4" x2="466.4" y2="89.9" stroke="#f0e020" stroke-width="1.1"/>
<line x1="464.7" y1="84.9" x2="465.5" y2="87.5" stroke="#50e050" stroke-width="1.3"/>
<circle cx="465.3" cy="86.1" r="1.3" fill="#e858f0"/>
<line x1="464.1" y1="91.1" x2="465.0" y2="93.6" stroke="#f0e020" stroke-width="1.1"/>
<line x1="463.3" y1="88.6" x2="464.1" y2="91.2" stroke="#50e050" stroke-width="1.3"/>
<line x1="462.7" y1="94.8" x2="463.6" y2="97.3" stroke="#f0e020" stroke-width="1.1"/>
<line x1="461.9" y1="92.3" x2="462.7" y2="94.9" stroke="#50e050" stroke-width="1.3"/>
<line x1="461.2" y1="98.6" x2="462.1" y2="101.1" stroke="#f0e020" stroke-width="1.1"/>
<line x1="460.4" y1="96.1" x2="461.2" y2="98.7" stroke="#50e050" stroke-width="1.3"/>
<line x1="459.6" y1="102.3" x2="460.5" y2="104.8" stroke="#f0e020" stroke-width="1.1"/>
<line x1="458.8" y1="99.8" x2="459.6" y2="102.4" stroke="#50e050" stroke-width="1.3"/>
<line x1="457.9" y1="106.0" x2="458.8" y2="108.5" stroke="#f0e020" stroke-width="1.1"/>
<line x1="457.1" y1="103.5" x2="457.9" y2="106.1" stroke="#50e050" stroke-width="1.3"/>
<line x1="456.1" y1="109.8" x2="457.0" y2="112.3" stroke="#f0e020" stroke-width="1.1"/>
<line x1="455.3" y1="107.3" x2="456.1" y2="109.9" stroke="#50e050" stroke-width="1.3"/>
<line x1="454.3" y1="113.5" x2="455.2" y2="116.0" stroke="#f0e020" stroke-width="1.1"/>
<line x1="453.5" y1="111.0" x2="454.3" y2="113.6" stroke="#50e050" stroke-width="1.3"/>
<line x1="452.3" y1="117.3" x2="453.2" y2="119.8" stroke="#f0e020" stroke-width="1.1"/>
<line x1="451.5" y1="114.8" x2="452.3" y2="117.4" stroke="#50e050" stroke-width="1.3"/>
<line x1="472.3" y1="76.3" x2="473.2" y2="78.8" stroke="#f0e020" stroke-width="1.1"/>
<line x1="471.5" y1="73.8" x2="472.3" y2="76.4" stroke="#50e050" stroke-width="1.3"/>
<line x1="471.3" y1="80.1" x2="472.2" y2="82.6" stroke="#f0e020" stroke-width="1.1"/>
<line x1="470.5" y1="77.6" x2="471.3" y2="80.2" stroke="#50e050" stroke-width="1.3"/>
<line x1="470.3" y1="83.8" x2="471.2" y2="86.3" stroke="#f0e020" stroke-width="1.1"/>
<line x1="469.5" y1="81.3" x2="470.3" y2="83.9" stroke="#50e050" stroke-width="1.3"/>
<circle cx="470.1" cy="82.5" r="1.3" fill="#e858f0"/>
<line x1="469.1" y1="87.6" x2="470.0" y2="90.1" stroke="#f0e020" stroke-width="1.1"/>
<line x1="468.3" y1="85.1" x2="469.1" y2="87.7" stroke="#50e050" stroke-width="1.3"/>
<line x1="467.9" y1="91.4" x2="468.8" y2="93.9" stroke="#f0e020" stroke-width="1.1"/>
<line x1="467.1" y1="88.9" x2="467.9" y2="91.5" stroke="#50e050" stroke-width="1.3"/>
<line x1="466.6" y1="95.2" x2="467.5" y2="97.7" stroke="#f0e020" stroke-width="1.1"/>
<line x1="465.8" y1="92.7" x2="466.6" y2="95.3" stroke="#50e050" stroke-width="1.3"/>
<line x1="465.1" y1="99.0" x2="466.0" y2="101.5" stroke="#f0e020" stroke-width="1.1"/>
<line x1="464.3" y1="96.5" x2="465.1" y2="99.1" stroke="#50e050" stroke-width="1.3"/>
<line x1="463.6" y1="102.8" x2="464.5" y2="105.3" stroke="#f0e020" stroke-width="1.1"/>
<line x1="462.8" y1="100.3" x2="463.6" y2="102.9" stroke="#50e050" stroke-width="1.3"/>
<line x1="462.0" y1="106.6" x2="462.9" y2="109.1" stroke="#f0e020" stroke-width="1.1"/>
<line x1="461.2" y1="104.1" x2="462.0" y2="106.7" stroke="#50e050" stroke-width="1.3"/>
<line x1="460.3" y1="110.4" x2="461.2" y2="112.9" stroke="#f0e020" stroke-width="1.1"/>
<line x1="459.5" y1="107.9" x2="460.3" y2="110.5" stroke="#50e050" stroke-width="1.3"/>
<line x1="458.5" y1="114.2" x2="459.4" y2="116.7" stroke="#f0e020" stroke-width="1.1"/>
<line x1="457.7" y1="111.7" x2="458.5" y2="114.3" stroke="#50e050" stroke-width="1.3"/>
<circle cx="458.3" cy="112.9" r="1.3" fill="#e858f0"/>
<line x1="456.7" y1="118.0" x2="457.6" y2="120.5" stroke="#f0e020" stroke-width="1.1"/>
<line x1="455.9" y1="115.5" x2="456.7" y2="118.1" stroke="#50e050" stroke-width="1.3"/>
<line x1="475.6" y1="76.2" x2="476.5" y2="78.7" stroke="#f0e020" stroke-width="1.1"/>
<line x1="474.8" y1="73.7" x2="475.6" y2="76.3" stroke="#50e050" stroke-width="1.3"/>
<line x1="474.8" y1="80.1" x2="475.7" y2="82.6" stroke="#f0e020" stroke-width="1.1"/>
<line x1="474.0" y1="77.6" x2="474.8" y2="80.2" stroke="#50e050" stroke-width="1.3"/>
<line x1="473.9" y1="83.9" x2="474.8" y2="86.4" stroke="#f0e020" stroke-width="1.1"/>
<line x1="473.1" y1="81.4" x2="473.9" y2="84.0" stroke="#50e050" stroke-width="1.3"/>
<line x1="472.8" y1="87.7" x2="473.7" y2="90.2" stroke="#f0e020" stroke-width="1.1"/>
<line x1="472.0" y1="85.2" x2="472.8" y2="87.8" stroke="#50e050" stroke-width="1.3"/>
<line x1="471.7" y1="91.6" x2="472.6" y2="94.1" stroke="#f0e020" stroke-width="1.1"/>
<line x1="470.9" y1="89.1" x2="471.7" y2="91.7" stroke="#50e050" stroke-width="1.3"/>
<line x1="470.5" y1="95.4" x2="471.4" y2="97.9" stroke="#f0e020" stroke-width="1.1"/>
<line x1="469.7" y1="92.9" x2="470.5" y2="95.5" stroke="#50e050" stroke-width="1.3"/>
<line x1="469.2" y1="99.2" x2="470.1" y2="101.7" stroke="#f0e020" stroke-width="1.1"/>
<line x1="468.4" y1="96.7" x2="469.2" y2="99.3" stroke="#50e050" stroke-width="1.3"/>
<line x1="467.8" y1="103.1" x2="468.7" y2="105.6" stroke="#f0e020" stroke-width="1.1"/>
<line x1="467.0" y1="100.6" x2="467.8" y2="103.2" stroke="#50e050" stroke-width="1.3"/>
<line x1="466.3" y1="107.0" x2="467.2" y2="109.5" stroke="#f0e020" stroke-width="1.1"/>
<line x1="465.5" y1="104.5" x2="466.3" y2="107.1" stroke="#50e050" stroke-width="1.3"/>
<line x1="464.7" y1="110.8" x2="465.6" y2="113.3" stroke="#f0e020" stroke-width="1.1"/>
<line x1="463.9" y1="108.3" x2="464.7" y2="110.9" stroke="#50e050" stroke-width="1.3"/>
<line x1="463.0" y1="114.7" x2="463.9" y2="117.2" stroke="#f0e020" stroke-width="1.1"/>
<line x1="462.2" y1="112.2" x2="463.0" y2="114.8" stroke="#50e050" stroke-width="1.3"/>
<line x1="461.2" y1="118.6" x2="462.1" y2="121.1" stroke="#f0e020" stroke-width="1.1"/>
<line x1="460.4" y1="116.1" x2="461.2" y2="118.7" stroke="#50e050" stroke-width="1.3"/>
<circle cx="461.0" cy="117.3" r="1.3" fill="#e858f0"/>
<line x1="478.8" y1="76.2" x2="479.7" y2="78.7" stroke="#f0e020" stroke-width="1.1"/>
<line x1="478.0" y1="73.7" x2="478.8" y2="76.3" stroke="#50e050" stroke-width="1.3"/>
<line x1="478.2" y1="80.0" x2="479.1" y2="82.5" stroke="#f0e020" stroke-width="1.1"/>
<line x1="477.4" y1="77.5" x2="478.2" y2="80.1" stroke="#50e050" stroke-width="1.3"/>
<line x1="477.5" y1="83.9" x2="478.4" y2="86.4" stroke="#f0e020" stroke-width="1.1"/>
<line x1="476.7" y1="81.4" x2="477.5" y2="84.0" stroke="#50e050" stroke-width="1.3"/>
<line x1="476.6" y1="87.8" x2="477.5" y2="90.3" stroke="#f0e020" stroke-width="1.1"/>
<line x1="475.8" y1="85.3" x2="476.6" y2="87.9" stroke="#50e050" stroke-width="1.3"/>
<line x1="475.6" y1="91.7" x2="476.5" y2="94.2" stroke="#f0e020" stroke-width="1.1"/>
<line x1="474.8" y1="89.2" x2="475.6" y2="91.8" stroke="#50e050" stroke-width="1.3"/>
<line x1="474.6" y1="95.5" x2="475.5" y2="98.0" stroke="#f0e020" stroke-width="1.1"/>
<line x1="473.8" y1="93.0" x2="474.6" y2="95.6" stroke="#50e050" stroke-width="1.3"/>
<line x1="473.4" y1="99.4" x2="474.3" y2="101.9" stroke="#f0e020" stroke-width="1.1"/>
<line x1="472.6" y1="96.9" x2="473.4" y2="99.5" stroke="#50e050" stroke-width="1.3"/>
<line x1="472.1" y1="103.3" x2="473.0" y2="105.8" stroke="#f0e020" stroke-width="1.1"/>
<line x1="471.3" y1="100.8" x2="472.1" y2="103.4" stroke="#50e050" stroke-width="1.3"/>
<line x1="470.8" y1="107.2" x2="471.7" y2="109.7" stroke="#f0e020" stroke-width="1.1"/>
<line x1="470.0" y1="104.7" x2="470.8" y2="107.3" stroke="#50e050" stroke-width="1.3"/>
<line x1="469.3" y1="111.1" x2="470.2" y2="113.6" stroke="#f0e020" stroke-width="1.1"/>
<line x1="468.5" y1="108.6" x2="469.3" y2="111.2" stroke="#50e050" stroke-width="1.3"/>
<line x1="467.7" y1="115.0" x2="468.6" y2="117.5" stroke="#f0e020" stroke-width="1.1"/>
<line x1="466.9" y1="112.5" x2="467.7" y2="115.1" stroke="#50e050" stroke-width="1.3"/>
<line x1="466.0" y1="119.0" x2="466.9" y2="121.5" stroke="#f0e020" stroke-width="1.1"/>
<line x1="465.2" y1="116.5" x2="466.0" y2="119.1" stroke="#50e050" stroke-width="1.3"/>
<line x1="482.1" y1="76.1" x2="483.0" y2="78.6" stroke="#f0e020" stroke-width="1.1"/>
<line x1="481.3" y1="73.6" x2="482.1" y2="76.2" stroke="#50e050" stroke-width="1.3"/>
<line x1="481.6" y1="80.0" x2="482.5" y2="82.5" stroke="#f0e020" stroke-width="1.1"/>
<line x1="480.8" y1="77.5" x2="481.6" y2="80.1" stroke="#50e050" stroke-width="1.3"/>
<line x1="481.1" y1="83.9" x2="482.0" y2="86.4" stroke="#f0e020" stroke-width="1.1"/>
<line x1="480.3" y1="81.4" x2="481.1" y2="84.0" stroke="#50e050" stroke-width="1.3"/>
<line x1="480.4" y1="87.8" x2="481.3" y2="90.3" stroke="#f0e020" stroke-width="1.1"/>
<line x1="479.6" y1="85.3" x2="480.4" y2="87.9" stroke="#50e050" stroke-width="1.3"/>
<line x1="479.6" y1="91.7" x2="480.5" y2="94.2" stroke="#f0e020" stroke-width="1.1"/>
<line x1="478.8" y1="89.2" x2="479.6" y2="91.8" stroke="#50e050" stroke-width="1.3"/>
<line x1="478.7" y1="95.6" x2="479.6" y2="98.1" stroke="#f0e020" stroke-width="1.1"/>
<line x1="477.9" y1="93.1" x2="478.7" y2="95.7" stroke="#50e050" stroke-width="1.3"/>
<line x1="477.7" y1="99.5" x2="478.6" y2="102.0" stroke="#f0e020" stroke-width="1.1"/>
<line x1="476.9" y1="97.0" x2="477.7" y2="99.6" stroke="#50e050" stroke-width="1.3"/>
<line x1="476.6" y1="103.4" x2="477.5" y2="105.9" stroke="#f0e020" stroke-width="1.1"/>
<line x1="475.8" y1="100.9" x2="476.6" y2="103.5" stroke="#50e050" stroke-width="1.3"/>
<line x1="475.3" y1="107.4" x2="476.2" y2="109.9" stroke="#f0e020" stroke-width="1.1"/>
<line x1="474.5" y1="104.9" x2="475.3" y2="107.5" stroke="#50e050" stroke-width="1.3"/>
<line x1="474.0" y1="111.3" x2="474.9" y2="113.8" stroke="#f0e020" stroke-width="1.1"/>
<line x1="473.2" y1="108.8" x2="474.0" y2="111.4" stroke="#50e050" stroke-width="1.3"/>
<line x1="472.5" y1="115.2" x2="473.4" y2="117.7" stroke="#f0e020" stroke-width="1.1"/>
<line x1="471.7" y1="112.7" x2="472.5" y2="115.3" stroke="#50e050" stroke-width="1.3"/>
<line x1="470.9" y1="119.1" x2="471.8" y2="121.6" stroke="#f0e020" stroke-width="1.1"/>
<line x1="470.1" y1="116.6" x2="470.9" y2="119.2" stroke="#50e050" stroke-width="1.3"/>
<line x1="485.4" y1="76.0" x2="486.3" y2="78.5" stroke="#f0e020" stroke-width="1.1"/>
<line x1="484.6" y1="73.5" x2="485.4" y2="76.1" stroke="#50e050" stroke-width="1.3"/>
<circle cx="485.2" cy="74.7" r="1.3" fill="#e858f0"/>
<line x1="485.1" y1="79.9" x2="486.0" y2="82.4" stroke="#f0e020" stroke-width="1.1"/>
<line x1="484.3" y1="77.4" x2="485.1" y2="80.0" stroke="#50e050" stroke-width="1.3"/>
<line x1="484.8" y1="83.8" x2="485.7" y2="86.3" stroke="#f0e020" stroke-width="1.1"/>
<line x1="484.0" y1="81.3" x2="484.8" y2="83.9" stroke="#50e050" stroke-width="1.3"/>
<line x1="484.3" y1="87.7" x2="485.2" y2="90.2" stroke="#f0e020" stroke-width="1.1"/>
<line x1="483.5" y1="85.2" x2="484.3" y2="87.8" stroke="#50e050" stroke-width="1.3"/>
<line x1="483.7" y1="91.7" x2="484.6" y2="94.2" stroke="#f0e020" stroke-width="1.1"/>
<line x1="482.9" y1="89.2" x2="483.7" y2="91.8" stroke="#50e050" stroke-width="1.3"/>
<circle cx="483.5" cy="90.4" r="1.3" fill="#e858f0"/>
<line x1="483.0" y1="95.6" x2="483.9" y2="98.1" stroke="#f0e020" stroke-width="1.1"/>
<line x1="482.2" y1="93.1" x2="483.0" y2="95.7" stroke="#50e050" stroke-width="1.3"/>
<line x1="482.1" y1="99.5" x2="483.0" y2="102.0" stroke="#f0e020" stroke-width="1.1"/>
<line x1="481.3" y1="97.0" x2="482.1" y2="99.6" stroke="#50e050" stroke-width="1.3"/>
<circle cx="481.9" cy="98.2" r="1.3" fill="#e858f0"/>
<line x1="481.2" y1="103.4" x2="482.1" y2="105.9" stroke="#f0e020" stroke-width="1.1"/>
<line x1="480.4" y1="100.9" x2="481.2" y2="103.5" stroke="#50e050" stroke-width="1.3"/>
<line x1="480.1" y1="107.3" x2="481.0" y2="109.8" stroke="#f0e020" stroke-width="1.1"/>
<line x1="479.3" y1="104.8" x2="480.1" y2="107.4" stroke="#50e050" stroke-width="1.3"/>
<line x1="478.9" y1="111.3" x2="479.8" y2="113.8" stroke="#f0e020" stroke-width="1.1"/>
<line x1="478.1" y1="108.8" x2="478.9" y2="111.4" stroke="#50e050" stroke-width="1.3"/>
<line x1="477.5" y1="115.2" x2="478.4" y2="117.7" stroke="#f0e020" stroke-width="1.1"/>
<line x1="476.7" y1="112.7" x2="477.5" y2="115.3" stroke="#50e050" stroke-width="1.3"/>
<line x1="476.1" y1="119.1" x2="477.0" y2="121.6" stroke="#f0e020" stroke-width="1.1"/>
<line x1="475.3" y1="116.6" x2="476.1" y2="119.2" stroke="#50e050" stroke-width="1.3"/>
<g clip-path="url(#cp5)"><line x1="465" y1="73" x2="443" y2="122" stroke="#ff3020" stroke-width="5" opacity="0.45" filter="url(#blur1b)"/></g>
<polyline points="491.5,81 491.5,113.3 534.7,113.3" fill="none" stroke="#666" stroke-width="0.65"/>
<path d="M492,84.5 L503,84.8 C505.5,85 505.8,110 506.8,110 C507.8,110 508.2,85 510.5,85 L534,84.8" fill="none" stroke="#a8b8e8" stroke-width="0.75"/>
<path d="M498,84.5 L511,84.8 C513,85 513.3,110 514.3,110 C515.3,110 515.7,85 518,85 L534,85" fill="none" stroke="#e8a8b8" stroke-width="0.75"/>
<text x="0" y="0" font-size="4.4" font-family="Liberation Serif" text-anchor="middle" font-weight="normal" fill="#333" transform="translate(490.3,100.5) rotate(-90)">Intensity</text>
<text x="513" y="119.5" font-size="5" font-family="Liberation Serif" text-anchor="middle" font-weight="normal" fill="#333" >Wavelength</text>
<text x="270" y="153" font-size="14.5" font-family="Liberation Serif" text-anchor="start" font-weight="bold" fill="#111" stroke="#111" stroke-width="0.35">(d)</text>
<rect x="300.9" y="142.6" width="97.70000000000005" height="79.9" fill="#fff" stroke="#555" stroke-width="0.7"/>
<text x="299.4" y="214.79999999999998" font-size="7.6" font-family="Liberation Serif" text-anchor="end" font-weight="normal" fill="#222" >0</text>
<line x1="300.9" y1="212.2" x2="302.4" y2="212.2" stroke="#444" stroke-width="0.5"/>
<text x="299.4" y="200.79999999999998" font-size="7.6" font-family="Liberation Serif" text-anchor="end" font-weight="normal" fill="#222" >1</text>
<line x1="300.9" y1="198.2" x2="302.4" y2="198.2" stroke="#444" stroke-width="0.5"/>
<text x="299.4" y="186.79999999999998" font-size="7.6" font-family="Liberation Serif" text-anchor="end" font-weight="normal" fill="#222" >2</text>
<line x1="300.9" y1="184.2" x2="302.4" y2="184.2" stroke="#444" stroke-width="0.5"/>
<text x="299.4" y="172.79999999999998" font-size="7.6" font-family="Liberation Serif" text-anchor="end" font-weight="normal" fill="#222" >3</text>
<line x1="300.9" y1="170.2" x2="302.4" y2="170.2" stroke="#444" stroke-width="0.5"/>
<text x="299.4" y="158.79999999999998" font-size="7.6" font-family="Liberation Serif" text-anchor="end" font-weight="normal" fill="#222" >4</text>
<line x1="300.9" y1="156.2" x2="302.4" y2="156.2" stroke="#444" stroke-width="0.5"/>
<text x="299.4" y="144.79999999999998" font-size="7.6" font-family="Liberation Serif" text-anchor="end" font-weight="normal" fill="#222" >5</text>
<line x1="300.9" y1="142.2" x2="302.4" y2="142.2" stroke="#444" stroke-width="0.5"/>
<text x="300.9" y="230.8" font-size="8.3" font-family="Liberation Serif" text-anchor="middle" font-weight="normal" fill="#222" >0</text>
<text x="324.54999999999995" y="230.8" font-size="8.3" font-family="Liberation Serif" text-anchor="middle" font-weight="normal" fill="#222" >500</text>
<text x="348.2" y="230.8" font-size="8.3" font-family="Liberation Serif" text-anchor="middle" font-weight="normal" fill="#222" >1000</text>
<text x="371.84999999999997" y="230.8" font-size="8.3" font-family="Liberation Serif" text-anchor="middle" font-weight="normal" fill="#222" >1500</text>
<text x="395.5" y="230.8" font-size="8.3" font-family="Liberation Serif" text-anchor="middle" font-weight="normal" fill="#222" >2000</text>
<text x="350" y="239.2" font-size="8.2" font-family="Liberation Serif" text-anchor="middle" font-weight="normal" fill="#222" >Time (s)</text>
<text x="0" y="0" font-size="7.3" font-family="Liberation Serif" text-anchor="middle" font-weight="normal" fill="#222" transform="translate(292.6,187) rotate(-90)">Wavelength shift (pm)</text>
<line x1="300.9" y1="212.3" x2="398.6" y2="212.3" stroke="#333" stroke-width="0.6" stroke-dasharray="1.5,1.2"/>
<line x1="314.4" y1="142.6" x2="314.4" y2="222.5" stroke="#333" stroke-width="0.6" stroke-dasharray="1.5,1.2"/>
<line x1="369.3" y1="142.6" x2="369.3" y2="222.5" stroke="#333" stroke-width="0.6" stroke-dasharray="1.5,1.2"/>
<polyline points="300.9,211.6 301.1,210.9 301.4,210.7 301.6,209.9 301.8,210.9 302.1,210.0 302.3,214.7 302.5,212.4 302.7,209.9 303.0,211.4 303.2,210.1 303.4,214.2 303.7,212.4 303.9,213.5 304.1,212.0 304.4,211.8 304.6,214.8 304.8,213.7 305.1,213.4 305.3,210.0 305.5,210.8 305.7,214.0 306.0,210.6 306.2,214.1 306.4,211.6 306.7,214.2 306.9,214.8 307.1,210.3 307.4,213.7 307.6,213.7 307.8,209.7 308.1,210.2 308.3,213.3 308.5,209.8 308.7,212.0 309.0,211.3 309.2,213.7 309.4,209.9 309.7,211.2 309.9,209.8 310.1,210.1 310.4,213.3 310.6,212.9 310.8,214.0 311.1,214.1 311.3,214.5 311.5,213.2 311.8,211.7 312.0,214.8 312.2,211.3 312.4,213.1 312.7,213.2 312.9,210.5 313.1,212.3 313.4,213.2 313.6,212.3 313.8,211.1 314.1,214.5 314.3,209.7 314.5,214.7 314.8,210.6 315.0,209.6 315.2,215.9 315.4,207.3 315.7,211.2 315.9,208.4 316.1,213.9 316.4,213.0 316.6,211.0 316.8,202.4 317.1,209.8 317.3,203.4 317.5,201.1 317.8,200.4 318.0,206.2 318.2,205.5 318.4,203.2 318.7,200.1 318.9,206.5 319.1,199.3 319.4,198.3 319.6,197.1 319.8,205.2 320.1,195.1 320.3,203.6 320.5,200.4 320.8,197.1 321.0,193.8 321.2,199.8 321.4,193.6 321.7,197.6 321.9,200.0 322.1,199.9 322.4,201.3 322.6,202.3 322.8,201.5 323.1,195.8 323.3,192.5 323.5,201.3 323.8,202.4 324.0,192.5 324.2,197.2 324.4,198.5 324.7,200.3 324.9,196.5 325.1,194.0 325.4,197.8 325.6,198.2 325.8,202.0 326.1,192.9 326.3,202.1 326.5,197.2 326.8,193.6 327.0,201.0 327.2,194.6 327.4,192.3 327.7,195.6 327.9,193.9 328.1,201.0 328.4,197.5 328.6,200.5 328.8,193.1 329.1,198.9 329.3,197.2 329.5,191.4 329.8,192.9 330.0,191.6 330.2,197.0 330.5,196.6 330.7,194.0 330.9,196.6 331.1,198.5 331.4,197.3 331.6,200.0 331.8,197.5 332.1,191.1 332.3,191.3 332.5,194.8 332.8,196.1 333.0,197.7 333.2,200.3 333.5,198.3 333.7,192.9 333.9,192.0 334.1,197.3 334.4,192.8 334.6,192.8 334.8,193.6 335.1,193.9 335.3,192.9 335.5,197.0 335.8,193.4 336.0,197.8 336.2,195.6 336.5,192.6 336.7,193.4 336.9,197.5 337.1,190.6 337.4,193.7 337.6,194.3 337.8,200.3 338.1,194.6 338.3,197.7 338.5,193.2 338.8,195.4 339.0,191.6 339.2,193.4 339.5,191.7 339.7,196.4 339.9,193.3 340.1,192.2 340.4,191.3 340.6,196.2 340.8,191.0 341.1,190.7 341.3,192.6 341.5,189.5 341.8,189.7 342.0,194.2 342.2,194.1 342.5,197.8 342.7,190.8 342.9,189.7 343.1,194.4 343.4,192.2 343.6,191.8 343.8,191.7 344.1,197.5 344.3,191.1 344.5,193.1 344.8,192.2 345.0,194.7 345.2,192.5 345.5,190.9 345.7,192.3 345.9,191.4 346.2,198.6 346.4,197.2 346.6,194.2 346.8,192.0 347.1,196.5 347.3,191.5 347.5,192.0 347.8,198.2 348.0,193.6 348.2,196.2 348.5,198.0 348.7,197.1 348.9,195.2 349.2,196.6 349.4,196.4 349.6,198.1 349.8,193.6 350.1,194.4 350.3,192.0 350.5,192.2 350.8,195.9 351.0,188.9 351.2,198.3 351.5,194.1 351.7,195.4 351.9,194.0 352.2,197.1 352.4,189.6 352.6,194.3 352.8,197.9 353.1,191.8 353.3,197.2 353.5,192.5 353.8,194.6 354.0,192.1 354.2,188.1 354.5,189.6 354.7,193.7 354.9,189.6 355.2,191.4 355.4,194.2 355.6,196.6 355.8,191.8 356.1,192.1 356.3,188.0 356.5,187.8 356.8,191.6 357.0,194.3 357.2,188.6 357.5,197.9 357.7,196.8 357.9,192.0 358.2,191.5 358.4,196.4 358.6,191.3 358.8,188.5 359.1,193.9 359.3,193.3 359.5,195.4 359.8,194.7 360.0,187.6 360.2,193.8 360.5,187.7 360.7,188.2 360.9,191.5 361.2,195.0 361.4,187.4 361.6,192.5 361.8,193.3 362.1,194.3 362.3,187.3 362.5,192.5 362.8,194.6 363.0,192.6 363.2,196.3 363.5,191.0 363.7,192.9 363.9,194.5 364.2,189.3 364.4,188.8 364.6,197.4 364.9,191.9 365.1,194.6 365.3,187.6 365.5,189.2 365.8,194.8 366.0,194.6 366.2,195.8 366.5,187.0 366.7,194.3 366.9,191.0 367.2,192.3 367.4,190.5 367.6,191.0 367.9,189.5 368.1,196.0 368.3,189.3 368.5,194.1 368.8,191.6 369.0,193.7 369.2,194.1 369.5,191.6 369.7,192.3 369.9,193.4 370.2,189.9 370.4,192.1 370.6,198.5 370.9,196.9 371.1,195.4 371.3,191.1 371.5,192.1 371.8,196.3 372.0,202.5 372.2,195.1 372.5,199.3 372.7,198.4 372.9,197.6 373.2,199.0 373.4,201.2 373.6,197.3 373.9,203.5 374.1,204.0 374.3,199.8 374.5,207.3 374.8,206.6 375.0,201.0 375.2,209.1 375.5,201.0 375.7,202.5 375.9,205.2 376.2,206.7 376.4,201.6 376.6,200.2 376.9,208.3 377.1,204.7 377.3,204.0 377.5,204.5 377.8,206.3 378.0,208.1 378.2,203.6 378.5,201.2 378.7,209.0 378.9,207.3 379.2,201.1 379.4,201.4 379.6,202.8 379.9,209.5 380.1,202.2 380.3,199.5 380.5,199.3 380.8,202.4 381.0,209.2 381.2,200.9 381.5,207.4 381.7,203.0 381.9,199.8 382.2,202.3 382.4,208.3 382.6,206.7 382.9,200.1 383.1,208.2 383.3,203.3 383.6,205.4 383.8,208.1 384.0,203.2 384.2,209.3 384.5,208.6 384.7,205.8 384.9,209.0 385.2,209.1 385.4,203.7 385.6,202.0 385.9,200.5 386.1,208.3 386.3,205.2 386.6,206.4 386.8,203.4 387.0,204.6 387.2,199.9 387.5,205.8 387.7,209.2 387.9,202.4 388.2,208.2 388.4,203.1 388.6,204.4 388.9,200.2 389.1,203.9 389.3,203.2 389.6,207.0 389.8,204.0 390.0,207.1 390.2,201.9 390.5,204.3 390.7,208.3 390.9,207.3 391.2,205.9 391.4,202.0 391.6,207.9 391.9,202.3 392.1,202.9 392.3,208.9 392.6,202.7 392.8,208.8 393.0,208.4 393.2,203.5 393.5,207.2 393.7,200.5 393.9,204.7 394.2,206.4 394.4,201.4 394.6,209.4 394.9,202.1 395.1,209.2 395.3,208.2 395.6,199.8 395.8,202.6 396.0,207.4 396.2,208.5 396.5,199.5 396.7,202.8 396.9,201.1 397.2,208.3 397.4,203.2 397.6,206.0 397.9,207.3" fill="none" stroke="#30d090" stroke-width="0.8"/>
<polyline points="300.9,212.4 301.3,212.1 301.8,212.4 302.2,212.3 302.7,212.7 303.1,211.8 303.5,212.0 304.0,211.8 304.4,212.3 304.9,211.8 305.3,212.2 305.7,212.1 306.2,212.1 306.6,211.9 307.1,212.3 307.5,212.7 308.0,212.8 308.4,212.6 308.8,212.8 309.3,211.7 309.7,212.2 310.2,211.9 310.6,212.8 311.0,212.2 311.5,211.7 311.9,212.0 312.4,212.3 312.8,212.2 313.2,212.7 313.7,212.6 314.1,212.6 314.6,212.4 315.0,211.7 315.4,209.9 315.9,211.1 316.3,210.1 316.8,209.3 317.2,208.9 317.6,207.9 318.1,207.3 318.5,206.0 319.0,206.4 319.4,203.5 319.9,204.2 320.3,202.1 320.7,202.0 321.2,201.9 321.6,202.3 322.1,201.1 322.5,203.1 322.9,201.7 323.4,202.6 323.8,201.5 324.3,201.3 324.7,202.7 325.1,202.5 325.6,202.9 326.0,202.3 326.5,202.6 326.9,201.8 327.3,200.3 327.8,201.7 328.2,201.8 328.7,201.4 329.1,201.8 329.5,200.6 330.0,200.5 330.4,201.9 330.9,201.6 331.3,200.5 331.8,199.7 332.2,200.4 332.6,200.9 333.1,199.4 333.5,201.8 334.0,201.6 334.4,199.7 334.8,200.6 335.3,201.5 335.7,200.1 336.2,199.0 336.6,200.1 337.0,200.5 337.5,201.0 337.9,201.0 338.4,198.9 338.8,199.8 339.2,198.7 339.7,200.8 340.1,200.3 340.6,200.7 341.0,199.8 341.4,200.6 341.9,200.0 342.3,199.6 342.8,199.7 343.2,200.3 343.7,200.3 344.1,197.9 344.5,199.8 345.0,198.9 345.4,199.1 345.9,198.7 346.3,199.8 346.7,199.2 347.2,199.6 347.6,198.5 348.1,197.4 348.5,198.2 348.9,197.5 349.4,199.1 349.8,199.6 350.3,198.3 350.7,198.4 351.1,198.2 351.6,198.6 352.0,198.0 352.5,197.7 352.9,197.2 353.3,198.7 353.8,198.4 354.2,197.4 354.7,198.9 355.1,199.1 355.6,198.6 356.0,199.2 356.4,197.4 356.9,197.3 357.3,198.5 357.8,199.0 358.2,199.1 358.6,198.7 359.1,199.0 359.5,198.1 360.0,197.8 360.4,198.6 360.8,199.0 361.3,197.4 361.7,199.0 362.2,198.6 362.6,198.4 363.0,198.1 363.5,198.8 363.9,198.0 364.4,198.2 364.8,197.1 365.2,197.6 365.7,196.7 366.1,197.3 366.6,197.0 367.0,197.4 367.5,197.8 367.9,196.8 368.3,197.2 368.8,196.4 369.2,197.0 369.7,197.0 370.1,198.2 370.5,197.1 371.0,198.5 371.4,199.4 371.9,199.9 372.3,199.9 372.7,200.0 373.2,199.3 373.6,200.5 374.1,201.4 374.5,199.9 374.9,200.6 375.4,201.9 375.8,201.9 376.3,201.7 376.7,201.1 377.1,199.8 377.6,199.6 378.0,200.4 378.5,201.4 378.9,200.9 379.4,201.1 379.8,201.1 380.2,201.9 380.7,200.5 381.1,199.9 381.6,200.1 382.0,201.7 382.4,200.6 382.9,201.5 383.3,200.2 383.8,200.9 384.2,199.6 384.6,200.0 385.1,201.7 385.5,201.2 386.0,199.7 386.4,200.8 386.8,200.9 387.3,200.9 387.7,200.0 388.2,199.6 388.6,200.6 389.0,199.5 389.5,200.5 389.9,201.7 390.4,199.9 390.8,200.9 391.3,201.8 391.7,199.5 392.1,201.9 392.6,200.5 393.0,200.8 393.5,199.8 393.9,201.0 394.3,201.4 394.8,201.3 395.2,201.5 395.7,200.6 396.1,201.1 396.5,200.1 397.0,201.4 397.4,201.1 397.9,201.4" fill="none" stroke="#f03030" stroke-width="1.0"/>
<polyline points="300.9,211.5 301.3,211.7 301.7,211.7 302.1,212.0 302.5,212.3 302.9,212.7 303.3,211.7 303.7,212.2 304.1,212.8 304.5,212.7 304.9,212.8 305.3,211.9 305.7,211.6 306.2,212.6 306.6,211.8 307.0,212.4 307.4,211.9 307.8,211.7 308.2,212.0 308.6,211.8 309.0,212.4 309.4,212.9 309.8,212.2 310.2,212.1 310.6,212.6 311.0,212.4 311.4,212.5 311.8,212.9 312.2,212.5 312.6,212.4 313.0,212.2 313.4,211.9 313.8,212.3 314.2,211.5 314.6,211.7 315.0,211.1 315.4,210.7 315.8,210.3 316.3,210.2 316.7,209.0 317.1,209.8 317.5,208.7 317.9,208.0 318.3,208.0 318.7,208.2 319.1,208.3 319.5,207.8 319.9,206.6 320.3,205.5 320.7,204.6 321.1,204.6 321.5,205.7 321.9,203.9 322.3,205.7 322.7,204.4 323.1,206.2 323.5,204.2 323.9,204.4 324.3,203.6 324.7,203.7 325.1,204.2 325.5,203.8 325.9,204.0 326.4,204.3 326.8,205.4 327.2,204.5 327.6,203.4 328.0,205.2 328.4,203.1 328.8,204.3 329.2,204.6 329.6,205.7 330.0,204.6 330.4,205.1 330.8,203.7 331.2,203.0 331.6,202.9 332.0,203.7 332.4,204.3 332.8,205.1 333.2,203.4 333.6,203.7 334.0,203.2 334.4,204.2 334.8,202.7 335.2,204.5 335.6,204.2 336.0,204.3 336.5,203.3 336.9,202.4 337.3,204.4 337.7,203.1 338.1,202.7 338.5,204.2 338.9,204.6 339.3,203.1 339.7,202.3 340.1,202.2 340.5,202.5 340.9,203.4 341.3,203.3 341.7,203.0 342.1,201.9 342.5,203.5 342.9,203.6 343.3,202.6 343.7,201.6 344.1,203.7 344.5,204.1 344.9,203.8 345.3,202.5 345.7,202.4 346.2,203.5 346.6,203.4 347.0,202.3 347.4,202.1 347.8,201.9 348.2,201.8 348.6,203.6 349.0,202.5 349.4,201.5 349.8,201.2 350.2,203.0 350.6,201.5 351.0,202.1 351.4,201.3 351.8,203.3 352.2,202.0 352.6,201.6 353.0,202.6 353.4,203.7 353.8,203.4 354.2,203.6 354.6,203.7 355.0,203.6 355.4,202.3 355.8,203.8 356.3,201.9 356.7,202.0 357.1,201.8 357.5,201.8 357.9,202.1 358.3,201.5 358.7,201.5 359.1,202.4 359.5,201.5 359.9,203.9 360.3,203.9 360.7,204.0 361.1,203.6 361.5,203.2 361.9,203.0 362.3,202.3 362.7,202.2 363.1,204.0 363.5,203.2 363.9,202.8 364.3,203.3 364.7,204.0 365.1,202.7 365.5,203.3 365.9,202.5 366.4,203.0 366.8,201.7 367.2,201.8 367.6,204.2 368.0,202.3 368.4,202.4 368.8,203.6 369.2,204.1 369.6,203.1 370.0,203.5 370.4,202.6 370.8,202.2 371.2,203.8 371.6,204.2 372.0,203.7 372.4,203.3 372.8,203.1 373.2,203.9 373.6,204.8 374.0,204.8 374.4,203.4 374.8,204.4 375.2,205.8 375.6,204.7 376.0,205.2 376.5,204.0 376.9,205.7 377.3,205.1 377.7,205.6 378.1,204.6 378.5,203.1 378.9,204.4 379.3,204.8 379.7,203.3 380.1,205.6 380.5,204.9 380.9,203.6 381.3,205.9 381.7,203.8 382.1,204.9 382.5,205.9 382.9,205.2 383.3,204.6 383.7,204.8 384.1,204.5 384.5,205.8 384.9,205.3 385.3,203.2 385.7,204.7 386.1,204.6 386.6,205.7 387.0,205.1 387.4,203.2 387.8,204.0 388.2,204.5 388.6,205.8 389.0,204.8 389.4,203.7 389.8,204.7 390.2,204.2 390.6,203.4 391.0,204.1 391.4,204.1 391.8,205.8 392.2,205.8 392.6,203.7 393.0,204.7 393.4,203.5 393.8,203.6 394.2,203.3 394.6,204.8 395.0,203.1 395.4,203.8 395.8,203.4 396.2,205.5 396.7,203.7 397.1,204.7 397.5,203.2 397.9,203.1" fill="none" stroke="#4050f0" stroke-width="0.7"/>
<text x="302.4" y="220" font-size="6" font-family="Liberation Serif" text-anchor="start" font-weight="normal" fill="#222" >PBS</text>
<text x="318" y="220" font-size="6" font-family="Liberation Serif" text-anchor="start" font-weight="normal" fill="#222" >D-Biotin 1 fg/mL</text>
<text x="368.6" y="220" font-size="6" font-family="Liberation Serif" text-anchor="start" font-weight="normal" fill="#222" >PBS rinsing</text>
<rect x="350.7" y="144.5" width="45.9" height="21.7" fill="#fff" stroke="#999" stroke-width="0.5"/>
<line x1="352.5" y1="148.6" x2="364" y2="148.6" stroke="#30d090" stroke-width="0.9"/>
<text x="366" y="150.4" font-size="5.2" font-family="Liberation Serif" text-anchor="start" font-weight="normal" fill="#333" >EROMBRS 1</text>
<line x1="352.5" y1="155.29999999999998" x2="364" y2="155.29999999999998" stroke="#f03030" stroke-width="0.9"/>
<text x="366" y="157.1" font-size="5.2" font-family="Liberation Serif" text-anchor="start" font-weight="normal" fill="#333" >EROMBRS 2</text>
<line x1="352.5" y1="162.0" x2="364" y2="162.0" stroke="#4050f0" stroke-width="0.9"/>
<text x="366" y="163.8" font-size="5.2" font-family="Liberation Serif" text-anchor="start" font-weight="normal" fill="#333" >EROMBRS 3</text>
<rect x="442.8" y="142.8" width="92.90000000000003" height="79.0" fill="#fff" stroke="#555" stroke-width="0.7"/>
<text x="441.3" y="153.0" font-size="6.6" font-family="Liberation Serif" text-anchor="end" font-weight="normal" fill="#222" >2.0x10<tspan font-size="4" dy="-2.6">14</tspan></text>
<text x="441.3" y="170.5" font-size="6.6" font-family="Liberation Serif" text-anchor="end" font-weight="normal" fill="#222" >1.5x10<tspan font-size="4" dy="-2.6">14</tspan></text>
<text x="441.3" y="185.60000000000002" font-size="6.6" font-family="Liberation Serif" text-anchor="end" font-weight="normal" fill="#222" >1.0x10<tspan font-size="4" dy="-2.6">14</tspan></text>
<text x="441.3" y="200.5" font-size="6.6" font-family="Liberation Serif" text-anchor="end" font-weight="normal" fill="#222" >5.0x10<tspan font-size="4" dy="-2.6">13</tspan></text>
<text x="439.8" y="216.4" font-size="6.6" font-family="Liberation Serif" text-anchor="end" font-weight="normal" fill="#222" >0.0</text>
<text x="0" y="0" font-size="8.2" font-family="Liberation Serif" text-anchor="middle" font-weight="normal" fill="#222" transform="translate(417.6,184.2) rotate(-90)">MSD(molecules/cm<tspan font-size="5" dy="-2.5">2</tspan><tspan dy="2.5">)</tspan></text>
<text x="443.3" y="232" font-size="7.6" font-family="Liberation Serif" text-anchor="start" font-weight="normal" fill="#222" >10<tspan font-size="5" dy="-3.6">0</tspan></text>
<text x="459.7" y="232" font-size="7.6" font-family="Liberation Serif" text-anchor="start" font-weight="normal" fill="#222" >10<tspan font-size="5" dy="-3.6">1</tspan></text>
<text x="476.1" y="232" font-size="7.6" font-family="Liberation Serif" text-anchor="start" font-weight="normal" fill="#222" >10<tspan font-size="5" dy="-3.6">2</tspan></text>
<text x="492.5" y="232" font-size="7.6" font-family="Liberation Serif" text-anchor="start" font-weight="normal" fill="#222" >10<tspan font-size="5" dy="-3.6">3</tspan></text>
<text x="508.9" y="232" font-size="7.6" font-family="Liberation Serif" text-anchor="start" font-weight="normal" fill="#222" >10<tspan font-size="5" dy="-3.6">4</tspan></text>
<text x="525.3" y="232" font-size="7.6" font-family="Liberation Serif" text-anchor="start" font-weight="normal" fill="#222" >10<tspan font-size="5" dy="-3.6">5</tspan></text>
<text x="486" y="238.4" font-size="7.9" font-family="Liberation Serif" text-anchor="middle" font-weight="normal" fill="#222" >D-biotin concentration (fg/mL)</text>
<line x1="448" y1="211" x2="531" y2="162" stroke="#f07060" stroke-width="0.9"/>
<line x1="448.2" y1="207.5" x2="448.2" y2="212.5" stroke="#f07070" stroke-width="0.6"/>
<line x1="445.7" y1="207.5" x2="450.7" y2="207.5" stroke="#f07070" stroke-width="0.6"/>
<line x1="445.7" y1="212.5" x2="450.7" y2="212.5" stroke="#f07070" stroke-width="0.6"/>
<circle cx="448.2" cy="210" r="1.6" fill="#f07070"/>
<line x1="464.65" y1="200.5" x2="464.65" y2="203.5" stroke="#f07070" stroke-width="0.6"/>
<line x1="462.15" y1="200.5" x2="467.15" y2="200.5" stroke="#f07070" stroke-width="0.6"/>
<line x1="462.15" y1="203.5" x2="467.15" y2="203.5" stroke="#f07070" stroke-width="0.6"/>
<circle cx="464.65" cy="202" r="1.6" fill="#f07070"/>
<line x1="481.09999999999997" y1="192.5" x2="481.09999999999997" y2="195.5" stroke="#f07070" stroke-width="0.6"/>
<line x1="478.59999999999997" y1="192.5" x2="483.59999999999997" y2="192.5" stroke="#f07070" stroke-width="0.6"/>
<line x1="478.59999999999997" y1="195.5" x2="483.59999999999997" y2="195.5" stroke="#f07070" stroke-width="0.6"/>
<circle cx="481.09999999999997" cy="194" r="1.6" fill="#f07070"/>
<line x1="497.54999999999995" y1="179.3" x2="497.54999999999995" y2="187.3" stroke="#f07070" stroke-width="0.6"/>
<line x1="495.04999999999995" y1="179.3" x2="500.04999999999995" y2="179.3" stroke="#f07070" stroke-width="0.6"/>
<line x1="495.04999999999995" y1="187.3" x2="500.04999999999995" y2="187.3" stroke="#f07070" stroke-width="0.6"/>
<circle cx="497.54999999999995" cy="183.3" r="1.6" fill="#f07070"/>
<line x1="514.0" y1="165.5" x2="514.0" y2="176.5" stroke="#f07070" stroke-width="0.6"/>
<line x1="511.5" y1="165.5" x2="516.5" y2="165.5" stroke="#f07070" stroke-width="0.6"/>
<line x1="511.5" y1="176.5" x2="516.5" y2="176.5" stroke="#f07070" stroke-width="0.6"/>
<circle cx="514.0" cy="171" r="1.6" fill="#f07070"/>
<line x1="530.45" y1="152.0" x2="530.45" y2="161.0" stroke="#f07070" stroke-width="0.6"/>
<line x1="527.95" y1="152.0" x2="532.95" y2="152.0" stroke="#f07070" stroke-width="0.6"/>
<line x1="527.95" y1="161.0" x2="532.95" y2="161.0" stroke="#f07070" stroke-width="0.6"/>
<circle cx="530.45" cy="156.5" r="1.6" fill="#f07070"/>
<circle cx="448.2" cy="210" r="1" fill="#c040e0"/>
<circle cx="530.5" cy="156.5" r="1" fill="#c040e0"/>
<rect x="492.3" y="201.3" width="42.7" height="17.6" fill="#fff" stroke="#999" stroke-width="0.5"/>
<circle cx="500" cy="207.3" r="1.6" fill="#f07070"/>
<text x="508" y="209.2" font-size="5.6" font-family="Liberation Serif" text-anchor="start" font-weight="normal" fill="#333" >D-biotin</text>
<line x1="494" y1="214.3" x2="506" y2="214.3" stroke="#f07060" stroke-width="0.9"/>
<text x="508" y="216.2" font-size="5.6" font-family="Liberation Serif" text-anchor="start" font-weight="normal" fill="#333" >Linear Fit</text>
<text x="10.5" y="253.5" font-size="14.5" font-family="Liberation Serif" text-anchor="start" font-weight="bold" fill="#111" stroke="#111" stroke-width="0.35">(e)</text>
<path d="M32.4,270 L55.4,269.5 L55.4,286.5 L32.4,286.5 Q28.9,278.2 32.4,270 Z" fill="url(#stem)"/>
<path d="M117.6,268 L137.6,267.5 L135.1,274 L137.6,281.5 L117.6,282 Z" fill="url(#stem)"/>
<ellipse cx="86.5" cy="277" rx="39.1" ry="32.6" fill="#eeedcc" stroke="#e4e3bc" stroke-width="0.6"/>
<ellipse cx="87.5" cy="277.5" rx="35.1" ry="28.8" fill="url(#bub)"/>
<ellipse cx="86.5" cy="277" rx="35.6" ry="29.3" fill="none" stroke="#dedcae" stroke-width="0.5"/>
<ellipse cx="65.7" cy="271.6" rx="1.50" ry="2.70" fill="#3ab0e4" stroke="#2a80b8" stroke-width="0.35" transform="rotate(4 65.7 271.6)"/>
<ellipse cx="65.0" cy="281.2" rx="1.50" ry="2.70" fill="#3ab0e4" stroke="#2a80b8" stroke-width="0.35" transform="rotate(-4 65.0 281.2)"/>
<ellipse cx="74.6" cy="264.1" rx="1.50" ry="2.70" fill="#3ab0e4" stroke="#2a80b8" stroke-width="0.35" transform="rotate(11 74.6 264.1)"/>
<ellipse cx="76.6" cy="273.0" rx="1.50" ry="2.70" fill="#3ab0e4" stroke="#2a80b8" stroke-width="0.35" transform="rotate(3 76.6 273.0)"/>
<ellipse cx="75.9" cy="280.5" rx="1.50" ry="2.70" fill="#3ab0e4" stroke="#2a80b8" stroke-width="0.35" transform="rotate(-4 75.9 280.5)"/>
<ellipse cx="74.6" cy="288.7" rx="1.50" ry="2.70" fill="#3ab0e4" stroke="#2a80b8" stroke-width="0.35" transform="rotate(-11 74.6 288.7)"/>
<ellipse cx="84.8" cy="260.7" rx="1.50" ry="2.70" fill="#3ab0e4" stroke="#2a80b8" stroke-width="0.35" transform="rotate(14 84.8 260.7)"/>
<ellipse cx="86.2" cy="269.6" rx="1.50" ry="2.70" fill="#3ab0e4" stroke="#2a80b8" stroke-width="0.35" transform="rotate(6 86.2 269.6)"/>
<ellipse cx="85.7" cy="277.7" rx="1.50" ry="2.70" fill="#3ab0e4" stroke="#2a80b8" stroke-width="0.35" transform="rotate(-1 85.7 277.7)"/>
<ellipse cx="84.8" cy="285.9" rx="1.50" ry="2.70" fill="#3ab0e4" stroke="#2a80b8" stroke-width="0.35" transform="rotate(-9 84.8 285.9)"/>
<ellipse cx="82.7" cy="293.4" rx="1.50" ry="2.70" fill="#3ab0e4" stroke="#2a80b8" stroke-width="0.35" transform="rotate(-15 82.7 293.4)"/>
<ellipse cx="94.3" cy="260.7" rx="1.50" ry="2.70" fill="#3ab0e4" stroke="#2a80b8" stroke-width="0.35" transform="rotate(-14 94.3 260.7)"/>
<ellipse cx="93.0" cy="269.6" rx="1.50" ry="2.70" fill="#3ab0e4" stroke="#2a80b8" stroke-width="0.35" transform="rotate(-6 93.0 269.6)"/>
<ellipse cx="92.6" cy="277.7" rx="1.50" ry="2.70" fill="#3ab0e4" stroke="#2a80b8" stroke-width="0.35" transform="rotate(1 92.6 277.7)"/>
<ellipse cx="93.4" cy="285.9" rx="1.50" ry="2.70" fill="#3ab0e4" stroke="#2a80b8" stroke-width="0.35" transform="rotate(9 93.4 285.9)"/>
<ellipse cx="94.3" cy="293.4" rx="1.50" ry="2.70" fill="#3ab0e4" stroke="#2a80b8" stroke-width="0.35" transform="rotate(15 94.3 293.4)"/>
<ellipse cx="103.9" cy="265.5" rx="1.50" ry="2.70" fill="#3ab0e4" stroke="#2a80b8" stroke-width="0.35" transform="rotate(-10 103.9 265.5)"/>
<ellipse cx="101.8" cy="273.0" rx="1.50" ry="2.70" fill="#3ab0e4" stroke="#2a80b8" stroke-width="0.35" transform="rotate(-3 101.8 273.0)"/>
<ellipse cx="101.6" cy="281.2" rx="1.50" ry="2.70" fill="#3ab0e4" stroke="#2a80b8" stroke-width="0.35" transform="rotate(4 101.6 281.2)"/>
<ellipse cx="102.5" cy="289.3" rx="1.50" ry="2.70" fill="#3ab0e4" stroke="#2a80b8" stroke-width="0.35" transform="rotate(12 102.5 289.3)"/>
<ellipse cx="111.4" cy="273.0" rx="1.50" ry="2.70" fill="#3ab0e4" stroke="#2a80b8" stroke-width="0.35" transform="rotate(-3 111.4 273.0)"/>
<ellipse cx="112.0" cy="281.2" rx="1.50" ry="2.70" fill="#3ab0e4" stroke="#2a80b8" stroke-width="0.35" transform="rotate(4 112.0 281.2)"/>
<line x1="81.9" y1="255.3" x2="80.5" y2="249.9" stroke="#f04838" stroke-width="1.90"/>
<circle cx="81.9" cy="255.3" r="1.80" fill="#f4c418" stroke="#d89a10" stroke-width="0.3"/>
<line x1="96.4" y1="253.9" x2="97.8" y2="248.5" stroke="#f04838" stroke-width="1.90"/>
<circle cx="96.4" cy="253.9" r="1.80" fill="#f4c418" stroke="#d89a10" stroke-width="0.3"/>
<line x1="72.5" y1="258.0" x2="69.2" y2="253.4" stroke="#f04838" stroke-width="1.90"/>
<circle cx="72.5" cy="258.0" r="1.80" fill="#f4c418" stroke="#d89a10" stroke-width="0.3"/>
<line x1="105.9" y1="258.0" x2="109.2" y2="253.5" stroke="#f04838" stroke-width="1.90"/>
<circle cx="105.9" cy="258.0" r="1.80" fill="#f4c418" stroke="#d89a10" stroke-width="0.3"/>
<line x1="63.7" y1="265.5" x2="58.8" y2="262.8" stroke="#f04838" stroke-width="1.90"/>
<circle cx="63.7" cy="265.5" r="1.80" fill="#f4c418" stroke="#d89a10" stroke-width="0.3"/>
<line x1="113.5" y1="266.2" x2="118.5" y2="263.6" stroke="#f04838" stroke-width="1.90"/>
<circle cx="113.5" cy="266.2" r="1.80" fill="#f4c418" stroke="#d89a10" stroke-width="0.3"/>
<line x1="63.0" y1="287.3" x2="58.0" y2="289.9" stroke="#f04838" stroke-width="1.90"/>
<circle cx="63.0" cy="287.3" r="1.80" fill="#f4c418" stroke="#d89a10" stroke-width="0.3"/>
<line x1="114.1" y1="286.6" x2="119.1" y2="289.1" stroke="#f04838" stroke-width="1.90"/>
<circle cx="114.1" cy="286.6" r="1.80" fill="#f4c418" stroke="#d89a10" stroke-width="0.3"/>
<line x1="71.2" y1="295.5" x2="67.9" y2="300.0" stroke="#f04838" stroke-width="1.90"/>
<circle cx="71.2" cy="295.5" r="1.80" fill="#f4c418" stroke="#d89a10" stroke-width="0.3"/>
<line x1="105.3" y1="296.2" x2="108.4" y2="300.9" stroke="#f04838" stroke-width="1.90"/>
<circle cx="105.3" cy="296.2" r="1.80" fill="#f4c418" stroke="#d89a10" stroke-width="0.3"/>
<line x1="80.7" y1="298.9" x2="79.1" y2="304.3" stroke="#f04838" stroke-width="1.90"/>
<circle cx="80.7" cy="298.9" r="1.80" fill="#f4c418" stroke="#d89a10" stroke-width="0.3"/>
<line x1="95.7" y1="300.3" x2="96.9" y2="305.8" stroke="#f04838" stroke-width="1.90"/>
<circle cx="95.7" cy="300.3" r="1.80" fill="#f4c418" stroke="#d89a10" stroke-width="0.3"/>
<circle cx="65.1" cy="257.2" r="1.10" fill="#50b050" opacity="0.9"/>
<circle cx="66.9" cy="258.8" r="1.10" fill="#3050d0" opacity="0.9"/>
<circle cx="64.9" cy="259.4" r="0.80" fill="#e05050" opacity="0.9"/>
<circle cx="66.5" cy="258.0" r="0.70" fill="#30a0a0" opacity="0.9"/>
<circle cx="112.1" cy="292.2" r="1.10" fill="#50b050" opacity="0.9"/>
<circle cx="113.9" cy="293.8" r="1.10" fill="#3050d0" opacity="0.9"/>
<circle cx="111.9" cy="294.4" r="0.80" fill="#e05050" opacity="0.9"/>
<circle cx="113.5" cy="293.0" r="0.70" fill="#30a0a0" opacity="0.9"/>
<path d="M29.0,318.5 Q79.5,310.5 142.5,308.5 Q84.5,317 29.0,318.5 Z" fill="url(#shad)" filter="url(#blur05b)"/>
<path d="M32.099999999999994,359.7 L55.099999999999994,359.2 L55.099999999999994,376.2 L32.099999999999994,376.2 Q28.599999999999994,367.9 32.099999999999994,359.7 Z" fill="url(#stem)"/>
<path d="M118.5,357.7 L138.5,357.2 L136.0,363.7 L138.5,371.2 L118.5,371.7 Z" fill="url(#stem)"/>
<ellipse cx="86.8" cy="366.7" rx="39.7" ry="32.5" fill="#eeedcc" stroke="#e4e3bc" stroke-width="0.6"/>
<ellipse cx="87.8" cy="367.2" rx="35.7" ry="28.7" fill="url(#bub)"/>
<ellipse cx="86.8" cy="366.7" rx="36.2" ry="29.2" fill="none" stroke="#dedcae" stroke-width="0.5"/>
<ellipse cx="76.6" cy="353.7" rx="1.50" ry="2.70" fill="#3ab0e4" stroke="#2a80b8" stroke-width="0.35" transform="rotate(-222 76.6 353.7)"/>
<ellipse cx="84.8" cy="351.6" rx="1.50" ry="2.70" fill="#3ab0e4" stroke="#2a80b8" stroke-width="0.35" transform="rotate(-196 84.8 351.6)"/>
<ellipse cx="95.1" cy="351.6" rx="1.50" ry="2.70" fill="#3ab0e4" stroke="#2a80b8" stroke-width="0.35" transform="rotate(-161 95.1 351.6)"/>
<ellipse cx="103.9" cy="354.4" rx="1.50" ry="2.70" fill="#3ab0e4" stroke="#2a80b8" stroke-width="0.35" transform="rotate(-134 103.9 354.4)"/>
<ellipse cx="68.4" cy="361.9" rx="1.50" ry="2.70" fill="#3ab0e4" stroke="#2a80b8" stroke-width="0.35" transform="rotate(-254 68.4 361.9)"/>
<ellipse cx="79.4" cy="360.5" rx="1.50" ry="2.70" fill="#3ab0e4" stroke="#2a80b8" stroke-width="0.35" transform="rotate(-234 79.4 360.5)"/>
<ellipse cx="86.9" cy="359.8" rx="1.50" ry="2.70" fill="#3ab0e4" stroke="#2a80b8" stroke-width="0.35" transform="rotate(-198 86.9 359.8)"/>
<ellipse cx="93.7" cy="360.5" rx="1.50" ry="2.70" fill="#3ab0e4" stroke="#2a80b8" stroke-width="0.35" transform="rotate(-151 93.7 360.5)"/>
<ellipse cx="101.2" cy="361.2" rx="1.50" ry="2.70" fill="#3ab0e4" stroke="#2a80b8" stroke-width="0.35" transform="rotate(-120 101.2 361.2)"/>
<ellipse cx="110.8" cy="362.5" rx="1.50" ry="2.70" fill="#3ab0e4" stroke="#2a80b8" stroke-width="0.35" transform="rotate(-105 110.8 362.5)"/>
<ellipse cx="67.8" cy="374.8" rx="1.50" ry="2.70" fill="#3ab0e4" stroke="#2a80b8" stroke-width="0.35" transform="rotate(73 67.8 374.8)"/>
<ellipse cx="79.4" cy="373.5" rx="1.50" ry="2.70" fill="#3ab0e4" stroke="#2a80b8" stroke-width="0.35" transform="rotate(62 79.4 373.5)"/>
<ellipse cx="86.9" cy="374.1" rx="1.50" ry="2.70" fill="#3ab0e4" stroke="#2a80b8" stroke-width="0.35" transform="rotate(24 86.9 374.1)"/>
<ellipse cx="93.7" cy="374.1" rx="1.50" ry="2.70" fill="#3ab0e4" stroke="#2a80b8" stroke-width="0.35" transform="rotate(-34 93.7 374.1)"/>
<ellipse cx="101.2" cy="373.5" rx="1.50" ry="2.70" fill="#3ab0e4" stroke="#2a80b8" stroke-width="0.35" transform="rotate(-65 101.2 373.5)"/>
<ellipse cx="110.1" cy="373.5" rx="1.50" ry="2.70" fill="#3ab0e4" stroke="#2a80b8" stroke-width="0.35" transform="rotate(-75 110.1 373.5)"/>
<ellipse cx="76.6" cy="381.0" rx="1.50" ry="2.70" fill="#3ab0e4" stroke="#2a80b8" stroke-width="0.35" transform="rotate(45 76.6 381.0)"/>
<ellipse cx="85.5" cy="383.0" rx="1.50" ry="2.70" fill="#3ab0e4" stroke="#2a80b8" stroke-width="0.35" transform="rotate(15 85.5 383.0)"/>
<ellipse cx="94.4" cy="383.7" rx="1.50" ry="2.70" fill="#3ab0e4" stroke="#2a80b8" stroke-width="0.35" transform="rotate(-17 94.4 383.7)"/>
<ellipse cx="103.9" cy="381.0" rx="1.50" ry="2.70" fill="#3ab0e4" stroke="#2a80b8" stroke-width="0.35" transform="rotate(-48 103.9 381.0)"/>
<line x1="62.599999999999994" y1="368.0" x2="116.6" y2="368.0" stroke="#e87090" stroke-width="0.6"/>
<ellipse cx="72.5" cy="368.0" rx="1.50" ry="2.70" fill="#3ab0e4" stroke="#2a80b8" stroke-width="0.35" transform="rotate(90 72.5 368.0)"/>
<ellipse cx="82.1" cy="368.0" rx="1.50" ry="2.70" fill="#3ab0e4" stroke="#2a80b8" stroke-width="0.35" transform="rotate(90 82.1 368.0)"/>
<ellipse cx="90.3" cy="368.0" rx="1.50" ry="2.70" fill="#3ab0e4" stroke="#2a80b8" stroke-width="0.35" transform="rotate(90 90.3 368.0)"/>
<ellipse cx="99.8" cy="368.0" rx="1.50" ry="2.70" fill="#3ab0e4" stroke="#2a80b8" stroke-width="0.35" transform="rotate(90 99.8 368.0)"/>
<ellipse cx="108.7" cy="368.0" rx="1.50" ry="2.70" fill="#3ab0e4" stroke="#2a80b8" stroke-width="0.35" transform="rotate(90 108.7 368.0)"/>
<line x1="82.6" y1="346.9" x2="81.2" y2="341.5" stroke="#f04838" stroke-width="1.90"/>
<circle cx="82.6" cy="346.9" r="1.80" fill="#f4c418" stroke="#d89a10" stroke-width="0.3"/>
<line x1="97.1" y1="345.5" x2="98.5" y2="340.1" stroke="#f04838" stroke-width="1.90"/>
<circle cx="97.1" cy="345.5" r="1.80" fill="#f4c418" stroke="#d89a10" stroke-width="0.3"/>
<line x1="73.2" y1="349.6" x2="69.9" y2="345.0" stroke="#f04838" stroke-width="1.90"/>
<circle cx="73.2" cy="349.6" r="1.80" fill="#f4c418" stroke="#d89a10" stroke-width="0.3"/>
<line x1="106.6" y1="349.6" x2="109.9" y2="345.1" stroke="#f04838" stroke-width="1.90"/>
<circle cx="106.6" cy="349.6" r="1.80" fill="#f4c418" stroke="#d89a10" stroke-width="0.3"/>
<line x1="64.4" y1="357.1" x2="59.5" y2="354.4" stroke="#f04838" stroke-width="1.90"/>
<circle cx="64.4" cy="357.1" r="1.80" fill="#f4c418" stroke="#d89a10" stroke-width="0.3"/>
<line x1="114.2" y1="357.8" x2="119.2" y2="355.2" stroke="#f04838" stroke-width="1.90"/>
<circle cx="114.2" cy="357.8" r="1.80" fill="#f4c418" stroke="#d89a10" stroke-width="0.3"/>
<line x1="63.7" y1="378.9" x2="58.7" y2="381.5" stroke="#f04838" stroke-width="1.90"/>
<circle cx="63.7" cy="378.9" r="1.80" fill="#f4c418" stroke="#d89a10" stroke-width="0.3"/>
<line x1="114.8" y1="378.2" x2="119.8" y2="380.7" stroke="#f04838" stroke-width="1.90"/>
<circle cx="114.8" cy="378.2" r="1.80" fill="#f4c418" stroke="#d89a10" stroke-width="0.3"/>
<line x1="71.9" y1="387.1" x2="68.6" y2="391.6" stroke="#f04838" stroke-width="1.90"/>
<circle cx="71.9" cy="387.1" r="1.80" fill="#f4c418" stroke="#d89a10" stroke-width="0.3"/>
<line x1="106.0" y1="387.8" x2="109.1" y2="392.5" stroke="#f04838" stroke-width="1.90"/>
<circle cx="106.0" cy="387.8" r="1.80" fill="#f4c418" stroke="#d89a10" stroke-width="0.3"/>
<line x1="81.4" y1="390.5" x2="79.8" y2="395.9" stroke="#f04838" stroke-width="1.90"/>
<circle cx="81.4" cy="390.5" r="1.80" fill="#f4c418" stroke="#d89a10" stroke-width="0.3"/>
<line x1="96.4" y1="391.9" x2="97.6" y2="397.4" stroke="#f04838" stroke-width="1.90"/>
<circle cx="96.4" cy="391.9" r="1.80" fill="#f4c418" stroke="#d89a10" stroke-width="0.3"/>
<circle cx="65.6" cy="347.0" r="1.10" fill="#50b050" opacity="0.9"/>
<circle cx="67.4" cy="348.6" r="1.10" fill="#3050d0" opacity="0.9"/>
<circle cx="65.4" cy="349.2" r="0.80" fill="#e05050" opacity="0.9"/>
<circle cx="67.0" cy="347.8" r="0.70" fill="#30a0a0" opacity="0.9"/>
<circle cx="90.2" cy="340.8" r="1.10" fill="#50b050" opacity="0.9"/>
<circle cx="92.0" cy="342.4" r="1.10" fill="#3050d0" opacity="0.9"/>
<circle cx="90.0" cy="343.0" r="0.80" fill="#e05050" opacity="0.9"/>
<circle cx="91.6" cy="341.6" r="0.70" fill="#30a0a0" opacity="0.9"/>
<circle cx="103.1" cy="342.9" r="1.10" fill="#50b050" opacity="0.9"/>
<circle cx="104.9" cy="344.5" r="1.10" fill="#3050d0" opacity="0.9"/>
<circle cx="102.9" cy="345.1" r="0.80" fill="#e05050" opacity="0.9"/>
<circle cx="104.5" cy="343.7" r="0.70" fill="#30a0a0" opacity="0.9"/>
<circle cx="112.7" cy="381.1" r="1.10" fill="#50b050" opacity="0.9"/>
<circle cx="114.5" cy="382.7" r="1.10" fill="#3050d0" opacity="0.9"/>
<circle cx="112.5" cy="383.3" r="0.80" fill="#e05050" opacity="0.9"/>
<circle cx="114.1" cy="381.9" r="0.70" fill="#30a0a0" opacity="0.9"/>
<circle cx="74.5" cy="388.6" r="1.10" fill="#50b050" opacity="0.9"/>
<circle cx="76.3" cy="390.2" r="1.10" fill="#3050d0" opacity="0.9"/>
<circle cx="74.3" cy="390.8" r="0.80" fill="#e05050" opacity="0.9"/>
<circle cx="75.9" cy="389.4" r="0.70" fill="#30a0a0" opacity="0.9"/>
<path d="M29.299999999999997,408.2 Q79.8,400.2 142.8,398.2 Q84.8,406.7 29.299999999999997,408.2 Z" fill="url(#shad)" filter="url(#blur05b)"/>
<path d="M38.0,448.6 L61.0,448.1 L61.0,465.1 L38.0,465.1 Q34.5,456.8 38.0,448.6 Z" fill="url(#stem)"/>
<path d="M125.6,446.6 L145.6,446.1 L143.1,452.6 L145.6,460.1 L125.6,460.6 Z" fill="url(#stem)"/>
<ellipse cx="93.3" cy="455.6" rx="40.3" ry="32.5" fill="#eeedcc" stroke="#e4e3bc" stroke-width="0.6"/>
<ellipse cx="94.3" cy="456.1" rx="36.3" ry="28.7" fill="url(#bub)"/>
<ellipse cx="93.3" cy="455.6" rx="36.8" ry="29.2" fill="none" stroke="#dedcae" stroke-width="0.5"/>
<ellipse cx="90.7" cy="439.3" rx="1.65" ry="2.97" fill="#3ab0e4" stroke="#2a80b8" stroke-width="0.35" transform="rotate(111 90.7 439.3)"/>
<ellipse cx="96.2" cy="441.4" rx="1.65" ry="2.97" fill="#3ab0e4" stroke="#2a80b8" stroke-width="0.35" transform="rotate(87 96.2 441.4)"/>
<ellipse cx="101.6" cy="438.7" rx="1.65" ry="2.97" fill="#3ab0e4" stroke="#2a80b8" stroke-width="0.35" transform="rotate(63 101.6 438.7)"/>
<ellipse cx="82.5" cy="442.1" rx="1.65" ry="2.97" fill="#3ab0e4" stroke="#2a80b8" stroke-width="0.35" transform="rotate(119 82.5 442.1)"/>
<ellipse cx="88.7" cy="445.5" rx="1.65" ry="2.97" fill="#3ab0e4" stroke="#2a80b8" stroke-width="0.35" transform="rotate(113 88.7 445.5)"/>
<ellipse cx="95.5" cy="447.5" rx="1.65" ry="2.97" fill="#3ab0e4" stroke="#2a80b8" stroke-width="0.35" transform="rotate(93 95.5 447.5)"/>
<ellipse cx="103.0" cy="446.2" rx="1.65" ry="2.97" fill="#3ab0e4" stroke="#2a80b8" stroke-width="0.35" transform="rotate(71 103.0 446.2)"/>
<ellipse cx="109.1" cy="442.8" rx="1.65" ry="2.97" fill="#3ab0e4" stroke="#2a80b8" stroke-width="0.35" transform="rotate(61 109.1 442.8)"/>
<ellipse cx="75.7" cy="448.9" rx="1.65" ry="2.97" fill="#3ab0e4" stroke="#2a80b8" stroke-width="0.35" transform="rotate(117 75.7 448.9)"/>
<ellipse cx="83.9" cy="453.0" rx="1.65" ry="2.97" fill="#3ab0e4" stroke="#2a80b8" stroke-width="0.35" transform="rotate(114 83.9 453.0)"/>
<ellipse cx="90.7" cy="455.7" rx="1.65" ry="2.97" fill="#3ab0e4" stroke="#2a80b8" stroke-width="0.35" transform="rotate(90 90.7 455.7)"/>
<ellipse cx="98.9" cy="455.7" rx="1.65" ry="2.97" fill="#3ab0e4" stroke="#2a80b8" stroke-width="0.35" transform="rotate(90 98.9 455.7)"/>
<ellipse cx="106.4" cy="453.0" rx="1.65" ry="2.97" fill="#3ab0e4" stroke="#2a80b8" stroke-width="0.35" transform="rotate(68 106.4 453.0)"/>
<ellipse cx="113.9" cy="449.6" rx="1.65" ry="2.97" fill="#3ab0e4" stroke="#2a80b8" stroke-width="0.35" transform="rotate(66 113.9 449.6)"/>
<ellipse cx="75.0" cy="463.9" rx="1.65" ry="2.97" fill="#3ab0e4" stroke="#2a80b8" stroke-width="0.35" transform="rotate(63 75.0 463.9)"/>
<ellipse cx="83.2" cy="459.8" rx="1.65" ry="2.97" fill="#3ab0e4" stroke="#2a80b8" stroke-width="0.35" transform="rotate(67 83.2 459.8)"/>
<ellipse cx="106.4" cy="459.1" rx="1.65" ry="2.97" fill="#3ab0e4" stroke="#2a80b8" stroke-width="0.35" transform="rotate(112 106.4 459.1)"/>
<ellipse cx="115.9" cy="463.9" rx="1.65" ry="2.97" fill="#3ab0e4" stroke="#2a80b8" stroke-width="0.35" transform="rotate(117 115.9 463.9)"/>
<ellipse cx="80.5" cy="470.0" rx="1.65" ry="2.97" fill="#3ab0e4" stroke="#2a80b8" stroke-width="0.35" transform="rotate(59 80.5 470.0)"/>
<ellipse cx="87.3" cy="465.9" rx="1.65" ry="2.97" fill="#3ab0e4" stroke="#2a80b8" stroke-width="0.35" transform="rotate(69 87.3 465.9)"/>
<ellipse cx="94.8" cy="464.6" rx="1.65" ry="2.97" fill="#3ab0e4" stroke="#2a80b8" stroke-width="0.35" transform="rotate(90 94.8 464.6)"/>
<ellipse cx="103.0" cy="465.9" rx="1.65" ry="2.97" fill="#3ab0e4" stroke="#2a80b8" stroke-width="0.35" transform="rotate(111 103.0 465.9)"/>
<ellipse cx="109.1" cy="470.0" rx="1.65" ry="2.97" fill="#3ab0e4" stroke="#2a80b8" stroke-width="0.35" transform="rotate(124 109.1 470.0)"/>
<ellipse cx="89.3" cy="474.8" rx="1.65" ry="2.97" fill="#3ab0e4" stroke="#2a80b8" stroke-width="0.35" transform="rotate(64 89.3 474.8)"/>
<ellipse cx="94.8" cy="472.1" rx="1.65" ry="2.97" fill="#3ab0e4" stroke="#2a80b8" stroke-width="0.35" transform="rotate(90 94.8 472.1)"/>
<ellipse cx="100.3" cy="474.8" rx="1.65" ry="2.97" fill="#3ab0e4" stroke="#2a80b8" stroke-width="0.35" transform="rotate(116 100.3 474.8)"/>
<line x1="87.8" y1="435.3" x2="86.4" y2="429.9" stroke="#f04838" stroke-width="1.90"/>
<circle cx="87.8" cy="435.3" r="1.80" fill="#f4c418" stroke="#d89a10" stroke-width="0.3"/>
<line x1="102.3" y1="433.9" x2="103.7" y2="428.5" stroke="#f04838" stroke-width="1.90"/>
<circle cx="102.3" cy="433.9" r="1.80" fill="#f4c418" stroke="#d89a10" stroke-width="0.3"/>
<line x1="78.4" y1="438.0" x2="75.1" y2="433.4" stroke="#f04838" stroke-width="1.90"/>
<circle cx="78.4" cy="438.0" r="1.80" fill="#f4c418" stroke="#d89a10" stroke-width="0.3"/>
<line x1="111.8" y1="438.0" x2="115.1" y2="433.5" stroke="#f04838" stroke-width="1.90"/>
<circle cx="111.8" cy="438.0" r="1.80" fill="#f4c418" stroke="#d89a10" stroke-width="0.3"/>
<line x1="69.6" y1="445.5" x2="64.7" y2="442.8" stroke="#f04838" stroke-width="1.90"/>
<circle cx="69.6" cy="445.5" r="1.80" fill="#f4c418" stroke="#d89a10" stroke-width="0.3"/>
<line x1="119.4" y1="446.2" x2="124.4" y2="443.6" stroke="#f04838" stroke-width="1.90"/>
<circle cx="119.4" cy="446.2" r="1.80" fill="#f4c418" stroke="#d89a10" stroke-width="0.3"/>
<line x1="68.9" y1="467.3" x2="63.9" y2="469.9" stroke="#f04838" stroke-width="1.90"/>
<circle cx="68.9" cy="467.3" r="1.80" fill="#f4c418" stroke="#d89a10" stroke-width="0.3"/>
<line x1="120.0" y1="466.6" x2="125.0" y2="469.1" stroke="#f04838" stroke-width="1.90"/>
<circle cx="120.0" cy="466.6" r="1.80" fill="#f4c418" stroke="#d89a10" stroke-width="0.3"/>
<line x1="77.1" y1="475.5" x2="73.8" y2="480.0" stroke="#f04838" stroke-width="1.90"/>
<circle cx="77.1" cy="475.5" r="1.80" fill="#f4c418" stroke="#d89a10" stroke-width="0.3"/>
<line x1="111.2" y1="476.2" x2="114.3" y2="480.9" stroke="#f04838" stroke-width="1.90"/>
<circle cx="111.2" cy="476.2" r="1.80" fill="#f4c418" stroke="#d89a10" stroke-width="0.3"/>
<line x1="86.6" y1="478.9" x2="85.0" y2="484.3" stroke="#f04838" stroke-width="1.90"/>
<circle cx="86.6" cy="478.9" r="1.80" fill="#f4c418" stroke="#d89a10" stroke-width="0.3"/>
<line x1="101.6" y1="480.3" x2="102.8" y2="485.8" stroke="#f04838" stroke-width="1.90"/>
<circle cx="101.6" cy="480.3" r="1.80" fill="#f4c418" stroke="#d89a10" stroke-width="0.3"/>
<circle cx="70.8" cy="436.8" r="1.10" fill="#50b050" opacity="0.9"/>
<circle cx="72.6" cy="438.4" r="1.10" fill="#3050d0" opacity="0.9"/>
<circle cx="70.6" cy="439.0" r="0.80" fill="#e05050" opacity="0.9"/>
<circle cx="72.2" cy="437.6" r="0.70" fill="#30a0a0" opacity="0.9"/>
<circle cx="81.0" cy="431.2" r="1.10" fill="#50b050" opacity="0.9"/>
<circle cx="82.8" cy="432.8" r="1.10" fill="#3050d0" opacity="0.9"/>
<circle cx="80.8" cy="433.4" r="0.80" fill="#e05050" opacity="0.9"/>
<circle cx="82.4" cy="432.0" r="0.70" fill="#30a0a0" opacity="0.9"/>
<circle cx="107.6" cy="429.7" r="1.10" fill="#50b050" opacity="0.9"/>
<circle cx="109.4" cy="431.3" r="1.10" fill="#3050d0" opacity="0.9"/>
<circle cx="107.4" cy="431.9" r="0.80" fill="#e05050" opacity="0.9"/>
<circle cx="109.0" cy="430.5" r="0.70" fill="#30a0a0" opacity="0.9"/>
<circle cx="115.8" cy="437.5" r="1.10" fill="#50b050" opacity="0.9"/>
<circle cx="117.6" cy="439.1" r="1.10" fill="#3050d0" opacity="0.9"/>
<circle cx="115.6" cy="439.7" r="0.80" fill="#e05050" opacity="0.9"/>
<circle cx="117.2" cy="438.3" r="0.70" fill="#30a0a0" opacity="0.9"/>
<circle cx="124.0" cy="446.2" r="1.10" fill="#50b050" opacity="0.9"/>
<circle cx="125.8" cy="447.8" r="1.10" fill="#3050d0" opacity="0.9"/>
<circle cx="123.8" cy="448.4" r="0.80" fill="#e05050" opacity="0.9"/>
<circle cx="125.4" cy="447.0" r="0.70" fill="#30a0a0" opacity="0.9"/>
<circle cx="124.0" cy="462.0" r="1.10" fill="#50b050" opacity="0.9"/>
<circle cx="125.8" cy="463.6" r="1.10" fill="#3050d0" opacity="0.9"/>
<circle cx="123.8" cy="464.2" r="0.80" fill="#e05050" opacity="0.9"/>
<circle cx="125.4" cy="462.8" r="0.70" fill="#30a0a0" opacity="0.9"/>
<circle cx="116.5" cy="471.6" r="1.10" fill="#50b050" opacity="0.9"/>
<circle cx="118.3" cy="473.2" r="1.10" fill="#3050d0" opacity="0.9"/>
<circle cx="116.3" cy="473.8" r="0.80" fill="#e05050" opacity="0.9"/>
<circle cx="117.9" cy="472.4" r="0.70" fill="#30a0a0" opacity="0.9"/>
<circle cx="94.0" cy="479.7" r="1.10" fill="#50b050" opacity="0.9"/>
<circle cx="95.8" cy="481.3" r="1.10" fill="#3050d0" opacity="0.9"/>
<circle cx="93.8" cy="481.9" r="0.80" fill="#e05050" opacity="0.9"/>
<circle cx="95.4" cy="480.5" r="0.70" fill="#30a0a0" opacity="0.9"/>
<circle cx="78.3" cy="480.2" r="1.10" fill="#50b050" opacity="0.9"/>
<circle cx="80.1" cy="481.8" r="1.10" fill="#3050d0" opacity="0.9"/>
<circle cx="78.1" cy="482.4" r="0.80" fill="#e05050" opacity="0.9"/>
<circle cx="79.7" cy="481.0" r="0.70" fill="#30a0a0" opacity="0.9"/>
<circle cx="70.0" cy="471.6" r="1.10" fill="#50b050" opacity="0.9"/>
<circle cx="71.8" cy="473.2" r="1.10" fill="#3050d0" opacity="0.9"/>
<circle cx="69.8" cy="473.8" r="0.80" fill="#e05050" opacity="0.9"/>
<circle cx="71.4" cy="472.4" r="0.70" fill="#30a0a0" opacity="0.9"/>
<circle cx="106.3" cy="476.3" r="1.10" fill="#50b050" opacity="0.9"/>
<circle cx="108.1" cy="477.9" r="1.10" fill="#3050d0" opacity="0.9"/>
<circle cx="106.1" cy="478.5" r="0.80" fill="#e05050" opacity="0.9"/>
<circle cx="107.7" cy="477.1" r="0.70" fill="#30a0a0" opacity="0.9"/>
<path d="M35.8,497.1 Q86.3,489.1 149.3,487.1 Q91.3,495.6 35.8,497.1 Z" fill="url(#shad)" filter="url(#blur05b)"/>
<clipPath id="mc1"><rect x="183.3" y="254.2" width="85" height="44.3"/></clipPath>
<rect x="183.3" y="254.2" width="85" height="44.3" fill="#1a1806"/>
<g clip-path="url(#mc1)"><g filter="url(#blurM)">
<rect x="175.3" y="277.7" width="101" height="10" fill="#c09800"/>
<path d="M175.3,270.2 Q198.3,268.2 213.3,264.7 Q231.3,263.2 249.3,271.2 L261.3,277.2 L175.3,277.2 Z" fill="#d8b000"/>
<ellipse cx="223.3" cy="271.2" rx="24" ry="5" fill="#f4d400"/>
<ellipse cx="245.3" cy="282.2" rx="22" ry="4" fill="#e0b800"/>
</g>
<path d="M183.3,276.8 L228.3,277.09999999999997" stroke="#5a4800" stroke-width="1.3" opacity="0.55" filter="url(#blur1b)"/>
<path d="M245.3,282.4 L255.3,282.8" stroke="#3a2a00" stroke-width="1" opacity="0.4" filter="url(#blur1b)"/>
</g>
<line x1="243.3" y1="293.9" x2="265.3" y2="293.9" stroke="#fff" stroke-width="1.7"/>
<clipPath id="mc2"><rect x="183.3" y="345.7" width="85" height="44"/></clipPath>
<rect x="183.3" y="345.7" width="85" height="44" fill="#221806"/>
<g clip-path="url(#mc2)"><g filter="url(#blurM)">
<rect x="175.3" y="364.7" width="101" height="9" fill="#b88400"/>
<rect x="175.3" y="365.2" width="50" height="8" fill="#e0a800"/>
<path d="M195.3,364.7 Q203.3,349.7 219.3,350.7 Q233.3,352.7 255.3,365.7 Z" fill="#d8a800"/>
<ellipse cx="218.3" cy="357.7" rx="10" ry="5" fill="#f0c400"/>
<ellipse cx="220.3" cy="378.7" rx="14" ry="4" fill="#805400"/>
</g>
<path d="M223.3,366.7 L268.3,367.2" stroke="#e8c060" stroke-width="0.8" opacity="0.5" filter="url(#blur05)"/>
<path d="M223.3,370.7 L268.3,371.2" stroke="#604000" stroke-width="0.8" opacity="0.5" filter="url(#blur05)"/>
</g>
<line x1="243.3" y1="385.09999999999997" x2="265.3" y2="385.09999999999997" stroke="#fff" stroke-width="1.7"/>
<clipPath id="mc3"><rect x="183.3" y="433.7" width="85" height="44.8"/></clipPath>
<rect x="183.3" y="433.7" width="85" height="44.8" fill="#1c1204"/>
<g clip-path="url(#mc3)"><g filter="url(#blurM)">
<path d="M175.3,450.7 Q203.3,447.7 225.3,443.2 Q243.3,444.7 276.3,451.7 L276.3,466.7 L175.3,466.7 Z" fill="#e89000"/>
<ellipse cx="230.3" cy="457.7" rx="36" ry="7" fill="#f8c800"/>
<rect x="175.3" y="467.7" width="101" height="7" fill="#3a2200"/>
</g>
</g>
<line x1="243.3" y1="473.9" x2="265.3" y2="473.9" stroke="#fff" stroke-width="1.7"/>
<path d="M150.60000000000002,322 L164.0,322 L164.0,333 L171.3,333 L157.3,345.5 L143.3,333 L150.60000000000002,333 Z" fill="url(#garr)"/>
<path d="M152.8,407.8 L166.2,407.8 L166.2,418.8 L173.5,418.8 L159.5,431.3 L145.5,418.8 L152.8,418.8 Z" fill="url(#garr)"/>
<ellipse cx="79.6" cy="513.5" rx="2.5" ry="7" fill="#3ab0e4" stroke="#2a80b8" stroke-width="0.5"/>
<ellipse cx="78.8" cy="511" rx="0.8" ry="3.5" fill="#a0e0f8" opacity="0.6"/>
<text x="91" y="517.2" font-size="10.4" font-family="Liberation Sans" text-anchor="start" font-weight="normal" fill="#222" >LCs</text>
<circle cx="130.5" cy="511.5" r="1.3" fill="#e83838"/>
<circle cx="130.5" cy="514" r="1.3" fill="#e83838"/>
<circle cx="130.5" cy="516.5" r="1.3" fill="#e83838"/>
<circle cx="130.5" cy="519" r="1.3" fill="#e83838"/>
<circle cx="130.5" cy="521.5" r="1.3" fill="#e83838"/>
<circle cx="129" cy="507.5" r="2.6" fill="#f0c020" stroke="#c89010" stroke-width="0.4"/>
<text x="139" y="517.2" font-size="10.4" font-family="Liberation Sans" text-anchor="start" font-weight="normal" fill="#222" >DMOAP</text>
<circle cx="198" cy="507" r="2.2" fill="#50b050" opacity="0.85"/>
<circle cx="196" cy="510" r="1.8" fill="#40a060" opacity="0.85"/>
<circle cx="200" cy="511" r="1.9" fill="#70c070" opacity="0.85"/>
<circle cx="194" cy="514" r="1.7" fill="#e06060" opacity="0.85"/>
<circle cx="198" cy="515" r="2.2" fill="#3050d0" opacity="0.85"/>
<circle cx="201" cy="517" r="1.8" fill="#2040c0" opacity="0.85"/>
<circle cx="197" cy="519" r="1.6" fill="#4060e0" opacity="0.85"/>
<circle cx="202" cy="513" r="1.3" fill="#e05080" opacity="0.85"/>
<path d="M194,506 q3,-2 6,1 q2,2 4,0 M193,512 q2,3 5,1 M196,521 q3,1 6,-2" fill="none" stroke="#40a040" stroke-width="0.7"/>
<text x="209.6" y="517.2" font-size="10.4" font-family="Liberation Sans" text-anchor="start" font-weight="normal" fill="#222" >Proteins</text>
<text x="272" y="253.5" font-size="14.5" font-family="Liberation Serif" text-anchor="start" font-weight="bold" fill="#111" stroke="#111" stroke-width="0.35">(f)</text>
<rect x="318.2" y="249.8" width="83.5" height="66.80000000000001" fill="#fff" stroke="#555" stroke-width="0.6"/>
<text x="316.5" y="251.0" font-size="3.8" font-family="Liberation Sans" text-anchor="end" font-weight="normal" fill="#444" >0</text>
<text x="316.5" y="267.9" font-size="3.8" font-family="Liberation Sans" text-anchor="end" font-weight="normal" fill="#444" >-5</text>
<text x="316.5" y="284.8" font-size="3.8" font-family="Liberation Sans" text-anchor="end" font-weight="normal" fill="#444" >-10</text>
<text x="316.5" y="301.2" font-size="3.8" font-family="Liberation Sans" text-anchor="end" font-weight="normal" fill="#444" >-15</text>
<text x="316.5" y="317.59999999999997" font-size="3.8" font-family="Liberation Sans" text-anchor="end" font-weight="normal" fill="#444" >-20</text>
<text x="318.2" y="320.5" font-size="3.8" font-family="Liberation Sans" text-anchor="middle" font-weight="normal" fill="#444" >1565</text>
<text x="360.3" y="320.5" font-size="3.8" font-family="Liberation Sans" text-anchor="middle" font-weight="normal" fill="#444" >1570</text>
<text x="401.7" y="320.5" font-size="3.8" font-family="Liberation Sans" text-anchor="middle" font-weight="normal" fill="#444" >1575</text>
<text x="360" y="327" font-size="4.6" font-family="Liberation Sans" text-anchor="middle" font-weight="normal" fill="#333" >Wavelength (nm)</text>
<text x="0" y="0" font-size="4.2" font-family="Liberation Sans" text-anchor="middle" font-weight="normal" fill="#333" transform="translate(309.3,283) rotate(-90)">Transmission (dBm)</text>
<polyline points="318.7,260.0 319.1,260.7 319.5,258.5 319.9,256.7 320.3,259.6 320.8,259.7 321.2,261.6 321.6,265.4 322.0,267.7 322.4,267.7 322.8,267.2 323.2,270.5 323.6,274.7 324.1,278.8 324.5,276.5 324.9,273.1 325.3,269.4 325.7,266.9 326.1,269.5 326.5,269.8 326.9,269.0 327.4,269.7 327.8,272.1 328.2,272.6 328.6,273.1 329.0,270.2 329.4,273.3 329.8,273.6 330.2,270.9 330.7,273.3 331.1,271.2 331.5,273.8 331.9,270.7 332.3,270.3 332.7,272.2 333.1,271.1 333.6,269.5 334.0,269.2 334.4,270.2 334.8,271.5 335.2,274.9 335.6,273.8 336.0,274.4 336.4,277.5 336.8,276.1 337.3,277.3 337.7,276.7 338.1,272.8 338.5,269.8 338.9,267.9 339.3,266.3 339.7,266.3 340.1,263.3 340.6,260.2 341.0,261.7 341.4,258.7 341.8,259.5 342.2,257.0 342.6,259.8 343.0,260.2 343.4,260.8 343.9,263.3 344.3,265.1 344.7,267.2 345.1,266.9 345.5,267.7 345.9,274.3 346.3,279.8 346.8,279.1 347.2,272.6 347.6,270.4 348.0,265.9 348.4,267.9 348.8,268.0 349.2,270.9 349.6,270.8 350.1,269.9 350.5,269.9 350.9,272.3 351.3,270.2 351.7,271.8 352.1,271.5 352.5,270.8 352.9,273.1 353.3,273.2 353.8,273.3 354.2,271.6 354.6,273.0 355.0,271.1 355.4,272.2 355.8,271.0 356.2,270.6 356.6,269.8 357.1,273.7 357.5,273.8 357.9,274.8 358.3,274.9 358.7,274.7 359.1,275.5 359.5,278.0 359.9,277.2 360.4,274.5 360.8,271.0 361.2,268.8 361.6,266.3 362.0,266.7 362.4,263.4 362.8,261.2 363.2,259.6 363.7,260.8 364.1,260.2 364.5,258.5 364.9,256.9 365.3,261.0 365.7,262.4 366.1,262.9 366.6,265.3 367.0,265.7 367.4,268.1 367.8,268.1 368.2,274.0 368.6,276.4 369.0,280.1 369.4,275.9 369.8,271.0 370.3,266.5 370.7,267.2 371.1,269.3 371.5,267.9 371.9,270.3 372.3,271.2 372.7,272.4 373.1,272.2 373.6,271.6 374.0,270.3 374.4,272.7 374.8,271.4 375.2,272.9 375.6,272.8 376.0,272.2 376.4,273.5 376.9,273.2 377.3,270.3 377.7,271.5 378.1,270.4 378.5,271.6 378.9,272.2 379.3,272.3 379.8,273.5 380.2,274.2 380.6,273.9 381.0,277.3 381.4,276.9 381.8,277.2 382.2,278.4 382.6,273.6 383.0,272.7 383.5,270.1 383.9,268.8 384.3,266.9 384.7,263.6 385.1,261.2 385.5,260.9 385.9,261.1 386.4,260.7 386.8,259.9 387.2,256.8 387.6,258.7 388.0,261.6 388.4,264.1 388.8,264.3 389.2,267.4 389.6,266.4 390.1,269.9 390.5,271.1 390.9,276.3 391.3,280.3 391.7,277.9 392.1,272.4 392.5,269.3 392.9,267.7 393.4,268.1 393.8,270.3 394.2,268.9 394.6,269.3 395.0,272.4 395.4,271.5 395.8,270.7 396.2,273.2 396.7,272.8 397.1,271.1 397.5,272.8 397.9,271.9 398.3,271.3 398.7,271.1 399.1,271.1 399.5,271.7 400.0,270.8 400.4,271.0 400.8,269.6 401.2,271.0" fill="none" stroke="#7080d8" stroke-width="0.7"/>
<polyline points="318.7,293.5 319.1,292.2 319.5,291.7 319.9,292.0 320.3,293.8 320.8,293.2 321.2,295.7 321.6,294.2 322.0,298.1 322.4,297.0 322.8,293.8 323.2,292.7 323.6,292.0 324.1,291.4 324.5,291.5 324.9,291.7 325.3,292.7 325.7,292.3 326.1,295.5 326.5,295.4 326.9,295.2 327.4,297.7 327.8,301.7 328.2,304.6 328.6,306.0 329.0,300.5 329.4,297.9 329.8,294.3 330.2,293.7 330.7,292.0 331.1,291.6 331.5,292.4 331.9,290.2 332.3,289.0 332.7,290.0 333.1,291.7 333.6,293.4 334.0,293.9 334.4,294.0 334.8,293.3 335.2,294.1 335.6,293.4 336.0,290.9 336.4,290.7 336.8,291.3 337.3,290.0 337.7,291.3 338.1,291.6 338.5,294.2 338.9,295.4 339.3,296.0 339.7,295.5 340.1,295.7 340.6,292.5 341.0,293.7 341.4,290.7 341.8,293.1 342.2,294.0 342.6,293.8 343.0,293.2 343.4,296.9 343.9,297.0 344.3,298.1 344.7,295.1 345.1,295.2 345.5,292.3 345.9,293.1 346.3,290.0 346.8,290.1 347.2,291.1 347.6,291.3 348.0,293.2 348.4,293.3 348.8,296.6 349.2,298.6 349.6,301.3 350.1,302.5 350.5,307.3 350.9,304.0 351.3,299.6 351.7,296.5 352.1,295.1 352.5,293.1 352.9,293.6 353.3,292.4 353.8,292.5 354.2,291.2 354.6,292.0 355.0,292.5 355.4,292.6 355.8,292.8 356.2,294.3 356.6,294.8 357.1,294.7 357.5,292.1 357.9,291.8 358.3,291.6 358.7,290.4 359.1,290.8 359.5,290.6 359.9,292.6 360.4,295.0 360.8,293.1 361.2,296.3 361.6,294.8 362.0,295.4 362.4,295.2 362.8,293.5 363.2,291.8 363.7,292.7 364.1,291.9 364.5,292.6 364.9,294.1 365.3,296.2 365.7,297.4 366.1,295.9 366.6,295.5 367.0,294.6 367.4,293.6 367.8,293.5 368.2,290.9 368.6,289.2 369.0,290.1 369.4,292.7 369.8,294.3 370.3,293.0 370.7,293.5 371.1,296.2 371.5,298.6 371.9,302.8 372.3,306.5 372.7,305.2 373.1,299.3 373.6,295.8 374.0,293.6 374.4,292.1 374.8,292.0 375.2,292.0 375.6,292.2 376.0,291.7 376.4,289.2 376.9,292.0 377.3,292.0 377.7,294.2 378.1,293.9 378.5,295.5 378.9,293.6 379.3,291.9 379.8,292.9 380.2,291.6 380.6,291.2 381.0,291.6 381.4,292.1 381.8,293.5 382.2,292.8 382.6,294.1 383.0,296.3 383.5,294.6 383.9,293.8 384.3,293.2 384.7,294.2 385.1,291.2 385.5,292.1 385.9,292.6 386.4,292.9 386.8,292.5 387.2,294.8 387.6,296.4 388.0,296.7 388.4,296.8 388.8,295.0 389.2,295.3 389.6,293.9 390.1,291.6 390.5,289.5 390.9,291.3 391.3,290.7 391.7,293.1 392.1,294.9 392.5,294.7 392.9,294.7 393.4,298.8 393.8,303.4 394.2,304.9 394.6,304.6 395.0,302.7 395.4,297.4 395.8,295.0 396.2,292.1 396.7,291.2 397.1,291.3 397.5,291.0 397.9,291.4 398.3,291.2 398.7,291.1 399.1,290.9 399.5,292.4 400.0,293.2 400.4,293.2 400.8,294.5 401.2,293.2" fill="none" stroke="#30a878" stroke-width="0.7"/>
<line x1="346.4" y1="276.8" x2="350.4" y2="304" stroke="#f04088" stroke-width="0.8" stroke-dasharray="1.3,1.1"/>
<line x1="368.8" y1="277.6" x2="372.3" y2="308.8" stroke="#f04088" stroke-width="0.8" stroke-dasharray="1.3,1.1"/>
<line x1="391.2" y1="281.6" x2="394.4" y2="312" stroke="#f04088" stroke-width="0.8" stroke-dasharray="1.3,1.1"/>
<rect x="317.8" y="297.6" width="27" height="19" fill="#fff" stroke="#888" stroke-width="0.4"/>
<text x="320" y="302" font-size="3" font-family="Liberation Sans" text-anchor="start" font-weight="normal" fill="#333" >10<tspan font-size="2" dy="-1.2">-7</tspan><tspan dy="1.2"> g/ml BSA</tspan></text>
<text x="320" y="306.2" font-size="3" font-family="Liberation Sans" text-anchor="start" font-weight="normal" fill="#333" >(Oil filled in)</text>
<line x1="319" y1="309.8" x2="326" y2="309.8" stroke="#7080d8" stroke-width="0.8"/>
<text x="327.5" y="310.9" font-size="3" font-family="Liberation Sans" text-anchor="start" font-weight="normal" fill="#333" >0 min</text>
<line x1="319" y1="314" x2="326" y2="314" stroke="#30a878" stroke-width="0.8"/>
<text x="327.5" y="315.1" font-size="3" font-family="Liberation Sans" text-anchor="start" font-weight="normal" fill="#333" >3 min</text>
<rect x="443.6" y="250" width="83.29999999999995" height="68" fill="#fff" stroke="#555" stroke-width="0.6"/>
<text x="442" y="251.2" font-size="3.8" font-family="Liberation Sans" text-anchor="end" font-weight="normal" fill="#444" >0.5</text>
<text x="442" y="264.56" font-size="3.8" font-family="Liberation Sans" text-anchor="end" font-weight="normal" fill="#444" >0.4</text>
<text x="442" y="277.92" font-size="3.8" font-family="Liberation Sans" text-anchor="end" font-weight="normal" fill="#444" >0.3</text>
<text x="442" y="291.28" font-size="3.8" font-family="Liberation Sans" text-anchor="end" font-weight="normal" fill="#444" >0.2</text>
<text x="442" y="304.64" font-size="3.8" font-family="Liberation Sans" text-anchor="end" font-weight="normal" fill="#444" >0.1</text>
<text x="442" y="318.0" font-size="3.8" font-family="Liberation Sans" text-anchor="end" font-weight="normal" fill="#444" >0.0</text>
<linearGradient id="bgf20" x1="0" y1="0" x2="0" y2="1"><stop offset="0" stop-color="#44c8e0"/><stop offset="1" stop-color="#c8f0f8"/></linearGradient>
<rect x="447.2" y="312.8" width="8.6" height="4.8" fill="url(#bgf20)"/>
<line x1="451.5" y1="311.8" x2="451.5" y2="313.8" stroke="#44c8e0" stroke-width="0.4" opacity="0.8"/>
<line x1="450.3" y1="311.8" x2="452.7" y2="311.8" stroke="#44c8e0" stroke-width="0.4" opacity="0.8"/>
<linearGradient id="bgf21" x1="0" y1="0" x2="0" y2="1"><stop offset="0" stop-color="#50a8ec"/><stop offset="1" stop-color="#d0ecfa"/></linearGradient>
<rect x="463.7" y="306.2" width="8.6" height="11.4" fill="url(#bgf21)"/>
<line x1="468.0" y1="304.7" x2="468.0" y2="307.7" stroke="#50a8ec" stroke-width="0.4" opacity="0.8"/>
<line x1="466.8" y1="304.7" x2="469.2" y2="304.7" stroke="#50a8ec" stroke-width="0.4" opacity="0.8"/>
<linearGradient id="bgf22" x1="0" y1="0" x2="0" y2="1"><stop offset="0" stop-color="#6890e8"/><stop offset="1" stop-color="#dfe8fa"/></linearGradient>
<rect x="480.3" y="301" width="8.6" height="16.6" fill="url(#bgf22)"/>
<line x1="484.6" y1="299" x2="484.6" y2="303" stroke="#6890e8" stroke-width="0.4" opacity="0.8"/>
<line x1="483.40000000000003" y1="299" x2="485.8" y2="299" stroke="#6890e8" stroke-width="0.4" opacity="0.8"/>
<linearGradient id="bgf23" x1="0" y1="0" x2="0" y2="1"><stop offset="0" stop-color="#a880e8"/><stop offset="1" stop-color="#ecdffa"/></linearGradient>
<rect x="496.8" y="294.4" width="8.6" height="23.2" fill="url(#bgf23)"/>
<line x1="501.1" y1="289.4" x2="501.1" y2="299.4" stroke="#a880e8" stroke-width="0.4" opacity="0.8"/>
<line x1="499.90000000000003" y1="289.4" x2="502.3" y2="289.4" stroke="#a880e8" stroke-width="0.4" opacity="0.8"/>
<linearGradient id="bgf24" x1="0" y1="0" x2="0" y2="1"><stop offset="0" stop-color="#8858c8"/><stop offset="1" stop-color="#e8d8f8"/></linearGradient>
<rect x="514" y="257.7" width="8.6" height="59.9" fill="url(#bgf24)"/>
<line x1="518.3" y1="251.7" x2="518.3" y2="263.7" stroke="#8858c8" stroke-width="0.4" opacity="0.8"/>
<line x1="517.0999999999999" y1="251.7" x2="519.5" y2="251.7" stroke="#8858c8" stroke-width="0.4" opacity="0.8"/>
<text x="451.5" y="322.2" font-size="3.2" font-family="Liberation Sans" text-anchor="middle" font-weight="normal" fill="#444" >10<tspan font-size="2" dy="-1.2">-8</tspan></text>
<text x="468.2" y="322.2" font-size="3.2" font-family="Liberation Sans" text-anchor="middle" font-weight="normal" fill="#444" >10<tspan font-size="2" dy="-1.2">-7</tspan></text>
<text x="484.9" y="322.2" font-size="3.2" font-family="Liberation Sans" text-anchor="middle" font-weight="normal" fill="#444" >10<tspan font-size="2" dy="-1.2">-6</tspan></text>
<text x="501.6" y="322.2" font-size="3.2" font-family="Liberation Sans" text-anchor="middle" font-weight="normal" fill="#444" >10<tspan font-size="2" dy="-1.2">-5</tspan></text>
<text x="518.3" y="322.2" font-size="3.2" font-family="Liberation Sans" text-anchor="middle" font-weight="normal" fill="#444" >10<tspan font-size="2" dy="-1.2">-4</tspan></text>
<text x="484.5" y="326.6" font-size="4.4" font-family="Liberation Sans" text-anchor="middle" font-weight="normal" fill="#333" >BSA concentration (g/ml)</text>
<text x="0" y="0" font-size="4.2" font-family="Liberation Sans" text-anchor="middle" font-weight="normal" fill="#333" transform="translate(432.5,284) rotate(-90)">Wavelength Shift (nm)</text>
<rect x="305" y="345.6" width="57.39999999999998" height="64.39999999999998" fill="#fff" stroke="#555" stroke-width="0.6"/>
<text x="303.5" y="351.2" font-size="3.8" font-family="Liberation Sans" text-anchor="end" font-weight="normal" fill="#444" >0.24</text>
<text x="303.5" y="369.59999999999997" font-size="3.8" font-family="Liberation Sans" text-anchor="end" font-weight="normal" fill="#444" >0.20</text>
<text x="303.5" y="387.8" font-size="3.8" font-family="Liberation Sans" text-anchor="end" font-weight="normal" fill="#444" >0.16</text>
<text x="303.5" y="405.8" font-size="3.8" font-family="Liberation Sans" text-anchor="end" font-weight="normal" fill="#444" >0.12</text>
<linearGradient id="bgf30" x1="0" y1="0" x2="0" y2="1"><stop offset="0" stop-color="#e850a0"/><stop offset="1" stop-color="#f8c0e0"/></linearGradient>
<rect x="306.6" y="394" width="7.8" height="15.6" fill="url(#bgf30)"/>
<line x1="310.5" y1="393" x2="310.5" y2="395" stroke="#e850a0" stroke-width="0.4" opacity="0.8"/>
<line x1="309.3" y1="393" x2="311.7" y2="393" stroke="#e850a0" stroke-width="0.4" opacity="0.8"/>
<linearGradient id="bgf31" x1="0" y1="0" x2="0" y2="1"><stop offset="0" stop-color="#e8d870"/><stop offset="1" stop-color="#f8f4d0"/></linearGradient>
<rect x="322" y="381.6" width="7.8" height="28.0" fill="url(#bgf31)"/>
<line x1="325.9" y1="378.6" x2="325.9" y2="384.6" stroke="#e8d870" stroke-width="0.4" opacity="0.8"/>
<line x1="324.7" y1="378.6" x2="327.09999999999997" y2="378.6" stroke="#e8d870" stroke-width="0.4" opacity="0.8"/>
<linearGradient id="bgf32" x1="0" y1="0" x2="0" y2="1"><stop offset="0" stop-color="#f0a070"/><stop offset="1" stop-color="#fae0d0"/></linearGradient>
<rect x="338" y="372.6" width="7.8" height="37.0" fill="url(#bgf32)"/>
<line x1="341.9" y1="368.6" x2="341.9" y2="376.6" stroke="#f0a070" stroke-width="0.4" opacity="0.8"/>
<line x1="340.7" y1="368.6" x2="343.09999999999997" y2="368.6" stroke="#f0a070" stroke-width="0.4" opacity="0.8"/>
<linearGradient id="bgf33" x1="0" y1="0" x2="0" y2="1"><stop offset="0" stop-color="#f07878"/><stop offset="1" stop-color="#fad8d8"/></linearGradient>
<rect x="353" y="359" width="7.8" height="50.6" fill="url(#bgf33)"/>
<line x1="356.9" y1="350" x2="356.9" y2="368" stroke="#f07878" stroke-width="0.4" opacity="0.8"/>
<line x1="355.7" y1="350" x2="358.09999999999997" y2="350" stroke="#f07878" stroke-width="0.4" opacity="0.8"/>
<line x1="310.4" y1="393.6" x2="358" y2="361" stroke="#4a90e0" stroke-width="0.6"/>
<text x="310.5" y="413.5" font-size="3.2" font-family="Liberation Sans" text-anchor="middle" font-weight="normal" fill="#444" >1x10<tspan font-size="2" dy="-1.2">-11</tspan></text>
<text x="326.0" y="413.5" font-size="3.2" font-family="Liberation Sans" text-anchor="middle" font-weight="normal" fill="#444" >4x10<tspan font-size="2" dy="-1.2">-11</tspan></text>
<text x="341.5" y="413.5" font-size="3.2" font-family="Liberation Sans" text-anchor="middle" font-weight="normal" fill="#444" >7x10<tspan font-size="2" dy="-1.2">-11</tspan></text>
<text x="357.0" y="413.5" font-size="3.2" font-family="Liberation Sans" text-anchor="middle" font-weight="normal" fill="#444" >1x10<tspan font-size="2" dy="-1.2">-10</tspan></text>
<text x="334" y="419" font-size="4.6" font-family="Liberation Sans" text-anchor="middle" font-weight="normal" fill="#333" >BSA Concentration (g/ml)</text>
<text x="0" y="0" font-size="4.2" font-family="Liberation Sans" text-anchor="middle" font-weight="normal" fill="#333" transform="translate(294.5,378) rotate(-90)">Total Wavelength Shift (nm)</text>
<rect x="389.7" y="337.5" width="150.09999999999997" height="82.89999999999998" fill="#fff" stroke="#555" stroke-width="0.6"/>
<text x="388" y="338.9" font-size="3.8" font-family="Liberation Sans" text-anchor="end" font-weight="normal" fill="#444" >4.00</text>
<text x="388" y="355.09999999999997" font-size="3.8" font-family="Liberation Sans" text-anchor="end" font-weight="normal" fill="#444" >2.00</text>
<text x="388" y="370.7" font-size="3.8" font-family="Liberation Sans" text-anchor="end" font-weight="normal" fill="#444" >1.00</text>
<text x="388" y="387.0" font-size="3.8" font-family="Liberation Sans" text-anchor="end" font-weight="normal" fill="#444" >0.50</text>
<text x="388" y="403.5" font-size="3.8" font-family="Liberation Sans" text-anchor="end" font-weight="normal" fill="#444" >0.24</text>
<text x="388" y="421.4" font-size="3.8" font-family="Liberation Sans" text-anchor="end" font-weight="normal" fill="#444" >0.11</text>
<linearGradient id="bgf40" x1="0" y1="0" x2="0" y2="1"><stop offset="0" stop-color="#e860a8"/><stop offset="1" stop-color="#fad0e8"/></linearGradient>
<rect x="393.5" y="414.6" width="7.8" height="5.4" fill="url(#bgf40)"/>
<line x1="397.4" y1="412.6" x2="397.4" y2="416.6" stroke="#e860a8" stroke-width="0.4" opacity="0.8"/>
<line x1="396.2" y1="412.6" x2="398.59999999999997" y2="412.6" stroke="#e860a8" stroke-width="0.4" opacity="0.8"/>
<linearGradient id="bgf41" x1="0" y1="0" x2="0" y2="1"><stop offset="0" stop-color="#f06080"/><stop offset="1" stop-color="#fad8e0"/></linearGradient>
<rect x="408.51" y="404.6" width="7.8" height="15.4" fill="url(#bgf41)"/>
<line x1="412.40999999999997" y1="402.6" x2="412.40999999999997" y2="406.6" stroke="#f06080" stroke-width="0.4" opacity="0.8"/>
<line x1="411.21" y1="402.6" x2="413.60999999999996" y2="402.6" stroke="#f06080" stroke-width="0.4" opacity="0.8"/>
<linearGradient id="bgf42" x1="0" y1="0" x2="0" y2="1"><stop offset="0" stop-color="#f09070"/><stop offset="1" stop-color="#fae0d8"/></linearGradient>
<rect x="423.52" y="396.1" width="7.8" height="23.9" fill="url(#bgf42)"/>
<line x1="427.41999999999996" y1="394.1" x2="427.41999999999996" y2="398.1" stroke="#f09070" stroke-width="0.4" opacity="0.8"/>
<line x1="426.21999999999997" y1="394.1" x2="428.61999999999995" y2="394.1" stroke="#f09070" stroke-width="0.4" opacity="0.8"/>
<linearGradient id="bgf43" x1="0" y1="0" x2="0" y2="1"><stop offset="0" stop-color="#f0b870"/><stop offset="1" stop-color="#faecd8"/></linearGradient>
<rect x="438.53" y="390.7" width="7.8" height="29.3" fill="url(#bgf43)"/>
<line x1="442.42999999999995" y1="388.7" x2="442.42999999999995" y2="392.7" stroke="#f0b870" stroke-width="0.4" opacity="0.8"/>
<line x1="441.22999999999996" y1="388.7" x2="443.62999999999994" y2="388.7" stroke="#f0b870" stroke-width="0.4" opacity="0.8"/>
<linearGradient id="bgf44" x1="0" y1="0" x2="0" y2="1"><stop offset="0" stop-color="#e8dc60"/><stop offset="1" stop-color="#f8f4d0"/></linearGradient>
<rect x="453.54" y="383.6" width="7.8" height="36.4" fill="url(#bgf44)"/>
<line x1="457.44" y1="381.6" x2="457.44" y2="385.6" stroke="#e8dc60" stroke-width="0.4" opacity="0.8"/>
<line x1="456.24" y1="381.6" x2="458.64" y2="381.6" stroke="#e8dc60" stroke-width="0.4" opacity="0.8"/>
<linearGradient id="bgf45" x1="0" y1="0" x2="0" y2="1"><stop offset="0" stop-color="#c8e060"/><stop offset="1" stop-color="#f0f8d8"/></linearGradient>
<rect x="468.55" y="379.2" width="7.8" height="40.8" fill="url(#bgf45)"/>
<line x1="472.45" y1="377.2" x2="472.45" y2="381.2" stroke="#c8e060" stroke-width="0.4" opacity="0.8"/>
<line x1="471.25" y1="377.2" x2="473.65" y2="377.2" stroke="#c8e060" stroke-width="0.4" opacity="0.8"/>
<linearGradient id="bgf46" x1="0" y1="0" x2="0" y2="1"><stop offset="0" stop-color="#50d860"/><stop offset="1" stop-color="#d8f8e0"/></linearGradient>
<rect x="483.56" y="372.3" width="7.8" height="47.7" fill="url(#bgf46)"/>
<line x1="487.46" y1="370.3" x2="487.46" y2="374.3" stroke="#50d860" stroke-width="0.4" opacity="0.8"/>
<line x1="486.26" y1="370.3" x2="488.65999999999997" y2="370.3" stroke="#50d860" stroke-width="0.4" opacity="0.8"/>
<linearGradient id="bgf47" x1="0" y1="0" x2="0" y2="1"><stop offset="0" stop-color="#40d0a0"/><stop offset="1" stop-color="#d8f8f0"/></linearGradient>
<rect x="498.57" y="363.5" width="7.8" height="56.5" fill="url(#bgf47)"/>
<line x1="502.46999999999997" y1="361.5" x2="502.46999999999997" y2="365.5" stroke="#40d0a0" stroke-width="0.4" opacity="0.8"/>
<line x1="501.27" y1="361.5" x2="503.66999999999996" y2="361.5" stroke="#40d0a0" stroke-width="0.4" opacity="0.8"/>
<linearGradient id="bgf48" x1="0" y1="0" x2="0" y2="1"><stop offset="0" stop-color="#40d8d8"/><stop offset="1" stop-color="#d8f8fa"/></linearGradient>
<rect x="513.58" y="354.4" width="7.8" height="65.6" fill="url(#bgf48)"/>
<line x1="517.48" y1="352.4" x2="517.48" y2="356.4" stroke="#40d8d8" stroke-width="0.4" opacity="0.8"/>
<line x1="516.28" y1="352.4" x2="518.6800000000001" y2="352.4" stroke="#40d8d8" stroke-width="0.4" opacity="0.8"/>
<linearGradient id="bgf49" x1="0" y1="0" x2="0" y2="1"><stop offset="0" stop-color="#50a8f0"/><stop offset="1" stop-color="#d8ecfa"/></linearGradient>
<rect x="528.59" y="347" width="7.8" height="73.0" fill="url(#bgf49)"/>
<line x1="532.49" y1="345" x2="532.49" y2="349" stroke="#50a8f0" stroke-width="0.4" opacity="0.8"/>
<line x1="531.29" y1="345" x2="533.69" y2="345" stroke="#50a8f0" stroke-width="0.4" opacity="0.8"/>
<line x1="397.3" y1="414.6" x2="532.7" y2="347" stroke="#b040e8" stroke-width="0.8"/>
<text x="397.4" y="424.3" font-size="3.2" font-family="Liberation Sans" text-anchor="middle" font-weight="normal" fill="#444" >10<tspan font-size="2" dy="-1.2">-15</tspan></text>
<text x="412.40999999999997" y="424.3" font-size="3.2" font-family="Liberation Sans" text-anchor="middle" font-weight="normal" fill="#444" >10<tspan font-size="2" dy="-1.2">-14</tspan></text>
<text x="427.41999999999996" y="424.3" font-size="3.2" font-family="Liberation Sans" text-anchor="middle" font-weight="normal" fill="#444" >10<tspan font-size="2" dy="-1.2">-13</tspan></text>
<text x="442.42999999999995" y="424.3" font-size="3.2" font-family="Liberation Sans" text-anchor="middle" font-weight="normal" fill="#444" >10<tspan font-size="2" dy="-1.2">-12</tspan></text>
<text x="457.44" y="424.3" font-size="3.2" font-family="Liberation Sans" text-anchor="middle" font-weight="normal" fill="#444" >10<tspan font-size="2" dy="-1.2">-11</tspan></text>
<text x="472.45" y="424.3" font-size="3.2" font-family="Liberation Sans" text-anchor="middle" font-weight="normal" fill="#444" >10<tspan font-size="2" dy="-1.2">-10</tspan></text>
<text x="487.46" y="424.3" font-size="3.2" font-family="Liberation Sans" text-anchor="middle" font-weight="normal" fill="#444" >10<tspan font-size="2" dy="-1.2">-9</tspan></text>
<text x="502.46999999999997" y="424.3" font-size="3.2" font-family="Liberation Sans" text-anchor="middle" font-weight="normal" fill="#444" >10<tspan font-size="2" dy="-1.2">-8</tspan></text>
<text x="517.48" y="424.3" font-size="3.2" font-family="Liberation Sans" text-anchor="middle" font-weight="normal" fill="#444" >10<tspan font-size="2" dy="-1.2">-7</tspan></text>
<text x="532.49" y="424.3" font-size="3.2" font-family="Liberation Sans" text-anchor="middle" font-weight="normal" fill="#444" >10<tspan font-size="2" dy="-1.2">-6</tspan></text>
<text x="0" y="0" font-size="4.2" font-family="Liberation Sans" text-anchor="middle" font-weight="normal" fill="#333" transform="translate(378.8,379) rotate(-90)">Total Wavelength Shift (nm)</text>
<circle cx="404.8" cy="411.7" r="15" fill="none" stroke="#3a90d8" stroke-width="0.9" stroke-dasharray="3,2"/>
<line x1="413" y1="399.5" x2="372" y2="352" stroke="#3a90d8" stroke-width="0.9" stroke-dasharray="3,2"/>
<path d="M370,349.5 L374.5,351.5 L371.8,354 Z" fill="#3a90d8"/>
<line x1="376" y1="425.8" x2="349" y2="424.2" stroke="#3a90d8" stroke-width="1" stroke-dasharray="4,2.5"/>
<path d="M346,424 L350,422.3 L350,425.8 Z" fill="#3a90d8"/>
<rect x="306" y="428" width="103.5" height="84" fill="#fff" stroke="#555" stroke-width="0.6"/>
<text x="304" y="429.9" font-size="3.8" font-family="Liberation Sans" text-anchor="end" font-weight="normal" fill="#444" >4.8</text>
<text x="304" y="445.7" font-size="3.8" font-family="Liberation Sans" text-anchor="end" font-weight="normal" fill="#444" >4.0</text>
<text x="304" y="461.2" font-size="3.8" font-family="Liberation Sans" text-anchor="end" font-weight="normal" fill="#444" >3.5</text>
<text x="304" y="477.0" font-size="3.8" font-family="Liberation Sans" text-anchor="end" font-weight="normal" fill="#444" >3.0</text>
<text x="304" y="492.2" font-size="3.8" font-family="Liberation Sans" text-anchor="end" font-weight="normal" fill="#444" >2.5</text>
<text x="304" y="507.9" font-size="3.8" font-family="Liberation Sans" text-anchor="end" font-weight="normal" fill="#444" >2.0</text>
<linearGradient id="bgf50" x1="0" y1="0" x2="0" y2="1"><stop offset="0" stop-color="#e8b880"/><stop offset="1" stop-color="#f4dcc0"/></linearGradient>
<rect x="310.7" y="503" width="10.6" height="8.6" fill="url(#bgf50)"/>
<line x1="316.0" y1="500" x2="316.0" y2="506" stroke="#e8b880" stroke-width="0.4" opacity="0.8"/>
<line x1="314.8" y1="500" x2="317.2" y2="500" stroke="#e8b880" stroke-width="0.4" opacity="0.8"/>
<linearGradient id="bgf51" x1="0" y1="0" x2="0" y2="1"><stop offset="0" stop-color="#b0b0b0"/><stop offset="1" stop-color="#dcdcdc"/></linearGradient>
<rect x="332" y="503" width="10.6" height="8.6" fill="url(#bgf51)"/>
<line x1="337.3" y1="500" x2="337.3" y2="506" stroke="#b0b0b0" stroke-width="0.4" opacity="0.8"/>
<line x1="336.1" y1="500" x2="338.5" y2="500" stroke="#b0b0b0" stroke-width="0.4" opacity="0.8"/>
<linearGradient id="bgf52" x1="0" y1="0" x2="0" y2="1"><stop offset="0" stop-color="#f08870"/><stop offset="1" stop-color="#f8c8b8"/></linearGradient>
<rect x="352.8" y="501.8" width="10.6" height="9.8" fill="url(#bgf52)"/>
<line x1="358.1" y1="498.8" x2="358.1" y2="504.8" stroke="#f08870" stroke-width="0.4" opacity="0.8"/>
<line x1="356.90000000000003" y1="498.8" x2="359.3" y2="498.8" stroke="#f08870" stroke-width="0.4" opacity="0.8"/>
<linearGradient id="bgf53" x1="0" y1="0" x2="0" y2="1"><stop offset="0" stop-color="#80c0a0"/><stop offset="1" stop-color="#c8e4d8"/></linearGradient>
<rect x="373.4" y="502" width="10.6" height="9.6" fill="url(#bgf53)"/>
<line x1="378.7" y1="499" x2="378.7" y2="505" stroke="#80c0a0" stroke-width="0.4" opacity="0.8"/>
<line x1="377.5" y1="499" x2="379.9" y2="499" stroke="#80c0a0" stroke-width="0.4" opacity="0.8"/>
<linearGradient id="bgf54" x1="0" y1="0" x2="0" y2="1"><stop offset="0" stop-color="#90a8d8"/><stop offset="1" stop-color="#c0d0ec"/></linearGradient>
<rect x="394.2" y="438" width="10.6" height="73.6" fill="url(#bgf54)"/>
<line x1="399.5" y1="433" x2="399.5" y2="443" stroke="#90a8d8" stroke-width="0.4" opacity="0.8"/>
<line x1="398.3" y1="433" x2="400.7" y2="433" stroke="#90a8d8" stroke-width="0.4" opacity="0.8"/>
<text x="316.0" y="516" font-size="3" font-family="Liberation Sans" text-anchor="middle" font-weight="normal" fill="#444" >IgG</text>
<text x="336.8" y="516" font-size="3" font-family="Liberation Sans" text-anchor="middle" font-weight="normal" fill="#444" >IgG+</text>
<text x="336.8" y="520" font-size="3" font-family="Liberation Sans" text-anchor="middle" font-weight="normal" fill="#444" >BSA</text>
<text x="357.6" y="516" font-size="3" font-family="Liberation Sans" text-anchor="middle" font-weight="normal" fill="#444" >IgG+</text>
<text x="357.6" y="520" font-size="3" font-family="Liberation Sans" text-anchor="middle" font-weight="normal" fill="#444" >Anti-HSA</text>
<text x="378.4" y="516" font-size="3" font-family="Liberation Sans" text-anchor="middle" font-weight="normal" fill="#444" >IgG+Anti-</text>
<text x="378.4" y="520" font-size="3" font-family="Liberation Sans" text-anchor="middle" font-weight="normal" fill="#444" >Mouse IgG</text>
<text x="399.2" y="516" font-size="3" font-family="Liberation Sans" text-anchor="middle" font-weight="normal" fill="#444" >IgG+Anti-</text>
<text x="399.2" y="520" font-size="3" font-family="Liberation Sans" text-anchor="middle" font-weight="normal" fill="#444" >Human IgG</text>
<text x="0" y="0" font-size="4.2" font-family="Liberation Sans" text-anchor="middle" font-weight="normal" fill="#333" transform="translate(295.5,470) rotate(-90)">Total Wavelength Shift (nm)</text>
<rect x="436.8" y="428" width="102.19999999999999" height="83.80000000000001" fill="#fff" stroke="#555" stroke-width="0.6"/>
<text x="435.2" y="429.2" font-size="3.8" font-family="Liberation Sans" text-anchor="end" font-weight="normal" fill="#444" >4.8</text>
<text x="435.2" y="449.5" font-size="3.8" font-family="Liberation Sans" text-anchor="end" font-weight="normal" fill="#444" >3.7</text>
<text x="435.2" y="470.7" font-size="3.8" font-family="Liberation Sans" text-anchor="end" font-weight="normal" fill="#444" >3.0</text>
<text x="435.2" y="493.9" font-size="3.8" font-family="Liberation Sans" text-anchor="end" font-weight="normal" fill="#444" >2.4</text>
<text x="435.2" y="512.2" font-size="3.8" font-family="Liberation Sans" text-anchor="end" font-weight="normal" fill="#444" >2.0</text>
<linearGradient id="bgf60" x1="0" y1="0" x2="0" y2="1"><stop offset="0" stop-color="#d8e088"/><stop offset="1" stop-color="#f0f4c8"/></linearGradient>
<rect x="439.5" y="502.8" width="7" height="8.6" fill="url(#bgf60)"/>
<line x1="443.0" y1="501.8" x2="443.0" y2="503.8" stroke="#d8e088" stroke-width="0.4" opacity="0.8"/>
<line x1="441.8" y1="501.8" x2="444.2" y2="501.8" stroke="#d8e088" stroke-width="0.4" opacity="0.8"/>
<linearGradient id="bgf61" x1="0" y1="0" x2="0" y2="1"><stop offset="0" stop-color="#d0d888"/><stop offset="1" stop-color="#eef2c8"/></linearGradient>
<rect x="452.46" y="501.5" width="7" height="9.9" fill="url(#bgf61)"/>
<line x1="455.96" y1="500.5" x2="455.96" y2="502.5" stroke="#d0d888" stroke-width="0.4" opacity="0.8"/>
<line x1="454.76" y1="500.5" x2="457.15999999999997" y2="500.5" stroke="#d0d888" stroke-width="0.4" opacity="0.8"/>
<linearGradient id="bgf62" x1="0" y1="0" x2="0" y2="1"><stop offset="0" stop-color="#c8d088"/><stop offset="1" stop-color="#eaeec8"/></linearGradient>
<rect x="465.42" y="496" width="7" height="15.4" fill="url(#bgf62)"/>
<line x1="468.92" y1="494.5" x2="468.92" y2="497.5" stroke="#c8d088" stroke-width="0.4" opacity="0.8"/>
<line x1="467.72" y1="494.5" x2="470.12" y2="494.5" stroke="#c8d088" stroke-width="0.4" opacity="0.8"/>
<linearGradient id="bgf63" x1="0" y1="0" x2="0" y2="1"><stop offset="0" stop-color="#c8c880"/><stop offset="1" stop-color="#ecebc8"/></linearGradient>
<rect x="478.38" y="490.8" width="7" height="20.6" fill="url(#bgf63)"/>
<line x1="481.88" y1="489.3" x2="481.88" y2="492.3" stroke="#c8c880" stroke-width="0.4" opacity="0.8"/>
<line x1="480.68" y1="489.3" x2="483.08" y2="489.3" stroke="#c8c880" stroke-width="0.4" opacity="0.8"/>
<linearGradient id="bgf64" x1="0" y1="0" x2="0" y2="1"><stop offset="0" stop-color="#c0b880"/><stop offset="1" stop-color="#e8e4c8"/></linearGradient>
<rect x="491.34000000000003" y="485" width="7" height="26.4" fill="url(#bgf64)"/>
<line x1="494.84000000000003" y1="483" x2="494.84000000000003" y2="487" stroke="#c0b880" stroke-width="0.4" opacity="0.8"/>
<line x1="493.64000000000004" y1="483" x2="496.04" y2="483" stroke="#c0b880" stroke-width="0.4" opacity="0.8"/>
<linearGradient id="bgf65" x1="0" y1="0" x2="0" y2="1"><stop offset="0" stop-color="#a89080"/><stop offset="1" stop-color="#e8d8d8"/></linearGradient>
<rect x="504.3" y="472.8" width="7" height="38.6" fill="url(#bgf65)"/>
<line x1="507.8" y1="470.3" x2="507.8" y2="475.3" stroke="#a89080" stroke-width="0.4" opacity="0.8"/>
<line x1="506.6" y1="470.3" x2="509.0" y2="470.3" stroke="#a89080" stroke-width="0.4" opacity="0.8"/>
<linearGradient id="bgf66" x1="0" y1="0" x2="0" y2="1"><stop offset="0" stop-color="#886078"/><stop offset="1" stop-color="#e8d0e8"/></linearGradient>
<rect x="517.26" y="455.4" width="7" height="56.0" fill="url(#bgf66)"/>
<line x1="520.76" y1="452.9" x2="520.76" y2="457.9" stroke="#886078" stroke-width="0.4" opacity="0.8"/>
<line x1="519.56" y1="452.9" x2="521.96" y2="452.9" stroke="#886078" stroke-width="0.4" opacity="0.8"/>
<linearGradient id="bgf67" x1="0" y1="0" x2="0" y2="1"><stop offset="0" stop-color="#502850"/><stop offset="1" stop-color="#d890e8"/></linearGradient>
<rect x="530.22" y="435.5" width="7" height="75.9" fill="url(#bgf67)"/>
<line x1="533.72" y1="432.0" x2="533.72" y2="439.0" stroke="#502850" stroke-width="0.4" opacity="0.8"/>
<line x1="532.52" y1="432.0" x2="534.9200000000001" y2="432.0" stroke="#502850" stroke-width="0.4" opacity="0.8"/>
<text x="443.0" y="516" font-size="3.2" font-family="Liberation Sans" text-anchor="middle" font-weight="normal" fill="#444" >10<tspan font-size="2" dy="-1.2">-15</tspan></text>
<text x="455.96" y="516" font-size="3.2" font-family="Liberation Sans" text-anchor="middle" font-weight="normal" fill="#444" >10<tspan font-size="2" dy="-1.2">-14</tspan></text>
<text x="468.92" y="516" font-size="3.2" font-family="Liberation Sans" text-anchor="middle" font-weight="normal" fill="#444" >10<tspan font-size="2" dy="-1.2">-13</tspan></text>
<text x="481.88" y="516" font-size="3.2" font-family="Liberation Sans" text-anchor="middle" font-weight="normal" fill="#444" >10<tspan font-size="2" dy="-1.2">-12</tspan></text>
<text x="494.84000000000003" y="516" font-size="3.2" font-family="Liberation Sans" text-anchor="middle" font-weight="normal" fill="#444" >10<tspan font-size="2" dy="-1.2">-11</tspan></text>
<text x="507.8" y="516" font-size="3.2" font-family="Liberation Sans" text-anchor="middle" font-weight="normal" fill="#444" >10<tspan font-size="2" dy="-1.2">-10</tspan></text>
<text x="520.76" y="516" font-size="3.2" font-family="Liberation Sans" text-anchor="middle" font-weight="normal" fill="#444" >10<tspan font-size="2" dy="-1.2">-9</tspan></text>
<text x="533.72" y="516" font-size="3.2" font-family="Liberation Sans" text-anchor="middle" font-weight="normal" fill="#444" >10<tspan font-size="2" dy="-1.2">-8</tspan></text>
<text x="488.5" y="521" font-size="4.4" font-family="Liberation Sans" text-anchor="middle" font-weight="normal" fill="#333" >Goat Anti-Human IgG Concentration (g/ml)</text>
<text x="0" y="0" font-size="4.2" font-family="Liberation Sans" text-anchor="middle" font-weight="normal" fill="#333" transform="translate(427,470) rotate(-90)">Total Wavelength Shift (nm)</text></svg></body></html>
